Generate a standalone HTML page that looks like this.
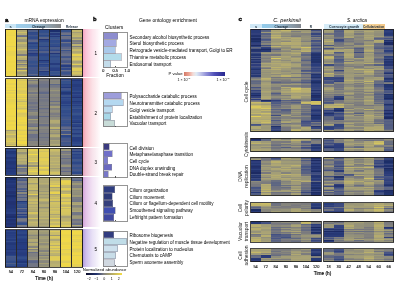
<!DOCTYPE html>
<html><head><meta charset="utf-8"><style>
html,body{margin:0;padding:0;background:#fff;width:400px;height:300px;overflow:hidden}
svg{display:block;font-family:"Liberation Sans",sans-serif}
</style></head><body>
<svg width="400" height="300" viewBox="0 0 400 300" shape-rendering="crispEdges">
<defs><linearGradient id="sg0" x1="0" x2="1" y1="0" y2="0"><stop offset="0" stop-color="#f7a8c4"/><stop offset="0.15" stop-color="#f7a8c4" stop-opacity="0.7"/><stop offset="0.5" stop-color="#f7a8c4" stop-opacity="0.35"/><stop offset="1" stop-color="#f7a8c4" stop-opacity="0.02"/></linearGradient><linearGradient id="sg1" x1="0" x2="1" y1="0" y2="0"><stop offset="0" stop-color="#f3a4b2"/><stop offset="0.15" stop-color="#f3a4b2" stop-opacity="0.7"/><stop offset="0.5" stop-color="#f3a4b2" stop-opacity="0.35"/><stop offset="1" stop-color="#f3a4b2" stop-opacity="0.02"/></linearGradient><linearGradient id="sg2" x1="0" x2="1" y1="0" y2="0"><stop offset="0" stop-color="#e6a8c2"/><stop offset="0.15" stop-color="#e6a8c2" stop-opacity="0.7"/><stop offset="0.5" stop-color="#e6a8c2" stop-opacity="0.35"/><stop offset="1" stop-color="#e6a8c2" stop-opacity="0.02"/></linearGradient><linearGradient id="sg3" x1="0" x2="1" y1="0" y2="0"><stop offset="0" stop-color="#d6a8dc"/><stop offset="0.15" stop-color="#d6a8dc" stop-opacity="0.7"/><stop offset="0.5" stop-color="#d6a8dc" stop-opacity="0.35"/><stop offset="1" stop-color="#d6a8dc" stop-opacity="0.02"/></linearGradient><linearGradient id="sg4" x1="0" x2="1" y1="0" y2="0"><stop offset="0" stop-color="#b8a2e2"/><stop offset="0.15" stop-color="#b8a2e2" stop-opacity="0.7"/><stop offset="0.5" stop-color="#b8a2e2" stop-opacity="0.35"/><stop offset="1" stop-color="#b8a2e2" stop-opacity="0.02"/></linearGradient>
<linearGradient id="hga" x1="0" x2="1"><stop offset="0" stop-color="#9fd0ee"/><stop offset="0.35" stop-color="#9cc6e0"/><stop offset="1" stop-color="#868686"/></linearGradient>
<linearGradient id="hgc" x1="0" x2="1"><stop offset="0" stop-color="#92ccec"/><stop offset="0.35" stop-color="#9cc4dc"/><stop offset="1" stop-color="#80848c"/></linearGradient>
<linearGradient id="hgo" x1="0" x2="1"><stop offset="0" stop-color="#f6d8a0"/><stop offset="1" stop-color="#f4c888"/></linearGradient>
<linearGradient id="pv" x1="0" x2="1"><stop offset="0" stop-color="#d47a68"/><stop offset="0.13" stop-color="#eea898"/><stop offset="0.22" stop-color="#f4dcd8"/><stop offset="0.3" stop-color="#e0ecf4"/><stop offset="0.4" stop-color="#c4c8ea"/><stop offset="0.55" stop-color="#9090d8"/><stop offset="0.75" stop-color="#5050b8"/><stop offset="1" stop-color="#282890"/></linearGradient>
<linearGradient id="na" x1="0" x2="1"><stop offset="0" stop-color="#0c0c28"/><stop offset="0.3" stop-color="#22336f"/><stop offset="0.5" stop-color="#808080"/><stop offset="1" stop-color="#f2dc48"/></linearGradient>
<filter id="bl" x="-5%" y="-5%" width="110%" height="110%"><feGaussianBlur stdDeviation="0.45"/></filter><filter id="bt" x="-5%" y="-5%" width="110%" height="110%"><feGaussianBlur stdDeviation="0.25"/></filter></defs>
<rect width="400" height="300" fill="#fff"/>
<g filter="url(#bl)"><rect x="5.30" y="29.00" width="77.30" height="47.50" fill="#2a2a2a"/><rect x="5.7" y="29.0" width="10.2" height="1.5" fill="#f0d848"/><rect x="5.7" y="30.4" width="10.2" height="1.5" fill="#f0d848"/><rect x="5.7" y="31.8" width="10.2" height="1.5" fill="#eed74a"/><rect x="5.7" y="33.2" width="10.2" height="1.5" fill="#edd64b"/><rect x="5.7" y="34.6" width="10.2" height="1.5" fill="#ead44e"/><rect x="5.7" y="36.0" width="10.2" height="1.5" fill="#f0d848"/><rect x="5.7" y="37.4" width="10.2" height="1.5" fill="#f0d848"/><rect x="5.7" y="38.8" width="10.2" height="1.5" fill="#f0d848"/><rect x="5.7" y="40.2" width="10.2" height="1.5" fill="#f0d848"/><rect x="5.7" y="41.6" width="10.2" height="1.5" fill="#eed74a"/><rect x="5.7" y="43.0" width="10.2" height="1.5" fill="#f0d848"/><rect x="5.7" y="44.4" width="10.2" height="1.5" fill="#f0d848"/><rect x="5.7" y="45.8" width="10.2" height="1.5" fill="#e4cf54"/><rect x="5.7" y="47.2" width="10.2" height="1.5" fill="#f0d848"/><rect x="5.7" y="48.6" width="10.2" height="1.5" fill="#f0d848"/><rect x="5.7" y="50.0" width="10.2" height="1.5" fill="#f0d848"/><rect x="5.7" y="51.4" width="10.2" height="1.5" fill="#e9d34f"/><rect x="5.7" y="52.8" width="10.2" height="1.5" fill="#e7d251"/><rect x="5.7" y="54.1" width="10.2" height="1.5" fill="#e9d34f"/><rect x="5.7" y="55.5" width="10.2" height="1.5" fill="#efd849"/><rect x="5.7" y="56.9" width="10.2" height="1.5" fill="#f0d848"/><rect x="5.7" y="58.3" width="10.2" height="1.5" fill="#f0d848"/><rect x="5.7" y="59.7" width="10.2" height="1.5" fill="#f0d848"/><rect x="5.7" y="61.1" width="10.2" height="1.5" fill="#eed64a"/><rect x="5.7" y="62.5" width="10.2" height="1.5" fill="#f0d848"/><rect x="5.7" y="63.9" width="10.2" height="1.5" fill="#efd849"/><rect x="5.7" y="65.3" width="10.2" height="1.5" fill="#eed74a"/><rect x="5.7" y="66.7" width="10.2" height="1.5" fill="#f0d848"/><rect x="5.7" y="68.1" width="10.2" height="1.5" fill="#f0d848"/><rect x="5.7" y="69.5" width="10.2" height="1.5" fill="#f0d848"/><rect x="5.7" y="70.9" width="10.2" height="1.5" fill="#ebd44d"/><rect x="5.7" y="72.3" width="10.2" height="1.5" fill="#ebd54d"/><rect x="5.7" y="73.7" width="10.2" height="1.5" fill="#f0d848"/><rect x="5.7" y="75.1" width="10.2" height="1.5" fill="#ebd54d"/><rect x="16.7" y="29.0" width="10.2" height="1.5" fill="#82827f"/><rect x="16.7" y="30.4" width="10.2" height="1.5" fill="#b3aa73"/><rect x="16.7" y="31.8" width="10.2" height="1.5" fill="#cbbd68"/><rect x="16.7" y="33.2" width="10.2" height="1.5" fill="#b6ad72"/><rect x="16.7" y="34.6" width="10.2" height="1.5" fill="#737785"/><rect x="16.7" y="36.0" width="10.2" height="1.5" fill="#686e88"/><rect x="16.7" y="37.4" width="10.2" height="1.5" fill="#b8af71"/><rect x="16.7" y="38.8" width="10.2" height="1.5" fill="#9d9978"/><rect x="16.7" y="40.2" width="10.2" height="1.5" fill="#96937a"/><rect x="16.7" y="41.6" width="10.2" height="1.5" fill="#c2b66d"/><rect x="16.7" y="43.0" width="10.2" height="1.5" fill="#c5b96b"/><rect x="16.7" y="44.4" width="10.2" height="1.5" fill="#afa874"/><rect x="16.7" y="45.8" width="10.2" height="1.5" fill="#a8a276"/><rect x="16.7" y="47.2" width="10.2" height="1.5" fill="#b9af70"/><rect x="16.7" y="48.6" width="10.2" height="1.5" fill="#d3c362"/><rect x="16.7" y="50.0" width="10.2" height="1.5" fill="#bbb170"/><rect x="16.7" y="51.4" width="10.2" height="1.5" fill="#aea674"/><rect x="16.7" y="52.8" width="10.2" height="1.5" fill="#aea774"/><rect x="16.7" y="54.1" width="10.2" height="1.5" fill="#7c7d82"/><rect x="16.7" y="55.5" width="10.2" height="1.5" fill="#c5b96b"/><rect x="16.7" y="56.9" width="10.2" height="1.5" fill="#c2b66d"/><rect x="16.7" y="58.3" width="10.2" height="1.5" fill="#b6ad71"/><rect x="16.7" y="59.7" width="10.2" height="1.5" fill="#7a7b82"/><rect x="16.7" y="61.1" width="10.2" height="1.5" fill="#999579"/><rect x="16.7" y="62.5" width="10.2" height="1.5" fill="#bfb46e"/><rect x="16.7" y="63.9" width="10.2" height="1.5" fill="#7d7e81"/><rect x="16.7" y="65.3" width="10.2" height="1.5" fill="#a49e76"/><rect x="16.7" y="66.7" width="10.2" height="1.5" fill="#cbbd67"/><rect x="16.7" y="68.1" width="10.2" height="1.5" fill="#8d8b7c"/><rect x="16.7" y="69.5" width="10.2" height="1.5" fill="#d8c75f"/><rect x="16.7" y="70.9" width="10.2" height="1.5" fill="#b4ab72"/><rect x="16.7" y="72.3" width="10.2" height="1.5" fill="#a49e76"/><rect x="16.7" y="73.7" width="10.2" height="1.5" fill="#b0a874"/><rect x="16.7" y="75.1" width="10.2" height="1.5" fill="#b9af70"/><rect x="27.8" y="29.0" width="10.2" height="1.5" fill="#37528b"/><rect x="27.8" y="30.4" width="10.2" height="1.5" fill="#4f5e88"/><rect x="27.8" y="31.8" width="10.2" height="1.5" fill="#2e4887"/><rect x="27.8" y="33.2" width="10.2" height="1.5" fill="#314b89"/><rect x="27.8" y="34.6" width="10.2" height="1.5" fill="#445789"/><rect x="27.8" y="36.0" width="10.2" height="1.5" fill="#36518c"/><rect x="27.8" y="37.4" width="10.2" height="1.5" fill="#304b89"/><rect x="27.8" y="38.8" width="10.2" height="1.5" fill="#4a5a88"/><rect x="27.8" y="40.2" width="10.2" height="1.5" fill="#5c6688"/><rect x="27.8" y="41.6" width="10.2" height="1.5" fill="#324d8a"/><rect x="27.8" y="43.0" width="10.2" height="1.5" fill="#294083"/><rect x="27.8" y="44.4" width="10.2" height="1.5" fill="#35518c"/><rect x="27.8" y="45.8" width="10.2" height="1.5" fill="#2f4988"/><rect x="27.8" y="47.2" width="10.2" height="1.5" fill="#36518c"/><rect x="27.8" y="48.6" width="10.2" height="1.5" fill="#566288"/><rect x="27.8" y="50.0" width="10.2" height="1.5" fill="#2d4686"/><rect x="27.8" y="51.4" width="10.2" height="1.5" fill="#445789"/><rect x="27.8" y="52.8" width="10.2" height="1.5" fill="#25397b"/><rect x="27.8" y="54.1" width="10.2" height="1.5" fill="#2b4385"/><rect x="27.8" y="55.5" width="10.2" height="1.5" fill="#3f558a"/><rect x="27.8" y="56.9" width="10.2" height="1.5" fill="#4d5c88"/><rect x="27.8" y="58.3" width="10.2" height="1.5" fill="#465889"/><rect x="27.8" y="59.7" width="10.2" height="1.5" fill="#40558a"/><rect x="27.8" y="61.1" width="10.2" height="1.5" fill="#36518c"/><rect x="27.8" y="62.5" width="10.2" height="1.5" fill="#3b538b"/><rect x="27.8" y="63.9" width="10.2" height="1.5" fill="#435789"/><rect x="27.8" y="65.3" width="10.2" height="1.5" fill="#324d8a"/><rect x="27.8" y="66.7" width="10.2" height="1.5" fill="#455889"/><rect x="27.8" y="68.1" width="10.2" height="1.5" fill="#445789"/><rect x="27.8" y="69.5" width="10.2" height="1.5" fill="#3d548a"/><rect x="27.8" y="70.9" width="10.2" height="1.5" fill="#41568a"/><rect x="27.8" y="72.3" width="10.2" height="1.5" fill="#3d548a"/><rect x="27.8" y="73.7" width="10.2" height="1.5" fill="#5f6888"/><rect x="27.8" y="75.1" width="10.2" height="1.5" fill="#3c548b"/><rect x="38.8" y="29.0" width="10.2" height="1.5" fill="#304988"/><rect x="38.8" y="30.4" width="10.2" height="1.5" fill="#324e8b"/><rect x="38.8" y="31.8" width="10.2" height="1.5" fill="#334f8b"/><rect x="38.8" y="33.2" width="10.2" height="1.5" fill="#40568a"/><rect x="38.8" y="34.6" width="10.2" height="1.5" fill="#2e4887"/><rect x="38.8" y="36.0" width="10.2" height="1.5" fill="#39528b"/><rect x="38.8" y="37.4" width="10.2" height="1.5" fill="#5c6688"/><rect x="38.8" y="38.8" width="10.2" height="1.5" fill="#213373"/><rect x="38.8" y="40.2" width="10.2" height="1.5" fill="#2e4787"/><rect x="38.8" y="41.6" width="10.2" height="1.5" fill="#39528b"/><rect x="38.8" y="43.0" width="10.2" height="1.5" fill="#3c548a"/><rect x="38.8" y="44.4" width="10.2" height="1.5" fill="#39528b"/><rect x="38.8" y="45.8" width="10.2" height="1.5" fill="#2b4385"/><rect x="38.8" y="47.2" width="10.2" height="1.5" fill="#435789"/><rect x="38.8" y="48.6" width="10.2" height="1.5" fill="#3b538b"/><rect x="38.8" y="50.0" width="10.2" height="1.5" fill="#314c8a"/><rect x="38.8" y="51.4" width="10.2" height="1.5" fill="#536088"/><rect x="38.8" y="52.8" width="10.2" height="1.5" fill="#324d8a"/><rect x="38.8" y="54.1" width="10.2" height="1.5" fill="#2d4586"/><rect x="38.8" y="55.5" width="10.2" height="1.5" fill="#324d8a"/><rect x="38.8" y="56.9" width="10.2" height="1.5" fill="#334f8b"/><rect x="38.8" y="58.3" width="10.2" height="1.5" fill="#334f8b"/><rect x="38.8" y="59.7" width="10.2" height="1.5" fill="#203271"/><rect x="38.8" y="61.1" width="10.2" height="1.5" fill="#2e4787"/><rect x="38.8" y="62.5" width="10.2" height="1.5" fill="#455889"/><rect x="38.8" y="63.9" width="10.2" height="1.5" fill="#2b4385"/><rect x="38.8" y="65.3" width="10.2" height="1.5" fill="#314c8a"/><rect x="38.8" y="66.7" width="10.2" height="1.5" fill="#4d5c88"/><rect x="38.8" y="68.1" width="10.2" height="1.5" fill="#445789"/><rect x="38.8" y="69.5" width="10.2" height="1.5" fill="#556288"/><rect x="38.8" y="70.9" width="10.2" height="1.5" fill="#25387a"/><rect x="38.8" y="72.3" width="10.2" height="1.5" fill="#2f4888"/><rect x="38.8" y="73.7" width="10.2" height="1.5" fill="#304a89"/><rect x="38.8" y="75.1" width="10.2" height="1.5" fill="#3d548a"/><rect x="49.9" y="29.0" width="10.2" height="1.5" fill="#3e558a"/><rect x="49.9" y="30.4" width="10.2" height="1.5" fill="#1e2e6c"/><rect x="49.9" y="31.8" width="10.2" height="1.5" fill="#3e558a"/><rect x="49.9" y="33.2" width="10.2" height="1.5" fill="#25397a"/><rect x="49.9" y="34.6" width="10.2" height="1.5" fill="#34508c"/><rect x="49.9" y="36.0" width="10.2" height="1.5" fill="#25387a"/><rect x="49.9" y="37.4" width="10.2" height="1.5" fill="#37528b"/><rect x="49.9" y="38.8" width="10.2" height="1.5" fill="#435789"/><rect x="49.9" y="40.2" width="10.2" height="1.5" fill="#334e8b"/><rect x="49.9" y="41.6" width="10.2" height="1.5" fill="#334f8b"/><rect x="49.9" y="43.0" width="10.2" height="1.5" fill="#3d548a"/><rect x="49.9" y="44.4" width="10.2" height="1.5" fill="#334e8b"/><rect x="49.9" y="45.8" width="10.2" height="1.5" fill="#2b4385"/><rect x="49.9" y="47.2" width="10.2" height="1.5" fill="#4b5b88"/><rect x="49.9" y="48.6" width="10.2" height="1.5" fill="#41568a"/><rect x="49.9" y="50.0" width="10.2" height="1.5" fill="#304a89"/><rect x="49.9" y="51.4" width="10.2" height="1.5" fill="#525f88"/><rect x="49.9" y="52.8" width="10.2" height="1.5" fill="#233677"/><rect x="49.9" y="54.1" width="10.2" height="1.5" fill="#38528b"/><rect x="49.9" y="55.5" width="10.2" height="1.5" fill="#2d4686"/><rect x="49.9" y="56.9" width="10.2" height="1.5" fill="#334f8b"/><rect x="49.9" y="58.3" width="10.2" height="1.5" fill="#39528b"/><rect x="49.9" y="59.7" width="10.2" height="1.5" fill="#35508c"/><rect x="49.9" y="61.1" width="10.2" height="1.5" fill="#35508c"/><rect x="49.9" y="62.5" width="10.2" height="1.5" fill="#263a7d"/><rect x="49.9" y="63.9" width="10.2" height="1.5" fill="#263b7d"/><rect x="49.9" y="65.3" width="10.2" height="1.5" fill="#34508c"/><rect x="49.9" y="66.7" width="10.2" height="1.5" fill="#2e4787"/><rect x="49.9" y="68.1" width="10.2" height="1.5" fill="#2a4184"/><rect x="49.9" y="69.5" width="10.2" height="1.5" fill="#283e82"/><rect x="49.9" y="70.9" width="10.2" height="1.5" fill="#3f558a"/><rect x="49.9" y="72.3" width="10.2" height="1.5" fill="#36518c"/><rect x="49.9" y="73.7" width="10.2" height="1.5" fill="#435789"/><rect x="49.9" y="75.1" width="10.2" height="1.5" fill="#293f83"/><rect x="60.9" y="29.0" width="10.2" height="1.5" fill="#495988"/><rect x="60.9" y="30.4" width="10.2" height="1.5" fill="#39528b"/><rect x="60.9" y="31.8" width="10.2" height="1.5" fill="#5c6688"/><rect x="60.9" y="33.2" width="10.2" height="1.5" fill="#6e7386"/><rect x="60.9" y="34.6" width="10.2" height="1.5" fill="#35518c"/><rect x="60.9" y="36.0" width="10.2" height="1.5" fill="#6e7386"/><rect x="60.9" y="37.4" width="10.2" height="1.5" fill="#6c7187"/><rect x="60.9" y="38.8" width="10.2" height="1.5" fill="#495a88"/><rect x="60.9" y="40.2" width="10.2" height="1.5" fill="#304a89"/><rect x="60.9" y="41.6" width="10.2" height="1.5" fill="#6e7386"/><rect x="60.9" y="43.0" width="10.2" height="1.5" fill="#4b5a88"/><rect x="60.9" y="44.4" width="10.2" height="1.5" fill="#40568a"/><rect x="60.9" y="45.8" width="10.2" height="1.5" fill="#485988"/><rect x="60.9" y="47.2" width="10.2" height="1.5" fill="#5b6688"/><rect x="60.9" y="48.6" width="10.2" height="1.5" fill="#717585"/><rect x="60.9" y="50.0" width="10.2" height="1.5" fill="#3b538b"/><rect x="60.9" y="51.4" width="10.2" height="1.5" fill="#5a6588"/><rect x="60.9" y="52.8" width="10.2" height="1.5" fill="#626b88"/><rect x="60.9" y="54.1" width="10.2" height="1.5" fill="#686f88"/><rect x="60.9" y="55.5" width="10.2" height="1.5" fill="#445789"/><rect x="60.9" y="56.9" width="10.2" height="1.5" fill="#3f558a"/><rect x="60.9" y="58.3" width="10.2" height="1.5" fill="#646c88"/><rect x="60.9" y="59.7" width="10.2" height="1.5" fill="#515f88"/><rect x="60.9" y="61.1" width="10.2" height="1.5" fill="#495988"/><rect x="60.9" y="62.5" width="10.2" height="1.5" fill="#6f7386"/><rect x="60.9" y="63.9" width="10.2" height="1.5" fill="#485988"/><rect x="60.9" y="65.3" width="10.2" height="1.5" fill="#283e82"/><rect x="60.9" y="66.7" width="10.2" height="1.5" fill="#4e5d88"/><rect x="60.9" y="68.1" width="10.2" height="1.5" fill="#304a89"/><rect x="60.9" y="69.5" width="10.2" height="1.5" fill="#696f88"/><rect x="60.9" y="70.9" width="10.2" height="1.5" fill="#4d5c88"/><rect x="60.9" y="72.3" width="10.2" height="1.5" fill="#3b538b"/><rect x="60.9" y="73.7" width="10.2" height="1.5" fill="#485988"/><rect x="60.9" y="75.1" width="10.2" height="1.5" fill="#5e6888"/><rect x="72.0" y="29.0" width="10.2" height="1.5" fill="#a6a076"/><rect x="72.0" y="30.4" width="10.2" height="1.5" fill="#c3b76c"/><rect x="72.0" y="31.8" width="10.2" height="1.5" fill="#a49e76"/><rect x="72.0" y="33.2" width="10.2" height="1.5" fill="#b9af70"/><rect x="72.0" y="34.6" width="10.2" height="1.5" fill="#bfb46e"/><rect x="72.0" y="36.0" width="10.2" height="1.5" fill="#c5b96b"/><rect x="72.0" y="37.4" width="10.2" height="1.5" fill="#9e9a78"/><rect x="72.0" y="38.8" width="10.2" height="1.5" fill="#bab070"/><rect x="72.0" y="40.2" width="10.2" height="1.5" fill="#7d7e81"/><rect x="72.0" y="41.6" width="10.2" height="1.5" fill="#8d8b7c"/><rect x="72.0" y="43.0" width="10.2" height="1.5" fill="#787a83"/><rect x="72.0" y="44.4" width="10.2" height="1.5" fill="#bcb26f"/><rect x="72.0" y="45.8" width="10.2" height="1.5" fill="#7d7e81"/><rect x="72.0" y="47.2" width="10.2" height="1.5" fill="#aaa375"/><rect x="72.0" y="48.6" width="10.2" height="1.5" fill="#c3b76d"/><rect x="72.0" y="50.0" width="10.2" height="1.5" fill="#c6ba6a"/><rect x="72.0" y="51.4" width="10.2" height="1.5" fill="#b0a874"/><rect x="72.0" y="52.8" width="10.2" height="1.5" fill="#c0b56e"/><rect x="72.0" y="54.1" width="10.2" height="1.5" fill="#e7d251"/><rect x="72.0" y="55.5" width="10.2" height="1.5" fill="#c3b76d"/><rect x="72.0" y="56.9" width="10.2" height="1.5" fill="#d3c362"/><rect x="72.0" y="58.3" width="10.2" height="1.5" fill="#dcca5c"/><rect x="72.0" y="59.7" width="10.2" height="1.5" fill="#c3b76d"/><rect x="72.0" y="61.1" width="10.2" height="1.5" fill="#a8a176"/><rect x="72.0" y="62.5" width="10.2" height="1.5" fill="#bab070"/><rect x="72.0" y="63.9" width="10.2" height="1.5" fill="#dfcc59"/><rect x="72.0" y="65.3" width="10.2" height="1.5" fill="#a09b77"/><rect x="72.0" y="66.7" width="10.2" height="1.5" fill="#c1b56d"/><rect x="72.0" y="68.1" width="10.2" height="1.5" fill="#dfcc59"/><rect x="72.0" y="69.5" width="10.2" height="1.5" fill="#decb5a"/><rect x="72.0" y="70.9" width="10.2" height="1.5" fill="#c1b66d"/><rect x="72.0" y="72.3" width="10.2" height="1.5" fill="#d3c362"/><rect x="72.0" y="73.7" width="10.2" height="1.5" fill="#c6b96b"/><rect x="72.0" y="75.1" width="10.2" height="1.5" fill="#aca575"/><rect x="5.30" y="29.00" width="77.30" height="47.50" fill="none" stroke="#1a1a1a" stroke-width="0.8"/><rect x="5.30" y="78.50" width="77.30" height="68.00" fill="#2a2a2a"/><rect x="5.7" y="78.5" width="10.2" height="1.5" fill="#e5d053"/><rect x="5.7" y="79.9" width="10.2" height="1.5" fill="#edd64b"/><rect x="5.7" y="81.3" width="10.2" height="1.5" fill="#f0d848"/><rect x="5.7" y="82.7" width="10.2" height="1.5" fill="#e8d250"/><rect x="5.7" y="84.1" width="10.2" height="1.5" fill="#e6d152"/><rect x="5.7" y="85.4" width="10.2" height="1.5" fill="#f0d848"/><rect x="5.7" y="86.8" width="10.2" height="1.5" fill="#e9d34f"/><rect x="5.7" y="88.2" width="10.2" height="1.5" fill="#efd749"/><rect x="5.7" y="89.6" width="10.2" height="1.5" fill="#dfcc59"/><rect x="5.7" y="91.0" width="10.2" height="1.5" fill="#f0d848"/><rect x="5.7" y="92.4" width="10.2" height="1.5" fill="#e3cf55"/><rect x="5.7" y="93.8" width="10.2" height="1.5" fill="#f0d848"/><rect x="5.7" y="95.2" width="10.2" height="1.5" fill="#ecd54c"/><rect x="5.7" y="96.5" width="10.2" height="1.5" fill="#e4cf54"/><rect x="5.7" y="97.9" width="10.2" height="1.5" fill="#f0d848"/><rect x="5.7" y="99.3" width="10.2" height="1.5" fill="#e6d152"/><rect x="5.7" y="100.7" width="10.2" height="1.5" fill="#e6d152"/><rect x="5.7" y="102.1" width="10.2" height="1.5" fill="#ead44e"/><rect x="5.7" y="103.5" width="10.2" height="1.5" fill="#edd64b"/><rect x="5.7" y="104.9" width="10.2" height="1.5" fill="#efd849"/><rect x="5.7" y="106.3" width="10.2" height="1.5" fill="#f0d848"/><rect x="5.7" y="107.6" width="10.2" height="1.5" fill="#edd64b"/><rect x="5.7" y="109.0" width="10.2" height="1.5" fill="#efd749"/><rect x="5.7" y="110.4" width="10.2" height="1.5" fill="#f0d848"/><rect x="5.7" y="111.8" width="10.2" height="1.5" fill="#f0d848"/><rect x="5.7" y="113.2" width="10.2" height="1.5" fill="#f0d848"/><rect x="5.7" y="114.6" width="10.2" height="1.5" fill="#edd64b"/><rect x="5.7" y="116.0" width="10.2" height="1.5" fill="#ead44e"/><rect x="5.7" y="117.4" width="10.2" height="1.5" fill="#f0d848"/><rect x="5.7" y="118.7" width="10.2" height="1.5" fill="#f0d848"/><rect x="5.7" y="120.1" width="10.2" height="1.5" fill="#e8d250"/><rect x="5.7" y="121.5" width="10.2" height="1.5" fill="#f0d848"/><rect x="5.7" y="122.9" width="10.2" height="1.5" fill="#f0d848"/><rect x="5.7" y="124.3" width="10.2" height="1.5" fill="#ebd44d"/><rect x="5.7" y="125.7" width="10.2" height="1.5" fill="#f0d848"/><rect x="5.7" y="127.1" width="10.2" height="1.5" fill="#f0d848"/><rect x="5.7" y="128.5" width="10.2" height="1.5" fill="#ead44e"/><rect x="5.7" y="129.8" width="10.2" height="1.5" fill="#a19c77"/><rect x="5.7" y="131.2" width="10.2" height="1.5" fill="#c3b86c"/><rect x="5.7" y="132.6" width="10.2" height="1.5" fill="#c8bb69"/><rect x="5.7" y="134.0" width="10.2" height="1.5" fill="#dac85d"/><rect x="5.7" y="135.4" width="10.2" height="1.5" fill="#bfb46e"/><rect x="5.7" y="136.8" width="10.2" height="1.5" fill="#c2b66d"/><rect x="5.7" y="138.2" width="10.2" height="1.5" fill="#d4c461"/><rect x="5.7" y="139.6" width="10.2" height="1.5" fill="#d5c561"/><rect x="5.7" y="140.9" width="10.2" height="1.5" fill="#decb5a"/><rect x="5.7" y="142.3" width="10.2" height="1.5" fill="#cfc065"/><rect x="5.7" y="143.7" width="10.2" height="1.5" fill="#c2b66d"/><rect x="5.7" y="145.1" width="10.2" height="1.5" fill="#d7c65f"/><rect x="16.7" y="78.5" width="10.2" height="1.5" fill="#dcca5c"/><rect x="16.7" y="79.9" width="10.2" height="1.5" fill="#d7c65f"/><rect x="16.7" y="81.3" width="10.2" height="1.5" fill="#e2ce56"/><rect x="16.7" y="82.7" width="10.2" height="1.5" fill="#e1cd57"/><rect x="16.7" y="84.1" width="10.2" height="1.5" fill="#decb5a"/><rect x="16.7" y="85.4" width="10.2" height="1.5" fill="#e1ce57"/><rect x="16.7" y="86.8" width="10.2" height="1.5" fill="#dcca5c"/><rect x="16.7" y="88.2" width="10.2" height="1.5" fill="#e5d053"/><rect x="16.7" y="89.6" width="10.2" height="1.5" fill="#dcca5c"/><rect x="16.7" y="91.0" width="10.2" height="1.5" fill="#d8c75f"/><rect x="16.7" y="92.4" width="10.2" height="1.5" fill="#dcca5c"/><rect x="16.7" y="93.8" width="10.2" height="1.5" fill="#f0d848"/><rect x="16.7" y="95.2" width="10.2" height="1.5" fill="#e5d053"/><rect x="16.7" y="96.5" width="10.2" height="1.5" fill="#d7c65f"/><rect x="16.7" y="97.9" width="10.2" height="1.5" fill="#ecd54c"/><rect x="16.7" y="99.3" width="10.2" height="1.5" fill="#d8c75f"/><rect x="16.7" y="100.7" width="10.2" height="1.5" fill="#c1b66d"/><rect x="16.7" y="102.1" width="10.2" height="1.5" fill="#e0cd58"/><rect x="16.7" y="103.5" width="10.2" height="1.5" fill="#dcca5c"/><rect x="16.7" y="104.9" width="10.2" height="1.5" fill="#e9d34f"/><rect x="16.7" y="106.3" width="10.2" height="1.5" fill="#ddca5b"/><rect x="16.7" y="107.6" width="10.2" height="1.5" fill="#cabc68"/><rect x="16.7" y="109.0" width="10.2" height="1.5" fill="#dcca5c"/><rect x="16.7" y="110.4" width="10.2" height="1.5" fill="#f0d848"/><rect x="16.7" y="111.8" width="10.2" height="1.5" fill="#e6d152"/><rect x="16.7" y="113.2" width="10.2" height="1.5" fill="#d9c75e"/><rect x="16.7" y="114.6" width="10.2" height="1.5" fill="#decb5a"/><rect x="16.7" y="116.0" width="10.2" height="1.5" fill="#decc5a"/><rect x="16.7" y="117.4" width="10.2" height="1.5" fill="#edd64b"/><rect x="16.7" y="118.7" width="10.2" height="1.5" fill="#ecd54c"/><rect x="16.7" y="120.1" width="10.2" height="1.5" fill="#f0d848"/><rect x="16.7" y="121.5" width="10.2" height="1.5" fill="#e8d350"/><rect x="16.7" y="122.9" width="10.2" height="1.5" fill="#edd64b"/><rect x="16.7" y="124.3" width="10.2" height="1.5" fill="#e1cd57"/><rect x="16.7" y="125.7" width="10.2" height="1.5" fill="#f0d848"/><rect x="16.7" y="127.1" width="10.2" height="1.5" fill="#f0d848"/><rect x="16.7" y="128.5" width="10.2" height="1.5" fill="#e9d34f"/><rect x="16.7" y="129.8" width="10.2" height="1.5" fill="#dcca5c"/><rect x="16.7" y="131.2" width="10.2" height="1.5" fill="#ebd54d"/><rect x="16.7" y="132.6" width="10.2" height="1.5" fill="#ead44e"/><rect x="16.7" y="134.0" width="10.2" height="1.5" fill="#e3cf55"/><rect x="16.7" y="135.4" width="10.2" height="1.5" fill="#f0d848"/><rect x="16.7" y="136.8" width="10.2" height="1.5" fill="#e5d053"/><rect x="16.7" y="138.2" width="10.2" height="1.5" fill="#ecd54c"/><rect x="16.7" y="139.6" width="10.2" height="1.5" fill="#e3cf55"/><rect x="16.7" y="140.9" width="10.2" height="1.5" fill="#f0d848"/><rect x="16.7" y="142.3" width="10.2" height="1.5" fill="#f0d848"/><rect x="16.7" y="143.7" width="10.2" height="1.5" fill="#e0cd58"/><rect x="16.7" y="145.1" width="10.2" height="1.5" fill="#dfcc59"/><rect x="27.8" y="78.5" width="10.2" height="1.5" fill="#9f9b77"/><rect x="27.8" y="79.9" width="10.2" height="1.5" fill="#787a83"/><rect x="27.8" y="81.3" width="10.2" height="1.5" fill="#95927a"/><rect x="27.8" y="82.7" width="10.2" height="1.5" fill="#8d8b7c"/><rect x="27.8" y="84.1" width="10.2" height="1.5" fill="#7b7c82"/><rect x="27.8" y="85.4" width="10.2" height="1.5" fill="#6c7287"/><rect x="27.8" y="86.8" width="10.2" height="1.5" fill="#7a7c82"/><rect x="27.8" y="88.2" width="10.2" height="1.5" fill="#85847f"/><rect x="27.8" y="89.6" width="10.2" height="1.5" fill="#8b897d"/><rect x="27.8" y="91.0" width="10.2" height="1.5" fill="#908d7c"/><rect x="27.8" y="92.4" width="10.2" height="1.5" fill="#737785"/><rect x="27.8" y="93.8" width="10.2" height="1.5" fill="#918e7b"/><rect x="27.8" y="95.2" width="10.2" height="1.5" fill="#85847f"/><rect x="27.8" y="96.5" width="10.2" height="1.5" fill="#787a83"/><rect x="27.8" y="97.9" width="10.2" height="1.5" fill="#86857e"/><rect x="27.8" y="99.3" width="10.2" height="1.5" fill="#7b7d82"/><rect x="27.8" y="100.7" width="10.2" height="1.5" fill="#7d7e81"/><rect x="27.8" y="102.1" width="10.2" height="1.5" fill="#6d7287"/><rect x="27.8" y="103.5" width="10.2" height="1.5" fill="#797b82"/><rect x="27.8" y="104.9" width="10.2" height="1.5" fill="#7e7e81"/><rect x="27.8" y="106.3" width="10.2" height="1.5" fill="#717585"/><rect x="27.8" y="107.6" width="10.2" height="1.5" fill="#7e7f81"/><rect x="27.8" y="109.0" width="10.2" height="1.5" fill="#696f88"/><rect x="27.8" y="110.4" width="10.2" height="1.5" fill="#797b83"/><rect x="27.8" y="111.8" width="10.2" height="1.5" fill="#93907b"/><rect x="27.8" y="113.2" width="10.2" height="1.5" fill="#8e8c7c"/><rect x="27.8" y="114.6" width="10.2" height="1.5" fill="#82827f"/><rect x="27.8" y="116.0" width="10.2" height="1.5" fill="#717585"/><rect x="27.8" y="117.4" width="10.2" height="1.5" fill="#727685"/><rect x="27.8" y="118.7" width="10.2" height="1.5" fill="#a49f76"/><rect x="27.8" y="120.1" width="10.2" height="1.5" fill="#87867e"/><rect x="27.8" y="121.5" width="10.2" height="1.5" fill="#8f8d7c"/><rect x="27.8" y="122.9" width="10.2" height="1.5" fill="#7f7f80"/><rect x="27.8" y="124.3" width="10.2" height="1.5" fill="#747784"/><rect x="27.8" y="125.7" width="10.2" height="1.5" fill="#6b7088"/><rect x="27.8" y="127.1" width="10.2" height="1.5" fill="#9d9978"/><rect x="27.8" y="128.5" width="10.2" height="1.5" fill="#89887d"/><rect x="27.8" y="129.8" width="10.2" height="1.5" fill="#6b7188"/><rect x="27.8" y="131.2" width="10.2" height="1.5" fill="#8c8b7c"/><rect x="27.8" y="132.6" width="10.2" height="1.5" fill="#8a887d"/><rect x="27.8" y="134.0" width="10.2" height="1.5" fill="#6c7187"/><rect x="27.8" y="135.4" width="10.2" height="1.5" fill="#6d7287"/><rect x="27.8" y="136.8" width="10.2" height="1.5" fill="#6d7287"/><rect x="27.8" y="138.2" width="10.2" height="1.5" fill="#777a83"/><rect x="27.8" y="139.6" width="10.2" height="1.5" fill="#6f7486"/><rect x="27.8" y="140.9" width="10.2" height="1.5" fill="#86857e"/><rect x="27.8" y="142.3" width="10.2" height="1.5" fill="#84837f"/><rect x="27.8" y="143.7" width="10.2" height="1.5" fill="#89887d"/><rect x="27.8" y="145.1" width="10.2" height="1.5" fill="#85847f"/><rect x="38.8" y="78.5" width="10.2" height="1.5" fill="#7f7f80"/><rect x="38.8" y="79.9" width="10.2" height="1.5" fill="#828180"/><rect x="38.8" y="81.3" width="10.2" height="1.5" fill="#747784"/><rect x="38.8" y="82.7" width="10.2" height="1.5" fill="#737785"/><rect x="38.8" y="84.1" width="10.2" height="1.5" fill="#6c7287"/><rect x="38.8" y="85.4" width="10.2" height="1.5" fill="#6d7287"/><rect x="38.8" y="86.8" width="10.2" height="1.5" fill="#717585"/><rect x="38.8" y="88.2" width="10.2" height="1.5" fill="#7a7c82"/><rect x="38.8" y="89.6" width="10.2" height="1.5" fill="#787a83"/><rect x="38.8" y="91.0" width="10.2" height="1.5" fill="#6f7386"/><rect x="38.8" y="92.4" width="10.2" height="1.5" fill="#5f6988"/><rect x="38.8" y="93.8" width="10.2" height="1.5" fill="#7c7d81"/><rect x="38.8" y="95.2" width="10.2" height="1.5" fill="#757884"/><rect x="38.8" y="96.5" width="10.2" height="1.5" fill="#6d7287"/><rect x="38.8" y="97.9" width="10.2" height="1.5" fill="#7e7e81"/><rect x="38.8" y="99.3" width="10.2" height="1.5" fill="#727685"/><rect x="38.8" y="100.7" width="10.2" height="1.5" fill="#747884"/><rect x="38.8" y="102.1" width="10.2" height="1.5" fill="#797b83"/><rect x="38.8" y="103.5" width="10.2" height="1.5" fill="#7b7d82"/><rect x="38.8" y="104.9" width="10.2" height="1.5" fill="#727685"/><rect x="38.8" y="106.3" width="10.2" height="1.5" fill="#7d7e81"/><rect x="38.8" y="107.6" width="10.2" height="1.5" fill="#656d88"/><rect x="38.8" y="109.0" width="10.2" height="1.5" fill="#767884"/><rect x="38.8" y="110.4" width="10.2" height="1.5" fill="#7d7e81"/><rect x="38.8" y="111.8" width="10.2" height="1.5" fill="#757884"/><rect x="38.8" y="113.2" width="10.2" height="1.5" fill="#808080"/><rect x="38.8" y="114.6" width="10.2" height="1.5" fill="#7e7f81"/><rect x="38.8" y="116.0" width="10.2" height="1.5" fill="#606988"/><rect x="38.8" y="117.4" width="10.2" height="1.5" fill="#7d7e81"/><rect x="38.8" y="118.7" width="10.2" height="1.5" fill="#7f7f80"/><rect x="38.8" y="120.1" width="10.2" height="1.5" fill="#7d7e81"/><rect x="38.8" y="121.5" width="10.2" height="1.5" fill="#7d7e81"/><rect x="38.8" y="122.9" width="10.2" height="1.5" fill="#86857e"/><rect x="38.8" y="124.3" width="10.2" height="1.5" fill="#696f88"/><rect x="38.8" y="125.7" width="10.2" height="1.5" fill="#7c7d82"/><rect x="38.8" y="127.1" width="10.2" height="1.5" fill="#89887d"/><rect x="38.8" y="128.5" width="10.2" height="1.5" fill="#7c7d82"/><rect x="38.8" y="129.8" width="10.2" height="1.5" fill="#818180"/><rect x="38.8" y="131.2" width="10.2" height="1.5" fill="#7f7f81"/><rect x="38.8" y="132.6" width="10.2" height="1.5" fill="#6e7387"/><rect x="38.8" y="134.0" width="10.2" height="1.5" fill="#7a7c82"/><rect x="38.8" y="135.4" width="10.2" height="1.5" fill="#797b83"/><rect x="38.8" y="136.8" width="10.2" height="1.5" fill="#6c7187"/><rect x="38.8" y="138.2" width="10.2" height="1.5" fill="#797b83"/><rect x="38.8" y="139.6" width="10.2" height="1.5" fill="#787a83"/><rect x="38.8" y="140.9" width="10.2" height="1.5" fill="#808080"/><rect x="38.8" y="142.3" width="10.2" height="1.5" fill="#7f7f80"/><rect x="38.8" y="143.7" width="10.2" height="1.5" fill="#767984"/><rect x="38.8" y="145.1" width="10.2" height="1.5" fill="#8c8a7d"/><rect x="49.9" y="78.5" width="10.2" height="1.5" fill="#747784"/><rect x="49.9" y="79.9" width="10.2" height="1.5" fill="#8b897d"/><rect x="49.9" y="81.3" width="10.2" height="1.5" fill="#88877e"/><rect x="49.9" y="82.7" width="10.2" height="1.5" fill="#8c8a7d"/><rect x="49.9" y="84.1" width="10.2" height="1.5" fill="#5d6788"/><rect x="49.9" y="85.4" width="10.2" height="1.5" fill="#737785"/><rect x="49.9" y="86.8" width="10.2" height="1.5" fill="#7a7c82"/><rect x="49.9" y="88.2" width="10.2" height="1.5" fill="#88877e"/><rect x="49.9" y="89.6" width="10.2" height="1.5" fill="#989579"/><rect x="49.9" y="91.0" width="10.2" height="1.5" fill="#87867e"/><rect x="49.9" y="92.4" width="10.2" height="1.5" fill="#818180"/><rect x="49.9" y="93.8" width="10.2" height="1.5" fill="#8d8b7c"/><rect x="49.9" y="95.2" width="10.2" height="1.5" fill="#89887d"/><rect x="49.9" y="96.5" width="10.2" height="1.5" fill="#7b7c82"/><rect x="49.9" y="97.9" width="10.2" height="1.5" fill="#83827f"/><rect x="49.9" y="99.3" width="10.2" height="1.5" fill="#85847f"/><rect x="49.9" y="100.7" width="10.2" height="1.5" fill="#676e88"/><rect x="49.9" y="102.1" width="10.2" height="1.5" fill="#8a897d"/><rect x="49.9" y="103.5" width="10.2" height="1.5" fill="#767983"/><rect x="49.9" y="104.9" width="10.2" height="1.5" fill="#808080"/><rect x="49.9" y="106.3" width="10.2" height="1.5" fill="#a19c77"/><rect x="49.9" y="107.6" width="10.2" height="1.5" fill="#82827f"/><rect x="49.9" y="109.0" width="10.2" height="1.5" fill="#85847f"/><rect x="49.9" y="110.4" width="10.2" height="1.5" fill="#93907b"/><rect x="49.9" y="111.8" width="10.2" height="1.5" fill="#8a887d"/><rect x="49.9" y="113.2" width="10.2" height="1.5" fill="#7b7c82"/><rect x="49.9" y="114.6" width="10.2" height="1.5" fill="#87867e"/><rect x="49.9" y="116.0" width="10.2" height="1.5" fill="#7b7c82"/><rect x="49.9" y="117.4" width="10.2" height="1.5" fill="#908e7b"/><rect x="49.9" y="118.7" width="10.2" height="1.5" fill="#96937a"/><rect x="49.9" y="120.1" width="10.2" height="1.5" fill="#b3aa73"/><rect x="49.9" y="121.5" width="10.2" height="1.5" fill="#b1a974"/><rect x="49.9" y="122.9" width="10.2" height="1.5" fill="#a6a076"/><rect x="49.9" y="124.3" width="10.2" height="1.5" fill="#95927a"/><rect x="49.9" y="125.7" width="10.2" height="1.5" fill="#979479"/><rect x="49.9" y="127.1" width="10.2" height="1.5" fill="#bcb26f"/><rect x="49.9" y="128.5" width="10.2" height="1.5" fill="#88877e"/><rect x="49.9" y="129.8" width="10.2" height="1.5" fill="#a9a275"/><rect x="49.9" y="131.2" width="10.2" height="1.5" fill="#9f9a77"/><rect x="49.9" y="132.6" width="10.2" height="1.5" fill="#8e8c7c"/><rect x="49.9" y="134.0" width="10.2" height="1.5" fill="#a9a275"/><rect x="49.9" y="135.4" width="10.2" height="1.5" fill="#b3ab73"/><rect x="49.9" y="136.8" width="10.2" height="1.5" fill="#95927a"/><rect x="49.9" y="138.2" width="10.2" height="1.5" fill="#8e8c7c"/><rect x="49.9" y="139.6" width="10.2" height="1.5" fill="#a9a275"/><rect x="49.9" y="140.9" width="10.2" height="1.5" fill="#9f9b77"/><rect x="49.9" y="142.3" width="10.2" height="1.5" fill="#a09b77"/><rect x="49.9" y="143.7" width="10.2" height="1.5" fill="#b0a874"/><rect x="49.9" y="145.1" width="10.2" height="1.5" fill="#a7a176"/><rect x="60.9" y="78.5" width="10.2" height="1.5" fill="#2b4284"/><rect x="60.9" y="79.9" width="10.2" height="1.5" fill="#475989"/><rect x="60.9" y="81.3" width="10.2" height="1.5" fill="#36518c"/><rect x="60.9" y="82.7" width="10.2" height="1.5" fill="#37518b"/><rect x="60.9" y="84.1" width="10.2" height="1.5" fill="#2c4485"/><rect x="60.9" y="85.4" width="10.2" height="1.5" fill="#304a89"/><rect x="60.9" y="86.8" width="10.2" height="1.5" fill="#24387a"/><rect x="60.9" y="88.2" width="10.2" height="1.5" fill="#445789"/><rect x="60.9" y="89.6" width="10.2" height="1.5" fill="#3a538b"/><rect x="60.9" y="91.0" width="10.2" height="1.5" fill="#2c4486"/><rect x="60.9" y="92.4" width="10.2" height="1.5" fill="#233778"/><rect x="60.9" y="93.8" width="10.2" height="1.5" fill="#2a4183"/><rect x="60.9" y="95.2" width="10.2" height="1.5" fill="#3b538b"/><rect x="60.9" y="96.5" width="10.2" height="1.5" fill="#2a4184"/><rect x="60.9" y="97.9" width="10.2" height="1.5" fill="#35508c"/><rect x="60.9" y="99.3" width="10.2" height="1.5" fill="#304a88"/><rect x="60.9" y="100.7" width="10.2" height="1.5" fill="#2b4385"/><rect x="60.9" y="102.1" width="10.2" height="1.5" fill="#294083"/><rect x="60.9" y="103.5" width="10.2" height="1.5" fill="#344f8c"/><rect x="60.9" y="104.9" width="10.2" height="1.5" fill="#283f82"/><rect x="60.9" y="106.3" width="10.2" height="1.5" fill="#35508c"/><rect x="60.9" y="107.6" width="10.2" height="1.5" fill="#39528b"/><rect x="60.9" y="109.0" width="10.2" height="1.5" fill="#3a538b"/><rect x="60.9" y="110.4" width="10.2" height="1.5" fill="#324d8a"/><rect x="60.9" y="111.8" width="10.2" height="1.5" fill="#314c8a"/><rect x="60.9" y="113.2" width="10.2" height="1.5" fill="#37518c"/><rect x="60.9" y="114.6" width="10.2" height="1.5" fill="#314b89"/><rect x="60.9" y="116.0" width="10.2" height="1.5" fill="#37518b"/><rect x="60.9" y="117.4" width="10.2" height="1.5" fill="#3f558a"/><rect x="60.9" y="118.7" width="10.2" height="1.5" fill="#4a5a88"/><rect x="60.9" y="120.1" width="10.2" height="1.5" fill="#3b538b"/><rect x="60.9" y="121.5" width="10.2" height="1.5" fill="#36518c"/><rect x="60.9" y="122.9" width="10.2" height="1.5" fill="#3f558a"/><rect x="60.9" y="124.3" width="10.2" height="1.5" fill="#35508c"/><rect x="60.9" y="125.7" width="10.2" height="1.5" fill="#4d5c88"/><rect x="60.9" y="127.1" width="10.2" height="1.5" fill="#636b88"/><rect x="60.9" y="128.5" width="10.2" height="1.5" fill="#495a88"/><rect x="60.9" y="129.8" width="10.2" height="1.5" fill="#777a83"/><rect x="60.9" y="131.2" width="10.2" height="1.5" fill="#425789"/><rect x="60.9" y="132.6" width="10.2" height="1.5" fill="#445789"/><rect x="60.9" y="134.0" width="10.2" height="1.5" fill="#84837f"/><rect x="60.9" y="135.4" width="10.2" height="1.5" fill="#2e4787"/><rect x="60.9" y="136.8" width="10.2" height="1.5" fill="#36518c"/><rect x="60.9" y="138.2" width="10.2" height="1.5" fill="#475989"/><rect x="60.9" y="139.6" width="10.2" height="1.5" fill="#495988"/><rect x="60.9" y="140.9" width="10.2" height="1.5" fill="#536088"/><rect x="60.9" y="142.3" width="10.2" height="1.5" fill="#40568a"/><rect x="60.9" y="143.7" width="10.2" height="1.5" fill="#4a5a88"/><rect x="60.9" y="145.1" width="10.2" height="1.5" fill="#40558a"/><rect x="72.0" y="78.5" width="10.2" height="1.5" fill="#2c4385"/><rect x="72.0" y="79.9" width="10.2" height="1.5" fill="#233576"/><rect x="72.0" y="81.3" width="10.2" height="1.5" fill="#2b4385"/><rect x="72.0" y="82.7" width="10.2" height="1.5" fill="#2b4284"/><rect x="72.0" y="84.1" width="10.2" height="1.5" fill="#253a7c"/><rect x="72.0" y="85.4" width="10.2" height="1.5" fill="#263a7d"/><rect x="72.0" y="86.8" width="10.2" height="1.5" fill="#2b4284"/><rect x="72.0" y="88.2" width="10.2" height="1.5" fill="#294083"/><rect x="72.0" y="89.6" width="10.2" height="1.5" fill="#2c4485"/><rect x="72.0" y="91.0" width="10.2" height="1.5" fill="#314c8a"/><rect x="72.0" y="92.4" width="10.2" height="1.5" fill="#273d80"/><rect x="72.0" y="93.8" width="10.2" height="1.5" fill="#304a89"/><rect x="72.0" y="95.2" width="10.2" height="1.5" fill="#2a4184"/><rect x="72.0" y="96.5" width="10.2" height="1.5" fill="#213373"/><rect x="72.0" y="97.9" width="10.2" height="1.5" fill="#2f4887"/><rect x="72.0" y="99.3" width="10.2" height="1.5" fill="#2e4787"/><rect x="72.0" y="100.7" width="10.2" height="1.5" fill="#243879"/><rect x="72.0" y="102.1" width="10.2" height="1.5" fill="#294083"/><rect x="72.0" y="103.5" width="10.2" height="1.5" fill="#314b89"/><rect x="72.0" y="104.9" width="10.2" height="1.5" fill="#273d80"/><rect x="72.0" y="106.3" width="10.2" height="1.5" fill="#324d8a"/><rect x="72.0" y="107.6" width="10.2" height="1.5" fill="#3b538b"/><rect x="72.0" y="109.0" width="10.2" height="1.5" fill="#2c4485"/><rect x="72.0" y="110.4" width="10.2" height="1.5" fill="#2e4787"/><rect x="72.0" y="111.8" width="10.2" height="1.5" fill="#304a88"/><rect x="72.0" y="113.2" width="10.2" height="1.5" fill="#37528b"/><rect x="72.0" y="114.6" width="10.2" height="1.5" fill="#2f4988"/><rect x="72.0" y="116.0" width="10.2" height="1.5" fill="#2b4284"/><rect x="72.0" y="117.4" width="10.2" height="1.5" fill="#2c4485"/><rect x="72.0" y="118.7" width="10.2" height="1.5" fill="#304b89"/><rect x="72.0" y="120.1" width="10.2" height="1.5" fill="#2c4385"/><rect x="72.0" y="121.5" width="10.2" height="1.5" fill="#233778"/><rect x="72.0" y="122.9" width="10.2" height="1.5" fill="#3e548a"/><rect x="72.0" y="124.3" width="10.2" height="1.5" fill="#2c4385"/><rect x="72.0" y="125.7" width="10.2" height="1.5" fill="#263b7d"/><rect x="72.0" y="127.1" width="10.2" height="1.5" fill="#3a538b"/><rect x="72.0" y="128.5" width="10.2" height="1.5" fill="#294083"/><rect x="72.0" y="129.8" width="10.2" height="1.5" fill="#314b89"/><rect x="72.0" y="131.2" width="10.2" height="1.5" fill="#34508c"/><rect x="72.0" y="132.6" width="10.2" height="1.5" fill="#253a7c"/><rect x="72.0" y="134.0" width="10.2" height="1.5" fill="#2d4686"/><rect x="72.0" y="135.4" width="10.2" height="1.5" fill="#38528b"/><rect x="72.0" y="136.8" width="10.2" height="1.5" fill="#273d80"/><rect x="72.0" y="138.2" width="10.2" height="1.5" fill="#273d81"/><rect x="72.0" y="139.6" width="10.2" height="1.5" fill="#273c80"/><rect x="72.0" y="140.9" width="10.2" height="1.5" fill="#294083"/><rect x="72.0" y="142.3" width="10.2" height="1.5" fill="#2e4787"/><rect x="72.0" y="143.7" width="10.2" height="1.5" fill="#34508c"/><rect x="72.0" y="145.1" width="10.2" height="1.5" fill="#2c4385"/><rect x="5.30" y="78.50" width="77.30" height="68.00" fill="none" stroke="#1a1a1a" stroke-width="0.8"/><rect x="5.30" y="148.00" width="77.30" height="27.00" fill="#2a2a2a"/><rect x="5.7" y="148.0" width="10.2" height="1.5" fill="#253a7c"/><rect x="5.7" y="149.4" width="10.2" height="1.5" fill="#2e4787"/><rect x="5.7" y="150.8" width="10.2" height="1.5" fill="#233576"/><rect x="5.7" y="152.3" width="10.2" height="1.5" fill="#243879"/><rect x="5.7" y="153.7" width="10.2" height="1.5" fill="#283f82"/><rect x="5.7" y="155.1" width="10.2" height="1.5" fill="#2a4184"/><rect x="5.7" y="156.5" width="10.2" height="1.5" fill="#223575"/><rect x="5.7" y="157.9" width="10.2" height="1.5" fill="#223576"/><rect x="5.7" y="159.4" width="10.2" height="1.5" fill="#273c7f"/><rect x="5.7" y="160.8" width="10.2" height="1.5" fill="#233677"/><rect x="5.7" y="162.2" width="10.2" height="1.5" fill="#223575"/><rect x="5.7" y="163.6" width="10.2" height="1.5" fill="#243778"/><rect x="5.7" y="165.1" width="10.2" height="1.5" fill="#25397b"/><rect x="5.7" y="166.5" width="10.2" height="1.5" fill="#24387a"/><rect x="5.7" y="167.9" width="10.2" height="1.5" fill="#213373"/><rect x="5.7" y="169.3" width="10.2" height="1.5" fill="#253a7c"/><rect x="5.7" y="170.7" width="10.2" height="1.5" fill="#25397c"/><rect x="5.7" y="172.2" width="10.2" height="1.5" fill="#273c80"/><rect x="5.7" y="173.6" width="10.2" height="1.5" fill="#2b4385"/><rect x="16.7" y="148.0" width="10.2" height="1.5" fill="#b2a973"/><rect x="16.7" y="149.4" width="10.2" height="1.5" fill="#b6ad71"/><rect x="16.7" y="150.8" width="10.2" height="1.5" fill="#bab070"/><rect x="16.7" y="152.3" width="10.2" height="1.5" fill="#979479"/><rect x="16.7" y="153.7" width="10.2" height="1.5" fill="#ada575"/><rect x="16.7" y="155.1" width="10.2" height="1.5" fill="#b7ae71"/><rect x="16.7" y="156.5" width="10.2" height="1.5" fill="#beb36f"/><rect x="16.7" y="157.9" width="10.2" height="1.5" fill="#ada575"/><rect x="16.7" y="159.4" width="10.2" height="1.5" fill="#bbb16f"/><rect x="16.7" y="160.8" width="10.2" height="1.5" fill="#aca575"/><rect x="16.7" y="162.2" width="10.2" height="1.5" fill="#b3ab73"/><rect x="16.7" y="163.6" width="10.2" height="1.5" fill="#96937a"/><rect x="16.7" y="165.1" width="10.2" height="1.5" fill="#646c88"/><rect x="16.7" y="166.5" width="10.2" height="1.5" fill="#a6a076"/><rect x="16.7" y="167.9" width="10.2" height="1.5" fill="#696f88"/><rect x="16.7" y="169.3" width="10.2" height="1.5" fill="#757884"/><rect x="16.7" y="170.7" width="10.2" height="1.5" fill="#767984"/><rect x="16.7" y="172.2" width="10.2" height="1.5" fill="#908e7b"/><rect x="16.7" y="173.6" width="10.2" height="1.5" fill="#656d88"/><rect x="27.8" y="148.0" width="10.2" height="1.5" fill="#ada575"/><rect x="27.8" y="149.4" width="10.2" height="1.5" fill="#e1cd57"/><rect x="27.8" y="150.8" width="10.2" height="1.5" fill="#d4c461"/><rect x="27.8" y="152.3" width="10.2" height="1.5" fill="#d0c164"/><rect x="27.8" y="153.7" width="10.2" height="1.5" fill="#f0d848"/><rect x="27.8" y="155.1" width="10.2" height="1.5" fill="#d1c264"/><rect x="27.8" y="156.5" width="10.2" height="1.5" fill="#c8bb69"/><rect x="27.8" y="157.9" width="10.2" height="1.5" fill="#d3c362"/><rect x="27.8" y="159.4" width="10.2" height="1.5" fill="#d2c263"/><rect x="27.8" y="160.8" width="10.2" height="1.5" fill="#e6d152"/><rect x="27.8" y="162.2" width="10.2" height="1.5" fill="#b1a974"/><rect x="27.8" y="163.6" width="10.2" height="1.5" fill="#c3b76d"/><rect x="27.8" y="165.1" width="10.2" height="1.5" fill="#94917a"/><rect x="27.8" y="166.5" width="10.2" height="1.5" fill="#dac95d"/><rect x="27.8" y="167.9" width="10.2" height="1.5" fill="#c3b76c"/><rect x="27.8" y="169.3" width="10.2" height="1.5" fill="#d9c85e"/><rect x="27.8" y="170.7" width="10.2" height="1.5" fill="#e9d34f"/><rect x="27.8" y="172.2" width="10.2" height="1.5" fill="#d0c164"/><rect x="27.8" y="173.6" width="10.2" height="1.5" fill="#cec065"/><rect x="38.8" y="148.0" width="10.2" height="1.5" fill="#d6c660"/><rect x="38.8" y="149.4" width="10.2" height="1.5" fill="#ddcb5b"/><rect x="38.8" y="150.8" width="10.2" height="1.5" fill="#d0c164"/><rect x="38.8" y="152.3" width="10.2" height="1.5" fill="#e0cd58"/><rect x="38.8" y="153.7" width="10.2" height="1.5" fill="#dfcc59"/><rect x="38.8" y="155.1" width="10.2" height="1.5" fill="#e0cc58"/><rect x="38.8" y="156.5" width="10.2" height="1.5" fill="#d3c462"/><rect x="38.8" y="157.9" width="10.2" height="1.5" fill="#e1ce57"/><rect x="38.8" y="159.4" width="10.2" height="1.5" fill="#e3cf55"/><rect x="38.8" y="160.8" width="10.2" height="1.5" fill="#dbca5c"/><rect x="38.8" y="162.2" width="10.2" height="1.5" fill="#ddcb5b"/><rect x="38.8" y="163.6" width="10.2" height="1.5" fill="#d9c75e"/><rect x="38.8" y="165.1" width="10.2" height="1.5" fill="#c8bb69"/><rect x="38.8" y="166.5" width="10.2" height="1.5" fill="#f0d848"/><rect x="38.8" y="167.9" width="10.2" height="1.5" fill="#e1cd57"/><rect x="38.8" y="169.3" width="10.2" height="1.5" fill="#cebf66"/><rect x="38.8" y="170.7" width="10.2" height="1.5" fill="#e7d251"/><rect x="38.8" y="172.2" width="10.2" height="1.5" fill="#e5d153"/><rect x="38.8" y="173.6" width="10.2" height="1.5" fill="#cebf65"/><rect x="49.9" y="148.0" width="10.2" height="1.5" fill="#d1c164"/><rect x="49.9" y="149.4" width="10.2" height="1.5" fill="#cabd68"/><rect x="49.9" y="150.8" width="10.2" height="1.5" fill="#c2b66d"/><rect x="49.9" y="152.3" width="10.2" height="1.5" fill="#b9af70"/><rect x="49.9" y="153.7" width="10.2" height="1.5" fill="#bbb170"/><rect x="49.9" y="155.1" width="10.2" height="1.5" fill="#aaa375"/><rect x="49.9" y="156.5" width="10.2" height="1.5" fill="#c1b56d"/><rect x="49.9" y="157.9" width="10.2" height="1.5" fill="#b5ac72"/><rect x="49.9" y="159.4" width="10.2" height="1.5" fill="#b8ae71"/><rect x="49.9" y="160.8" width="10.2" height="1.5" fill="#bfb46e"/><rect x="49.9" y="162.2" width="10.2" height="1.5" fill="#b4ac72"/><rect x="49.9" y="163.6" width="10.2" height="1.5" fill="#c1b66d"/><rect x="49.9" y="165.1" width="10.2" height="1.5" fill="#b3aa73"/><rect x="49.9" y="166.5" width="10.2" height="1.5" fill="#bcb16f"/><rect x="49.9" y="167.9" width="10.2" height="1.5" fill="#a09b77"/><rect x="49.9" y="169.3" width="10.2" height="1.5" fill="#b4ac72"/><rect x="49.9" y="170.7" width="10.2" height="1.5" fill="#c0b56d"/><rect x="49.9" y="172.2" width="10.2" height="1.5" fill="#d2c263"/><rect x="49.9" y="173.6" width="10.2" height="1.5" fill="#bdb26f"/><rect x="60.9" y="148.0" width="10.2" height="1.5" fill="#757884"/><rect x="60.9" y="149.4" width="10.2" height="1.5" fill="#9c9878"/><rect x="60.9" y="150.8" width="10.2" height="1.5" fill="#6e7387"/><rect x="60.9" y="152.3" width="10.2" height="1.5" fill="#7b7c82"/><rect x="60.9" y="153.7" width="10.2" height="1.5" fill="#928f7b"/><rect x="60.9" y="155.1" width="10.2" height="1.5" fill="#797b83"/><rect x="60.9" y="156.5" width="10.2" height="1.5" fill="#808080"/><rect x="60.9" y="157.9" width="10.2" height="1.5" fill="#636b88"/><rect x="60.9" y="159.4" width="10.2" height="1.5" fill="#797b82"/><rect x="60.9" y="160.8" width="10.2" height="1.5" fill="#757884"/><rect x="60.9" y="162.2" width="10.2" height="1.5" fill="#6f7486"/><rect x="60.9" y="163.6" width="10.2" height="1.5" fill="#84837f"/><rect x="60.9" y="165.1" width="10.2" height="1.5" fill="#96937a"/><rect x="60.9" y="166.5" width="10.2" height="1.5" fill="#6f7386"/><rect x="60.9" y="167.9" width="10.2" height="1.5" fill="#6d7287"/><rect x="60.9" y="169.3" width="10.2" height="1.5" fill="#7b7c82"/><rect x="60.9" y="170.7" width="10.2" height="1.5" fill="#636b88"/><rect x="60.9" y="172.2" width="10.2" height="1.5" fill="#828180"/><rect x="60.9" y="173.6" width="10.2" height="1.5" fill="#85857e"/><rect x="72.0" y="148.0" width="10.2" height="1.5" fill="#334e8b"/><rect x="72.0" y="149.4" width="10.2" height="1.5" fill="#475988"/><rect x="72.0" y="150.8" width="10.2" height="1.5" fill="#273d81"/><rect x="72.0" y="152.3" width="10.2" height="1.5" fill="#3a538b"/><rect x="72.0" y="153.7" width="10.2" height="1.5" fill="#2a4284"/><rect x="72.0" y="155.1" width="10.2" height="1.5" fill="#314b89"/><rect x="72.0" y="156.5" width="10.2" height="1.5" fill="#2d4586"/><rect x="72.0" y="157.9" width="10.2" height="1.5" fill="#2e4687"/><rect x="72.0" y="159.4" width="10.2" height="1.5" fill="#41568a"/><rect x="72.0" y="160.8" width="10.2" height="1.5" fill="#36518c"/><rect x="72.0" y="162.2" width="10.2" height="1.5" fill="#2d4686"/><rect x="72.0" y="163.6" width="10.2" height="1.5" fill="#3a538b"/><rect x="72.0" y="165.1" width="10.2" height="1.5" fill="#465889"/><rect x="72.0" y="166.5" width="10.2" height="1.5" fill="#37518c"/><rect x="72.0" y="167.9" width="10.2" height="1.5" fill="#38528b"/><rect x="72.0" y="169.3" width="10.2" height="1.5" fill="#445789"/><rect x="72.0" y="170.7" width="10.2" height="1.5" fill="#36518c"/><rect x="72.0" y="172.2" width="10.2" height="1.5" fill="#2e4787"/><rect x="72.0" y="173.6" width="10.2" height="1.5" fill="#656d88"/><rect x="5.30" y="148.00" width="77.30" height="27.00" fill="none" stroke="#1a1a1a" stroke-width="0.8"/><rect x="5.30" y="177.00" width="77.30" height="50.50" fill="#2a2a2a"/><rect x="5.7" y="177.0" width="10.2" height="1.5" fill="#273c7f"/><rect x="5.7" y="178.4" width="10.2" height="1.5" fill="#1e2f6d"/><rect x="5.7" y="179.8" width="10.2" height="1.5" fill="#243879"/><rect x="5.7" y="181.2" width="10.2" height="1.5" fill="#223575"/><rect x="5.7" y="182.6" width="10.2" height="1.5" fill="#263b7e"/><rect x="5.7" y="184.0" width="10.2" height="1.5" fill="#25397b"/><rect x="5.7" y="185.4" width="10.2" height="1.5" fill="#233677"/><rect x="5.7" y="186.8" width="10.2" height="1.5" fill="#213272"/><rect x="5.7" y="188.2" width="10.2" height="1.5" fill="#25387a"/><rect x="5.7" y="189.6" width="10.2" height="1.5" fill="#253a7c"/><rect x="5.7" y="191.0" width="10.2" height="1.5" fill="#213373"/><rect x="5.7" y="192.4" width="10.2" height="1.5" fill="#203170"/><rect x="5.7" y="193.8" width="10.2" height="1.5" fill="#243778"/><rect x="5.7" y="195.2" width="10.2" height="1.5" fill="#1e2e6c"/><rect x="5.7" y="196.6" width="10.2" height="1.5" fill="#223575"/><rect x="5.7" y="198.0" width="10.2" height="1.5" fill="#243778"/><rect x="5.7" y="199.4" width="10.2" height="1.5" fill="#25397a"/><rect x="5.7" y="200.8" width="10.2" height="1.5" fill="#213373"/><rect x="5.7" y="202.2" width="10.2" height="1.5" fill="#203170"/><rect x="5.7" y="203.7" width="10.2" height="1.5" fill="#213373"/><rect x="5.7" y="205.1" width="10.2" height="1.5" fill="#233677"/><rect x="5.7" y="206.5" width="10.2" height="1.5" fill="#223575"/><rect x="5.7" y="207.9" width="10.2" height="1.5" fill="#233778"/><rect x="5.7" y="209.3" width="10.2" height="1.5" fill="#253a7c"/><rect x="5.7" y="210.7" width="10.2" height="1.5" fill="#263b7d"/><rect x="5.7" y="212.1" width="10.2" height="1.5" fill="#293f83"/><rect x="5.7" y="213.5" width="10.2" height="1.5" fill="#213272"/><rect x="5.7" y="214.9" width="10.2" height="1.5" fill="#213373"/><rect x="5.7" y="216.3" width="10.2" height="1.5" fill="#1e2e6c"/><rect x="5.7" y="217.7" width="10.2" height="1.5" fill="#283e82"/><rect x="5.7" y="219.1" width="10.2" height="1.5" fill="#213372"/><rect x="5.7" y="220.5" width="10.2" height="1.5" fill="#223576"/><rect x="5.7" y="221.9" width="10.2" height="1.5" fill="#243879"/><rect x="5.7" y="223.3" width="10.2" height="1.5" fill="#203271"/><rect x="5.7" y="224.7" width="10.2" height="1.5" fill="#25387a"/><rect x="5.7" y="226.1" width="10.2" height="1.5" fill="#223474"/><rect x="16.7" y="177.0" width="10.2" height="1.5" fill="#787a83"/><rect x="16.7" y="178.4" width="10.2" height="1.5" fill="#576388"/><rect x="16.7" y="179.8" width="10.2" height="1.5" fill="#495988"/><rect x="16.7" y="181.2" width="10.2" height="1.5" fill="#747884"/><rect x="16.7" y="182.6" width="10.2" height="1.5" fill="#636b88"/><rect x="16.7" y="184.0" width="10.2" height="1.5" fill="#5f6888"/><rect x="16.7" y="185.4" width="10.2" height="1.5" fill="#717585"/><rect x="16.7" y="186.8" width="10.2" height="1.5" fill="#767984"/><rect x="16.7" y="188.2" width="10.2" height="1.5" fill="#515f88"/><rect x="16.7" y="189.6" width="10.2" height="1.5" fill="#727685"/><rect x="16.7" y="191.0" width="10.2" height="1.5" fill="#455889"/><rect x="16.7" y="192.4" width="10.2" height="1.5" fill="#8a887d"/><rect x="16.7" y="193.8" width="10.2" height="1.5" fill="#556288"/><rect x="16.7" y="195.2" width="10.2" height="1.5" fill="#6f7486"/><rect x="16.7" y="196.6" width="10.2" height="1.5" fill="#4f5e88"/><rect x="16.7" y="198.0" width="10.2" height="1.5" fill="#707586"/><rect x="16.7" y="199.4" width="10.2" height="1.5" fill="#6e7387"/><rect x="16.7" y="200.8" width="10.2" height="1.5" fill="#233778"/><rect x="16.7" y="202.2" width="10.2" height="1.5" fill="#34508c"/><rect x="16.7" y="203.7" width="10.2" height="1.5" fill="#455889"/><rect x="16.7" y="205.1" width="10.2" height="1.5" fill="#3d548a"/><rect x="16.7" y="206.5" width="10.2" height="1.5" fill="#324e8b"/><rect x="16.7" y="207.9" width="10.2" height="1.5" fill="#6a7088"/><rect x="16.7" y="209.3" width="10.2" height="1.5" fill="#445789"/><rect x="16.7" y="210.7" width="10.2" height="1.5" fill="#304a88"/><rect x="16.7" y="212.1" width="10.2" height="1.5" fill="#5b6688"/><rect x="16.7" y="213.5" width="10.2" height="1.5" fill="#294083"/><rect x="16.7" y="214.9" width="10.2" height="1.5" fill="#505e88"/><rect x="16.7" y="216.3" width="10.2" height="1.5" fill="#2e4787"/><rect x="16.7" y="217.7" width="10.2" height="1.5" fill="#717585"/><rect x="16.7" y="219.1" width="10.2" height="1.5" fill="#777983"/><rect x="16.7" y="220.5" width="10.2" height="1.5" fill="#656c88"/><rect x="16.7" y="221.9" width="10.2" height="1.5" fill="#455889"/><rect x="16.7" y="223.3" width="10.2" height="1.5" fill="#35518c"/><rect x="16.7" y="224.7" width="10.2" height="1.5" fill="#7c7d82"/><rect x="16.7" y="226.1" width="10.2" height="1.5" fill="#717585"/><rect x="27.8" y="177.0" width="10.2" height="1.5" fill="#bab070"/><rect x="27.8" y="178.4" width="10.2" height="1.5" fill="#bcb26f"/><rect x="27.8" y="179.8" width="10.2" height="1.5" fill="#c1b56d"/><rect x="27.8" y="181.2" width="10.2" height="1.5" fill="#c5b96b"/><rect x="27.8" y="182.6" width="10.2" height="1.5" fill="#9f9b77"/><rect x="27.8" y="184.0" width="10.2" height="1.5" fill="#b9af70"/><rect x="27.8" y="185.4" width="10.2" height="1.5" fill="#c5b96b"/><rect x="27.8" y="186.8" width="10.2" height="1.5" fill="#bfb46e"/><rect x="27.8" y="188.2" width="10.2" height="1.5" fill="#c7bb6a"/><rect x="27.8" y="189.6" width="10.2" height="1.5" fill="#9d9978"/><rect x="27.8" y="191.0" width="10.2" height="1.5" fill="#b7ae71"/><rect x="27.8" y="192.4" width="10.2" height="1.5" fill="#bcb16f"/><rect x="27.8" y="193.8" width="10.2" height="1.5" fill="#e2ce56"/><rect x="27.8" y="195.2" width="10.2" height="1.5" fill="#a39e77"/><rect x="27.8" y="196.6" width="10.2" height="1.5" fill="#b4ab72"/><rect x="27.8" y="198.0" width="10.2" height="1.5" fill="#b8af71"/><rect x="27.8" y="199.4" width="10.2" height="1.5" fill="#cabc68"/><rect x="27.8" y="200.8" width="10.2" height="1.5" fill="#b0a874"/><rect x="27.8" y="202.2" width="10.2" height="1.5" fill="#c6b96b"/><rect x="27.8" y="203.7" width="10.2" height="1.5" fill="#ada675"/><rect x="27.8" y="205.1" width="10.2" height="1.5" fill="#bdb36f"/><rect x="27.8" y="206.5" width="10.2" height="1.5" fill="#afa774"/><rect x="27.8" y="207.9" width="10.2" height="1.5" fill="#bcb26f"/><rect x="27.8" y="209.3" width="10.2" height="1.5" fill="#b4ab72"/><rect x="27.8" y="210.7" width="10.2" height="1.5" fill="#aaa375"/><rect x="27.8" y="212.1" width="10.2" height="1.5" fill="#d5c461"/><rect x="27.8" y="213.5" width="10.2" height="1.5" fill="#bab070"/><rect x="27.8" y="214.9" width="10.2" height="1.5" fill="#b0a874"/><rect x="27.8" y="216.3" width="10.2" height="1.5" fill="#b0a874"/><rect x="27.8" y="217.7" width="10.2" height="1.5" fill="#d4c461"/><rect x="27.8" y="219.1" width="10.2" height="1.5" fill="#a9a275"/><rect x="27.8" y="220.5" width="10.2" height="1.5" fill="#b8af71"/><rect x="27.8" y="221.9" width="10.2" height="1.5" fill="#c4b86c"/><rect x="27.8" y="223.3" width="10.2" height="1.5" fill="#bbb070"/><rect x="27.8" y="224.7" width="10.2" height="1.5" fill="#b8ae71"/><rect x="27.8" y="226.1" width="10.2" height="1.5" fill="#9c9878"/><rect x="38.8" y="177.0" width="10.2" height="1.5" fill="#cec065"/><rect x="38.8" y="178.4" width="10.2" height="1.5" fill="#aba475"/><rect x="38.8" y="179.8" width="10.2" height="1.5" fill="#b0a874"/><rect x="38.8" y="181.2" width="10.2" height="1.5" fill="#aea774"/><rect x="38.8" y="182.6" width="10.2" height="1.5" fill="#b9af71"/><rect x="38.8" y="184.0" width="10.2" height="1.5" fill="#ada675"/><rect x="38.8" y="185.4" width="10.2" height="1.5" fill="#a09b77"/><rect x="38.8" y="186.8" width="10.2" height="1.5" fill="#a09b77"/><rect x="38.8" y="188.2" width="10.2" height="1.5" fill="#a8a276"/><rect x="38.8" y="189.6" width="10.2" height="1.5" fill="#ada575"/><rect x="38.8" y="191.0" width="10.2" height="1.5" fill="#9a9679"/><rect x="38.8" y="192.4" width="10.2" height="1.5" fill="#b4ab72"/><rect x="38.8" y="193.8" width="10.2" height="1.5" fill="#9e9978"/><rect x="38.8" y="195.2" width="10.2" height="1.5" fill="#b0a874"/><rect x="38.8" y="196.6" width="10.2" height="1.5" fill="#a09c77"/><rect x="38.8" y="198.0" width="10.2" height="1.5" fill="#b3aa73"/><rect x="38.8" y="199.4" width="10.2" height="1.5" fill="#c6b96b"/><rect x="38.8" y="200.8" width="10.2" height="1.5" fill="#afa774"/><rect x="38.8" y="202.2" width="10.2" height="1.5" fill="#a19c77"/><rect x="38.8" y="203.7" width="10.2" height="1.5" fill="#afa774"/><rect x="38.8" y="205.1" width="10.2" height="1.5" fill="#b2a973"/><rect x="38.8" y="206.5" width="10.2" height="1.5" fill="#918f7b"/><rect x="38.8" y="207.9" width="10.2" height="1.5" fill="#a8a176"/><rect x="38.8" y="209.3" width="10.2" height="1.5" fill="#b6ad72"/><rect x="38.8" y="210.7" width="10.2" height="1.5" fill="#afa774"/><rect x="38.8" y="212.1" width="10.2" height="1.5" fill="#bab070"/><rect x="38.8" y="213.5" width="10.2" height="1.5" fill="#b6ad71"/><rect x="38.8" y="214.9" width="10.2" height="1.5" fill="#b9af71"/><rect x="38.8" y="216.3" width="10.2" height="1.5" fill="#b0a874"/><rect x="38.8" y="217.7" width="10.2" height="1.5" fill="#c2b66d"/><rect x="38.8" y="219.1" width="10.2" height="1.5" fill="#a8a276"/><rect x="38.8" y="220.5" width="10.2" height="1.5" fill="#b0a874"/><rect x="38.8" y="221.9" width="10.2" height="1.5" fill="#afa774"/><rect x="38.8" y="223.3" width="10.2" height="1.5" fill="#a59f76"/><rect x="38.8" y="224.7" width="10.2" height="1.5" fill="#b0a874"/><rect x="38.8" y="226.1" width="10.2" height="1.5" fill="#96937a"/><rect x="49.9" y="177.0" width="10.2" height="1.5" fill="#d2c362"/><rect x="49.9" y="178.4" width="10.2" height="1.5" fill="#bfb46e"/><rect x="49.9" y="179.8" width="10.2" height="1.5" fill="#bdb26f"/><rect x="49.9" y="181.2" width="10.2" height="1.5" fill="#ccbe67"/><rect x="49.9" y="182.6" width="10.2" height="1.5" fill="#d7c65f"/><rect x="49.9" y="184.0" width="10.2" height="1.5" fill="#ccbe67"/><rect x="49.9" y="185.4" width="10.2" height="1.5" fill="#e5d053"/><rect x="49.9" y="186.8" width="10.2" height="1.5" fill="#a49f76"/><rect x="49.9" y="188.2" width="10.2" height="1.5" fill="#c8bb6a"/><rect x="49.9" y="189.6" width="10.2" height="1.5" fill="#b8af71"/><rect x="49.9" y="191.0" width="10.2" height="1.5" fill="#d2c263"/><rect x="49.9" y="192.4" width="10.2" height="1.5" fill="#e8d250"/><rect x="49.9" y="193.8" width="10.2" height="1.5" fill="#aba475"/><rect x="49.9" y="195.2" width="10.2" height="1.5" fill="#c1b56d"/><rect x="49.9" y="196.6" width="10.2" height="1.5" fill="#d0c164"/><rect x="49.9" y="198.0" width="10.2" height="1.5" fill="#c3b76c"/><rect x="49.9" y="199.4" width="10.2" height="1.5" fill="#d5c461"/><rect x="49.9" y="200.8" width="10.2" height="1.5" fill="#aba475"/><rect x="49.9" y="202.2" width="10.2" height="1.5" fill="#d1c263"/><rect x="49.9" y="203.7" width="10.2" height="1.5" fill="#cdbf66"/><rect x="49.9" y="205.1" width="10.2" height="1.5" fill="#cabd68"/><rect x="49.9" y="206.5" width="10.2" height="1.5" fill="#bfb46e"/><rect x="49.9" y="207.9" width="10.2" height="1.5" fill="#d3c362"/><rect x="49.9" y="209.3" width="10.2" height="1.5" fill="#c8bb6a"/><rect x="49.9" y="210.7" width="10.2" height="1.5" fill="#d4c461"/><rect x="49.9" y="212.1" width="10.2" height="1.5" fill="#cdbf66"/><rect x="49.9" y="213.5" width="10.2" height="1.5" fill="#aaa375"/><rect x="49.9" y="214.9" width="10.2" height="1.5" fill="#c7ba6a"/><rect x="49.9" y="216.3" width="10.2" height="1.5" fill="#bfb46e"/><rect x="49.9" y="217.7" width="10.2" height="1.5" fill="#e0cc58"/><rect x="49.9" y="219.1" width="10.2" height="1.5" fill="#bbb170"/><rect x="49.9" y="220.5" width="10.2" height="1.5" fill="#c9bc68"/><rect x="49.9" y="221.9" width="10.2" height="1.5" fill="#d6c660"/><rect x="49.9" y="223.3" width="10.2" height="1.5" fill="#c4b86c"/><rect x="49.9" y="224.7" width="10.2" height="1.5" fill="#decc5a"/><rect x="49.9" y="226.1" width="10.2" height="1.5" fill="#e5d053"/><rect x="60.9" y="177.0" width="10.2" height="1.5" fill="#cebf65"/><rect x="60.9" y="178.4" width="10.2" height="1.5" fill="#a9a375"/><rect x="60.9" y="179.8" width="10.2" height="1.5" fill="#decb5a"/><rect x="60.9" y="181.2" width="10.2" height="1.5" fill="#e9d34f"/><rect x="60.9" y="182.6" width="10.2" height="1.5" fill="#e4cf54"/><rect x="60.9" y="184.0" width="10.2" height="1.5" fill="#e1cd57"/><rect x="60.9" y="185.4" width="10.2" height="1.5" fill="#c4b86c"/><rect x="60.9" y="186.8" width="10.2" height="1.5" fill="#bfb46e"/><rect x="60.9" y="188.2" width="10.2" height="1.5" fill="#dfcc59"/><rect x="60.9" y="189.6" width="10.2" height="1.5" fill="#c7ba6a"/><rect x="60.9" y="191.0" width="10.2" height="1.5" fill="#afa774"/><rect x="60.9" y="192.4" width="10.2" height="1.5" fill="#bbb170"/><rect x="60.9" y="193.8" width="10.2" height="1.5" fill="#f0d848"/><rect x="60.9" y="195.2" width="10.2" height="1.5" fill="#e3cf55"/><rect x="60.9" y="196.6" width="10.2" height="1.5" fill="#c3b76c"/><rect x="60.9" y="198.0" width="10.2" height="1.5" fill="#c2b66d"/><rect x="60.9" y="199.4" width="10.2" height="1.5" fill="#d7c660"/><rect x="60.9" y="200.8" width="10.2" height="1.5" fill="#c0b56e"/><rect x="60.9" y="202.2" width="10.2" height="1.5" fill="#e0cd58"/><rect x="60.9" y="203.7" width="10.2" height="1.5" fill="#ccbe66"/><rect x="60.9" y="205.1" width="10.2" height="1.5" fill="#bfb46e"/><rect x="60.9" y="206.5" width="10.2" height="1.5" fill="#e1ce57"/><rect x="60.9" y="207.9" width="10.2" height="1.5" fill="#c6ba6a"/><rect x="60.9" y="209.3" width="10.2" height="1.5" fill="#d8c75f"/><rect x="60.9" y="210.7" width="10.2" height="1.5" fill="#d7c65f"/><rect x="60.9" y="212.1" width="10.2" height="1.5" fill="#d5c561"/><rect x="60.9" y="213.5" width="10.2" height="1.5" fill="#d1c263"/><rect x="60.9" y="214.9" width="10.2" height="1.5" fill="#c2b76d"/><rect x="60.9" y="216.3" width="10.2" height="1.5" fill="#a8a176"/><rect x="60.9" y="217.7" width="10.2" height="1.5" fill="#b9af71"/><rect x="60.9" y="219.1" width="10.2" height="1.5" fill="#b9af71"/><rect x="60.9" y="220.5" width="10.2" height="1.5" fill="#c3b76c"/><rect x="60.9" y="221.9" width="10.2" height="1.5" fill="#d3c362"/><rect x="60.9" y="223.3" width="10.2" height="1.5" fill="#c9bc69"/><rect x="60.9" y="224.7" width="10.2" height="1.5" fill="#dcca5c"/><rect x="60.9" y="226.1" width="10.2" height="1.5" fill="#d2c263"/><rect x="72.0" y="177.0" width="10.2" height="1.5" fill="#808080"/><rect x="72.0" y="178.4" width="10.2" height="1.5" fill="#6b7188"/><rect x="72.0" y="179.8" width="10.2" height="1.5" fill="#4e5d88"/><rect x="72.0" y="181.2" width="10.2" height="1.5" fill="#85847f"/><rect x="72.0" y="182.6" width="10.2" height="1.5" fill="#9b9778"/><rect x="72.0" y="184.0" width="10.2" height="1.5" fill="#9b9778"/><rect x="72.0" y="185.4" width="10.2" height="1.5" fill="#828180"/><rect x="72.0" y="186.8" width="10.2" height="1.5" fill="#7c7d82"/><rect x="72.0" y="188.2" width="10.2" height="1.5" fill="#a09b77"/><rect x="72.0" y="189.6" width="10.2" height="1.5" fill="#8f8d7c"/><rect x="72.0" y="191.0" width="10.2" height="1.5" fill="#94917a"/><rect x="72.0" y="192.4" width="10.2" height="1.5" fill="#908e7b"/><rect x="72.0" y="193.8" width="10.2" height="1.5" fill="#8d8b7c"/><rect x="72.0" y="195.2" width="10.2" height="1.5" fill="#9d9978"/><rect x="72.0" y="196.6" width="10.2" height="1.5" fill="#777a83"/><rect x="72.0" y="198.0" width="10.2" height="1.5" fill="#7b7d82"/><rect x="72.0" y="199.4" width="10.2" height="1.5" fill="#767984"/><rect x="72.0" y="200.8" width="10.2" height="1.5" fill="#707486"/><rect x="72.0" y="202.2" width="10.2" height="1.5" fill="#a8a176"/><rect x="72.0" y="203.7" width="10.2" height="1.5" fill="#aea774"/><rect x="72.0" y="205.1" width="10.2" height="1.5" fill="#87867e"/><rect x="72.0" y="206.5" width="10.2" height="1.5" fill="#92907b"/><rect x="72.0" y="207.9" width="10.2" height="1.5" fill="#a59f76"/><rect x="72.0" y="209.3" width="10.2" height="1.5" fill="#a19c77"/><rect x="72.0" y="210.7" width="10.2" height="1.5" fill="#aba475"/><rect x="72.0" y="212.1" width="10.2" height="1.5" fill="#737785"/><rect x="72.0" y="213.5" width="10.2" height="1.5" fill="#737785"/><rect x="72.0" y="214.9" width="10.2" height="1.5" fill="#918e7b"/><rect x="72.0" y="216.3" width="10.2" height="1.5" fill="#9d9978"/><rect x="72.0" y="217.7" width="10.2" height="1.5" fill="#979479"/><rect x="72.0" y="219.1" width="10.2" height="1.5" fill="#6f7386"/><rect x="72.0" y="220.5" width="10.2" height="1.5" fill="#7e7e81"/><rect x="72.0" y="221.9" width="10.2" height="1.5" fill="#7a7c82"/><rect x="72.0" y="223.3" width="10.2" height="1.5" fill="#6b7188"/><rect x="72.0" y="224.7" width="10.2" height="1.5" fill="#ada675"/><rect x="72.0" y="226.1" width="10.2" height="1.5" fill="#787a83"/><rect x="5.30" y="177.00" width="77.30" height="50.50" fill="none" stroke="#1a1a1a" stroke-width="0.8"/><rect x="5.30" y="229.50" width="77.30" height="37.50" fill="#2a2a2a"/><rect x="5.7" y="229.5" width="10.2" height="1.5" fill="#25397b"/><rect x="5.7" y="230.9" width="10.2" height="1.5" fill="#2e4787"/><rect x="5.7" y="232.3" width="10.2" height="1.5" fill="#283d81"/><rect x="5.7" y="233.7" width="10.2" height="1.5" fill="#294083"/><rect x="5.7" y="235.1" width="10.2" height="1.5" fill="#283e82"/><rect x="5.7" y="236.4" width="10.2" height="1.5" fill="#294083"/><rect x="5.7" y="237.8" width="10.2" height="1.5" fill="#2e4787"/><rect x="5.7" y="239.2" width="10.2" height="1.5" fill="#273c80"/><rect x="5.7" y="240.6" width="10.2" height="1.5" fill="#314b89"/><rect x="5.7" y="242.0" width="10.2" height="1.5" fill="#263b7e"/><rect x="5.7" y="243.4" width="10.2" height="1.5" fill="#243779"/><rect x="5.7" y="244.8" width="10.2" height="1.5" fill="#273c80"/><rect x="5.7" y="246.2" width="10.2" height="1.5" fill="#273c7f"/><rect x="5.7" y="247.6" width="10.2" height="1.5" fill="#283e82"/><rect x="5.7" y="248.9" width="10.2" height="1.5" fill="#233778"/><rect x="5.7" y="250.3" width="10.2" height="1.5" fill="#293f83"/><rect x="5.7" y="251.7" width="10.2" height="1.5" fill="#25397c"/><rect x="5.7" y="253.1" width="10.2" height="1.5" fill="#263b7e"/><rect x="5.7" y="254.5" width="10.2" height="1.5" fill="#2c4486"/><rect x="5.7" y="255.9" width="10.2" height="1.5" fill="#475989"/><rect x="5.7" y="257.3" width="10.2" height="1.5" fill="#435789"/><rect x="5.7" y="258.7" width="10.2" height="1.5" fill="#3f558a"/><rect x="5.7" y="260.1" width="10.2" height="1.5" fill="#3a538b"/><rect x="5.7" y="261.4" width="10.2" height="1.5" fill="#324d8a"/><rect x="5.7" y="262.8" width="10.2" height="1.5" fill="#4f5e88"/><rect x="5.7" y="264.2" width="10.2" height="1.5" fill="#39528b"/><rect x="5.7" y="265.6" width="10.2" height="1.5" fill="#263b7e"/><rect x="16.7" y="229.5" width="10.2" height="1.5" fill="#283e82"/><rect x="16.7" y="230.9" width="10.2" height="1.5" fill="#2c4586"/><rect x="16.7" y="232.3" width="10.2" height="1.5" fill="#2d4686"/><rect x="16.7" y="233.7" width="10.2" height="1.5" fill="#283d81"/><rect x="16.7" y="235.1" width="10.2" height="1.5" fill="#273c7f"/><rect x="16.7" y="236.4" width="10.2" height="1.5" fill="#2e4887"/><rect x="16.7" y="237.8" width="10.2" height="1.5" fill="#2a4284"/><rect x="16.7" y="239.2" width="10.2" height="1.5" fill="#273d80"/><rect x="16.7" y="240.6" width="10.2" height="1.5" fill="#283f82"/><rect x="16.7" y="242.0" width="10.2" height="1.5" fill="#233778"/><rect x="16.7" y="243.4" width="10.2" height="1.5" fill="#263a7d"/><rect x="16.7" y="244.8" width="10.2" height="1.5" fill="#283e82"/><rect x="16.7" y="246.2" width="10.2" height="1.5" fill="#283e82"/><rect x="16.7" y="247.6" width="10.2" height="1.5" fill="#283d81"/><rect x="16.7" y="248.9" width="10.2" height="1.5" fill="#213474"/><rect x="16.7" y="250.3" width="10.2" height="1.5" fill="#294083"/><rect x="16.7" y="251.7" width="10.2" height="1.5" fill="#273c80"/><rect x="16.7" y="253.1" width="10.2" height="1.5" fill="#263b7d"/><rect x="16.7" y="254.5" width="10.2" height="1.5" fill="#283e82"/><rect x="16.7" y="255.9" width="10.2" height="1.5" fill="#2e4687"/><rect x="16.7" y="257.3" width="10.2" height="1.5" fill="#334e8b"/><rect x="16.7" y="258.7" width="10.2" height="1.5" fill="#2c4586"/><rect x="16.7" y="260.1" width="10.2" height="1.5" fill="#294083"/><rect x="16.7" y="261.4" width="10.2" height="1.5" fill="#24387a"/><rect x="16.7" y="262.8" width="10.2" height="1.5" fill="#324d8a"/><rect x="16.7" y="264.2" width="10.2" height="1.5" fill="#2c4385"/><rect x="16.7" y="265.6" width="10.2" height="1.5" fill="#273d80"/><rect x="27.8" y="229.5" width="10.2" height="1.5" fill="#a7a076"/><rect x="27.8" y="230.9" width="10.2" height="1.5" fill="#afa774"/><rect x="27.8" y="232.3" width="10.2" height="1.5" fill="#a8a176"/><rect x="27.8" y="233.7" width="10.2" height="1.5" fill="#9d9978"/><rect x="27.8" y="235.1" width="10.2" height="1.5" fill="#88877e"/><rect x="27.8" y="236.4" width="10.2" height="1.5" fill="#9d9978"/><rect x="27.8" y="237.8" width="10.2" height="1.5" fill="#94917a"/><rect x="27.8" y="239.2" width="10.2" height="1.5" fill="#b3aa73"/><rect x="27.8" y="240.6" width="10.2" height="1.5" fill="#aea674"/><rect x="27.8" y="242.0" width="10.2" height="1.5" fill="#8f8d7c"/><rect x="27.8" y="243.4" width="10.2" height="1.5" fill="#b4ab72"/><rect x="27.8" y="244.8" width="10.2" height="1.5" fill="#aba475"/><rect x="27.8" y="246.2" width="10.2" height="1.5" fill="#86857e"/><rect x="27.8" y="247.6" width="10.2" height="1.5" fill="#beb36f"/><rect x="27.8" y="248.9" width="10.2" height="1.5" fill="#7f7f80"/><rect x="27.8" y="250.3" width="10.2" height="1.5" fill="#a09b77"/><rect x="27.8" y="251.7" width="10.2" height="1.5" fill="#686f88"/><rect x="27.8" y="253.1" width="10.2" height="1.5" fill="#808080"/><rect x="27.8" y="254.5" width="10.2" height="1.5" fill="#7f8080"/><rect x="27.8" y="255.9" width="10.2" height="1.5" fill="#82827f"/><rect x="27.8" y="257.3" width="10.2" height="1.5" fill="#8a897d"/><rect x="27.8" y="258.7" width="10.2" height="1.5" fill="#928f7b"/><rect x="27.8" y="260.1" width="10.2" height="1.5" fill="#636b88"/><rect x="27.8" y="261.4" width="10.2" height="1.5" fill="#5a6588"/><rect x="27.8" y="262.8" width="10.2" height="1.5" fill="#707486"/><rect x="27.8" y="264.2" width="10.2" height="1.5" fill="#727685"/><rect x="27.8" y="265.6" width="10.2" height="1.5" fill="#717585"/><rect x="38.8" y="229.5" width="10.2" height="1.5" fill="#9b9778"/><rect x="38.8" y="230.9" width="10.2" height="1.5" fill="#a59f76"/><rect x="38.8" y="232.3" width="10.2" height="1.5" fill="#9d9978"/><rect x="38.8" y="233.7" width="10.2" height="1.5" fill="#8c8a7d"/><rect x="38.8" y="235.1" width="10.2" height="1.5" fill="#89887d"/><rect x="38.8" y="236.4" width="10.2" height="1.5" fill="#a49f76"/><rect x="38.8" y="237.8" width="10.2" height="1.5" fill="#a8a276"/><rect x="38.8" y="239.2" width="10.2" height="1.5" fill="#9b9778"/><rect x="38.8" y="240.6" width="10.2" height="1.5" fill="#989579"/><rect x="38.8" y="242.0" width="10.2" height="1.5" fill="#aaa375"/><rect x="38.8" y="243.4" width="10.2" height="1.5" fill="#8f8d7c"/><rect x="38.8" y="244.8" width="10.2" height="1.5" fill="#9e9978"/><rect x="38.8" y="246.2" width="10.2" height="1.5" fill="#a7a176"/><rect x="38.8" y="247.6" width="10.2" height="1.5" fill="#9a9679"/><rect x="38.8" y="248.9" width="10.2" height="1.5" fill="#999579"/><rect x="38.8" y="250.3" width="10.2" height="1.5" fill="#82827f"/><rect x="38.8" y="251.7" width="10.2" height="1.5" fill="#a49f76"/><rect x="38.8" y="253.1" width="10.2" height="1.5" fill="#94917a"/><rect x="38.8" y="254.5" width="10.2" height="1.5" fill="#7a7c82"/><rect x="38.8" y="255.9" width="10.2" height="1.5" fill="#a39e77"/><rect x="38.8" y="257.3" width="10.2" height="1.5" fill="#94917a"/><rect x="38.8" y="258.7" width="10.2" height="1.5" fill="#aaa375"/><rect x="38.8" y="260.1" width="10.2" height="1.5" fill="#8c8a7d"/><rect x="38.8" y="261.4" width="10.2" height="1.5" fill="#87867e"/><rect x="38.8" y="262.8" width="10.2" height="1.5" fill="#a49e76"/><rect x="38.8" y="264.2" width="10.2" height="1.5" fill="#908e7b"/><rect x="38.8" y="265.6" width="10.2" height="1.5" fill="#999679"/><rect x="49.9" y="229.5" width="10.2" height="1.5" fill="#bcb26f"/><rect x="49.9" y="230.9" width="10.2" height="1.5" fill="#dcca5c"/><rect x="49.9" y="232.3" width="10.2" height="1.5" fill="#cbbd67"/><rect x="49.9" y="233.7" width="10.2" height="1.5" fill="#cabc68"/><rect x="49.9" y="235.1" width="10.2" height="1.5" fill="#9a9679"/><rect x="49.9" y="236.4" width="10.2" height="1.5" fill="#dac85d"/><rect x="49.9" y="237.8" width="10.2" height="1.5" fill="#cec065"/><rect x="49.9" y="239.2" width="10.2" height="1.5" fill="#aea774"/><rect x="49.9" y="240.6" width="10.2" height="1.5" fill="#cdbf66"/><rect x="49.9" y="242.0" width="10.2" height="1.5" fill="#ccbe66"/><rect x="49.9" y="243.4" width="10.2" height="1.5" fill="#d9c85e"/><rect x="49.9" y="244.8" width="10.2" height="1.5" fill="#b4ab72"/><rect x="49.9" y="246.2" width="10.2" height="1.5" fill="#e0cd58"/><rect x="49.9" y="247.6" width="10.2" height="1.5" fill="#c9bc69"/><rect x="49.9" y="248.9" width="10.2" height="1.5" fill="#e2ce56"/><rect x="49.9" y="250.3" width="10.2" height="1.5" fill="#c2b66d"/><rect x="49.9" y="251.7" width="10.2" height="1.5" fill="#d1c263"/><rect x="49.9" y="253.1" width="10.2" height="1.5" fill="#bcb26f"/><rect x="49.9" y="254.5" width="10.2" height="1.5" fill="#b3aa73"/><rect x="49.9" y="255.9" width="10.2" height="1.5" fill="#dbc95d"/><rect x="49.9" y="257.3" width="10.2" height="1.5" fill="#dfcc59"/><rect x="49.9" y="258.7" width="10.2" height="1.5" fill="#e1cd57"/><rect x="49.9" y="260.1" width="10.2" height="1.5" fill="#d4c461"/><rect x="49.9" y="261.4" width="10.2" height="1.5" fill="#b4ab72"/><rect x="49.9" y="262.8" width="10.2" height="1.5" fill="#b6ad71"/><rect x="49.9" y="264.2" width="10.2" height="1.5" fill="#bbb16f"/><rect x="49.9" y="265.6" width="10.2" height="1.5" fill="#bab070"/><rect x="60.9" y="229.5" width="10.2" height="1.5" fill="#e8d250"/><rect x="60.9" y="230.9" width="10.2" height="1.5" fill="#f0d848"/><rect x="60.9" y="232.3" width="10.2" height="1.5" fill="#f0d848"/><rect x="60.9" y="233.7" width="10.2" height="1.5" fill="#ecd54c"/><rect x="60.9" y="235.1" width="10.2" height="1.5" fill="#e9d34f"/><rect x="60.9" y="236.4" width="10.2" height="1.5" fill="#ecd64c"/><rect x="60.9" y="237.8" width="10.2" height="1.5" fill="#f0d848"/><rect x="60.9" y="239.2" width="10.2" height="1.5" fill="#f0d848"/><rect x="60.9" y="240.6" width="10.2" height="1.5" fill="#f0d848"/><rect x="60.9" y="242.0" width="10.2" height="1.5" fill="#e9d34f"/><rect x="60.9" y="243.4" width="10.2" height="1.5" fill="#e8d250"/><rect x="60.9" y="244.8" width="10.2" height="1.5" fill="#f0d848"/><rect x="60.9" y="246.2" width="10.2" height="1.5" fill="#eed64a"/><rect x="60.9" y="247.6" width="10.2" height="1.5" fill="#f0d848"/><rect x="60.9" y="248.9" width="10.2" height="1.5" fill="#ddcb5b"/><rect x="60.9" y="250.3" width="10.2" height="1.5" fill="#e9d34f"/><rect x="60.9" y="251.7" width="10.2" height="1.5" fill="#ecd54c"/><rect x="60.9" y="253.1" width="10.2" height="1.5" fill="#e2ce56"/><rect x="60.9" y="254.5" width="10.2" height="1.5" fill="#e7d251"/><rect x="60.9" y="255.9" width="10.2" height="1.5" fill="#f0d848"/><rect x="60.9" y="257.3" width="10.2" height="1.5" fill="#f0d848"/><rect x="60.9" y="258.7" width="10.2" height="1.5" fill="#f0d848"/><rect x="60.9" y="260.1" width="10.2" height="1.5" fill="#e9d34f"/><rect x="60.9" y="261.4" width="10.2" height="1.5" fill="#decb5a"/><rect x="60.9" y="262.8" width="10.2" height="1.5" fill="#f0d848"/><rect x="60.9" y="264.2" width="10.2" height="1.5" fill="#efd749"/><rect x="60.9" y="265.6" width="10.2" height="1.5" fill="#ecd54c"/><rect x="72.0" y="229.5" width="10.2" height="1.5" fill="#dcca5c"/><rect x="72.0" y="230.9" width="10.2" height="1.5" fill="#f0d848"/><rect x="72.0" y="232.3" width="10.2" height="1.5" fill="#f0d848"/><rect x="72.0" y="233.7" width="10.2" height="1.5" fill="#ecd54c"/><rect x="72.0" y="235.1" width="10.2" height="1.5" fill="#dfcc59"/><rect x="72.0" y="236.4" width="10.2" height="1.5" fill="#ead44e"/><rect x="72.0" y="237.8" width="10.2" height="1.5" fill="#f0d848"/><rect x="72.0" y="239.2" width="10.2" height="1.5" fill="#e5d053"/><rect x="72.0" y="240.6" width="10.2" height="1.5" fill="#decb5a"/><rect x="72.0" y="242.0" width="10.2" height="1.5" fill="#e9d34f"/><rect x="72.0" y="243.4" width="10.2" height="1.5" fill="#ecd54c"/><rect x="72.0" y="244.8" width="10.2" height="1.5" fill="#e5d053"/><rect x="72.0" y="246.2" width="10.2" height="1.5" fill="#efd749"/><rect x="72.0" y="247.6" width="10.2" height="1.5" fill="#e8d250"/><rect x="72.0" y="248.9" width="10.2" height="1.5" fill="#decc5a"/><rect x="72.0" y="250.3" width="10.2" height="1.5" fill="#e3cf55"/><rect x="72.0" y="251.7" width="10.2" height="1.5" fill="#ecd54c"/><rect x="72.0" y="253.1" width="10.2" height="1.5" fill="#f0d848"/><rect x="72.0" y="254.5" width="10.2" height="1.5" fill="#e2cf56"/><rect x="72.0" y="255.9" width="10.2" height="1.5" fill="#f0d848"/><rect x="72.0" y="257.3" width="10.2" height="1.5" fill="#f0d848"/><rect x="72.0" y="258.7" width="10.2" height="1.5" fill="#efd849"/><rect x="72.0" y="260.1" width="10.2" height="1.5" fill="#ecd54c"/><rect x="72.0" y="261.4" width="10.2" height="1.5" fill="#ecd54c"/><rect x="72.0" y="262.8" width="10.2" height="1.5" fill="#eed74a"/><rect x="72.0" y="264.2" width="10.2" height="1.5" fill="#e5d153"/><rect x="72.0" y="265.6" width="10.2" height="1.5" fill="#ddcb5b"/><rect x="5.30" y="229.50" width="77.30" height="37.50" fill="none" stroke="#1a1a1a" stroke-width="0.8"/><rect x="250.50" y="29.00" width="70.70" height="102.80" fill="#2a2a2a"/><rect x="250.5" y="29.0" width="10.1" height="1.2" fill="#24336e"/><rect x="250.5" y="30.1" width="10.1" height="1.2" fill="#293b78"/><rect x="250.5" y="31.2" width="10.1" height="1.2" fill="#2a3b79"/><rect x="250.5" y="32.3" width="10.1" height="1.2" fill="#293b79"/><rect x="250.5" y="33.4" width="10.1" height="1.2" fill="#30417c"/><rect x="250.5" y="34.5" width="10.1" height="1.2" fill="#23336e"/><rect x="250.5" y="35.6" width="10.1" height="1.2" fill="#21306a"/><rect x="250.5" y="36.7" width="10.1" height="1.2" fill="#32437d"/><rect x="250.5" y="37.8" width="10.1" height="1.2" fill="#1e2c64"/><rect x="250.5" y="38.9" width="10.1" height="1.2" fill="#1e2c64"/><rect x="250.5" y="40.1" width="10.1" height="1.2" fill="#22316b"/><rect x="250.5" y="41.2" width="10.1" height="1.2" fill="#1f2d65"/><rect x="250.5" y="42.3" width="10.1" height="1.2" fill="#2a3c7a"/><rect x="250.5" y="43.4" width="10.1" height="1.2" fill="#30417c"/><rect x="250.5" y="44.5" width="10.1" height="1.2" fill="#1e2c64"/><rect x="250.5" y="45.6" width="10.1" height="1.2" fill="#2f407c"/><rect x="250.5" y="46.7" width="10.1" height="1.2" fill="#636b82"/><rect x="250.5" y="47.8" width="10.1" height="1.2" fill="#535d83"/><rect x="250.5" y="48.9" width="10.1" height="1.2" fill="#22316a"/><rect x="250.5" y="50.0" width="10.1" height="1.2" fill="#22316b"/><rect x="250.5" y="51.1" width="10.1" height="1.2" fill="#263672"/><rect x="250.5" y="52.2" width="10.1" height="1.2" fill="#505b83"/><rect x="250.5" y="53.3" width="10.1" height="1.2" fill="#34447d"/><rect x="250.5" y="54.4" width="10.1" height="1.2" fill="#243470"/><rect x="250.5" y="55.5" width="10.1" height="1.2" fill="#435182"/><rect x="250.5" y="56.6" width="10.1" height="1.2" fill="#263672"/><rect x="250.5" y="57.7" width="10.1" height="1.2" fill="#4f5b84"/><rect x="250.5" y="58.8" width="10.1" height="1.2" fill="#21306a"/><rect x="250.5" y="60.0" width="10.1" height="1.2" fill="#38477e"/><rect x="250.5" y="61.1" width="10.1" height="1.2" fill="#293a78"/><rect x="250.5" y="62.2" width="10.1" height="1.2" fill="#23336e"/><rect x="250.5" y="63.3" width="10.1" height="1.2" fill="#4e5984"/><rect x="250.5" y="64.4" width="10.1" height="1.2" fill="#2d3e7b"/><rect x="250.5" y="65.5" width="10.1" height="1.2" fill="#465383"/><rect x="250.5" y="66.6" width="10.1" height="1.2" fill="#37477e"/><rect x="250.5" y="67.7" width="10.1" height="1.2" fill="#2c3d7b"/><rect x="250.5" y="68.8" width="10.1" height="1.2" fill="#23326c"/><rect x="250.5" y="69.9" width="10.1" height="1.2" fill="#34447d"/><rect x="250.5" y="71.0" width="10.1" height="1.2" fill="#32427c"/><rect x="250.5" y="72.1" width="10.1" height="1.2" fill="#31427c"/><rect x="250.5" y="73.2" width="10.1" height="1.2" fill="#263773"/><rect x="250.5" y="74.3" width="10.1" height="1.2" fill="#3f4d81"/><rect x="250.5" y="75.4" width="10.1" height="1.2" fill="#263773"/><rect x="250.5" y="76.5" width="10.1" height="1.2" fill="#666c81"/><rect x="250.5" y="77.6" width="10.1" height="1.2" fill="#7d7d7e"/><rect x="250.5" y="78.7" width="10.1" height="1.2" fill="#908e7a"/><rect x="250.5" y="79.8" width="10.1" height="1.2" fill="#6c7180"/><rect x="250.5" y="81.0" width="10.1" height="1.2" fill="#5d6682"/><rect x="250.5" y="82.1" width="10.1" height="1.2" fill="#656c81"/><rect x="250.5" y="83.2" width="10.1" height="1.2" fill="#616982"/><rect x="250.5" y="84.3" width="10.1" height="1.2" fill="#79797e"/><rect x="250.5" y="85.4" width="10.1" height="1.2" fill="#7d7d7e"/><rect x="250.5" y="86.5" width="10.1" height="1.2" fill="#445182"/><rect x="250.5" y="87.6" width="10.1" height="1.2" fill="#676d81"/><rect x="250.5" y="88.7" width="10.1" height="1.2" fill="#6e7280"/><rect x="250.5" y="89.8" width="10.1" height="1.2" fill="#31427c"/><rect x="250.5" y="90.9" width="10.1" height="1.2" fill="#455282"/><rect x="250.5" y="92.0" width="10.1" height="1.2" fill="#425082"/><rect x="250.5" y="93.1" width="10.1" height="1.2" fill="#24346f"/><rect x="250.5" y="94.2" width="10.1" height="1.2" fill="#2c3e7b"/><rect x="250.5" y="95.3" width="10.1" height="1.2" fill="#1e2c64"/><rect x="250.5" y="96.4" width="10.1" height="1.2" fill="#30417c"/><rect x="250.5" y="97.5" width="10.1" height="1.2" fill="#686e81"/><rect x="250.5" y="98.6" width="10.1" height="1.2" fill="#2d3e7b"/><rect x="250.5" y="99.7" width="10.1" height="1.2" fill="#676d81"/><rect x="250.5" y="100.8" width="10.1" height="1.2" fill="#7b7b7e"/><rect x="250.5" y="102.0" width="10.1" height="1.2" fill="#c7ba68"/><rect x="250.5" y="103.1" width="10.1" height="1.2" fill="#bab06d"/><rect x="250.5" y="104.2" width="10.1" height="1.2" fill="#a8a276"/><rect x="250.5" y="105.3" width="10.1" height="1.2" fill="#c3b76a"/><rect x="250.5" y="106.4" width="10.1" height="1.2" fill="#d9c85c"/><rect x="250.5" y="107.5" width="10.1" height="1.2" fill="#c7bb68"/><rect x="250.5" y="108.6" width="10.1" height="1.2" fill="#b4ab70"/><rect x="250.5" y="109.7" width="10.1" height="1.2" fill="#b2aa71"/><rect x="250.5" y="110.8" width="10.1" height="1.2" fill="#b6ad6f"/><rect x="250.5" y="111.9" width="10.1" height="1.2" fill="#b1a972"/><rect x="250.5" y="113.0" width="10.1" height="1.2" fill="#c3b76a"/><rect x="250.5" y="114.1" width="10.1" height="1.2" fill="#a19c77"/><rect x="250.5" y="115.2" width="10.1" height="1.2" fill="#a5a076"/><rect x="250.5" y="116.3" width="10.1" height="1.2" fill="#e3cf54"/><rect x="250.5" y="117.4" width="10.1" height="1.2" fill="#b3aa70"/><rect x="250.5" y="118.5" width="10.1" height="1.2" fill="#ada674"/><rect x="250.5" y="119.6" width="10.1" height="1.2" fill="#bcb26c"/><rect x="250.5" y="120.7" width="10.1" height="1.2" fill="#b8ae6e"/><rect x="250.5" y="121.9" width="10.1" height="1.2" fill="#ada574"/><rect x="250.5" y="123.0" width="10.1" height="1.2" fill="#aaa475"/><rect x="250.5" y="124.1" width="10.1" height="1.2" fill="#475383"/><rect x="250.5" y="125.2" width="10.1" height="1.2" fill="#545e83"/><rect x="250.5" y="126.3" width="10.1" height="1.2" fill="#ada673"/><rect x="250.5" y="127.4" width="10.1" height="1.2" fill="#b0a872"/><rect x="250.5" y="128.5" width="10.1" height="1.2" fill="#989579"/><rect x="250.5" y="129.6" width="10.1" height="1.2" fill="#b1a971"/><rect x="250.5" y="130.7" width="10.1" height="1.2" fill="#a09b77"/><rect x="260.6" y="29.0" width="10.1" height="1.2" fill="#646b82"/><rect x="260.6" y="30.1" width="10.1" height="1.2" fill="#596283"/><rect x="260.6" y="31.2" width="10.1" height="1.2" fill="#5d6682"/><rect x="260.6" y="32.3" width="10.1" height="1.2" fill="#9c9878"/><rect x="260.6" y="33.4" width="10.1" height="1.2" fill="#596283"/><rect x="260.6" y="34.5" width="10.1" height="1.2" fill="#70737f"/><rect x="260.6" y="35.6" width="10.1" height="1.2" fill="#646b82"/><rect x="260.6" y="36.7" width="10.1" height="1.2" fill="#78787e"/><rect x="260.6" y="37.8" width="10.1" height="1.2" fill="#666d81"/><rect x="260.6" y="38.9" width="10.1" height="1.2" fill="#495684"/><rect x="260.6" y="40.1" width="10.1" height="1.2" fill="#545e83"/><rect x="260.6" y="41.2" width="10.1" height="1.2" fill="#807f7e"/><rect x="260.6" y="42.3" width="10.1" height="1.2" fill="#6c7080"/><rect x="260.6" y="43.4" width="10.1" height="1.2" fill="#86857c"/><rect x="260.6" y="44.5" width="10.1" height="1.2" fill="#414f81"/><rect x="260.6" y="45.6" width="10.1" height="1.2" fill="#75767f"/><rect x="260.6" y="46.7" width="10.1" height="1.2" fill="#32437d"/><rect x="260.6" y="47.8" width="10.1" height="1.2" fill="#293a78"/><rect x="260.6" y="48.9" width="10.1" height="1.2" fill="#1e2c64"/><rect x="260.6" y="50.0" width="10.1" height="1.2" fill="#263773"/><rect x="260.6" y="51.1" width="10.1" height="1.2" fill="#263773"/><rect x="260.6" y="52.2" width="10.1" height="1.2" fill="#918f7a"/><rect x="260.6" y="53.3" width="10.1" height="1.2" fill="#9c9878"/><rect x="260.6" y="54.4" width="10.1" height="1.2" fill="#78787e"/><rect x="260.6" y="55.5" width="10.1" height="1.2" fill="#8f8d7b"/><rect x="260.6" y="56.6" width="10.1" height="1.2" fill="#87867c"/><rect x="260.6" y="57.7" width="10.1" height="1.2" fill="#7a7a7e"/><rect x="260.6" y="58.8" width="10.1" height="1.2" fill="#89887c"/><rect x="260.6" y="60.0" width="10.1" height="1.2" fill="#80807e"/><rect x="260.6" y="61.1" width="10.1" height="1.2" fill="#7a7a7e"/><rect x="260.6" y="62.2" width="10.1" height="1.2" fill="#8c8a7b"/><rect x="260.6" y="63.3" width="10.1" height="1.2" fill="#ada674"/><rect x="260.6" y="64.4" width="10.1" height="1.2" fill="#9c9878"/><rect x="260.6" y="65.5" width="10.1" height="1.2" fill="#ada674"/><rect x="260.6" y="66.6" width="10.1" height="1.2" fill="#8a887c"/><rect x="260.6" y="67.7" width="10.1" height="1.2" fill="#77777e"/><rect x="260.6" y="68.8" width="10.1" height="1.2" fill="#a7a176"/><rect x="260.6" y="69.9" width="10.1" height="1.2" fill="#999679"/><rect x="260.6" y="71.0" width="10.1" height="1.2" fill="#9c9878"/><rect x="260.6" y="72.1" width="10.1" height="1.2" fill="#92907a"/><rect x="260.6" y="73.2" width="10.1" height="1.2" fill="#9c9878"/><rect x="260.6" y="74.3" width="10.1" height="1.2" fill="#969379"/><rect x="260.6" y="75.4" width="10.1" height="1.2" fill="#989579"/><rect x="260.6" y="76.5" width="10.1" height="1.2" fill="#9d9978"/><rect x="260.6" y="77.6" width="10.1" height="1.2" fill="#bcb16c"/><rect x="260.6" y="78.7" width="10.1" height="1.2" fill="#b4ab70"/><rect x="260.6" y="79.8" width="10.1" height="1.2" fill="#a29d77"/><rect x="260.6" y="81.0" width="10.1" height="1.2" fill="#918f7a"/><rect x="260.6" y="82.1" width="10.1" height="1.2" fill="#9f9b78"/><rect x="260.6" y="83.2" width="10.1" height="1.2" fill="#a49f77"/><rect x="260.6" y="84.3" width="10.1" height="1.2" fill="#aaa375"/><rect x="260.6" y="85.4" width="10.1" height="1.2" fill="#a39e77"/><rect x="260.6" y="86.5" width="10.1" height="1.2" fill="#9c9978"/><rect x="260.6" y="87.6" width="10.1" height="1.2" fill="#999579"/><rect x="260.6" y="88.7" width="10.1" height="1.2" fill="#a09b77"/><rect x="260.6" y="89.8" width="10.1" height="1.2" fill="#a09b77"/><rect x="260.6" y="90.9" width="10.1" height="1.2" fill="#ada673"/><rect x="260.6" y="92.0" width="10.1" height="1.2" fill="#a7a176"/><rect x="260.6" y="93.1" width="10.1" height="1.2" fill="#9d9978"/><rect x="260.6" y="94.2" width="10.1" height="1.2" fill="#a29d77"/><rect x="260.6" y="95.3" width="10.1" height="1.2" fill="#9f9b78"/><rect x="260.6" y="96.4" width="10.1" height="1.2" fill="#aca574"/><rect x="260.6" y="97.5" width="10.1" height="1.2" fill="#b2a971"/><rect x="260.6" y="98.6" width="10.1" height="1.2" fill="#85847d"/><rect x="260.6" y="99.7" width="10.1" height="1.2" fill="#1e2c64"/><rect x="260.6" y="100.8" width="10.1" height="1.2" fill="#34447d"/><rect x="260.6" y="102.0" width="10.1" height="1.2" fill="#bfb46b"/><rect x="260.6" y="103.1" width="10.1" height="1.2" fill="#afa773"/><rect x="260.6" y="104.2" width="10.1" height="1.2" fill="#a09b77"/><rect x="260.6" y="105.3" width="10.1" height="1.2" fill="#b8ae6e"/><rect x="260.6" y="106.4" width="10.1" height="1.2" fill="#c3b769"/><rect x="260.6" y="107.5" width="10.1" height="1.2" fill="#d7c75e"/><rect x="260.6" y="108.6" width="10.1" height="1.2" fill="#aca574"/><rect x="260.6" y="109.7" width="10.1" height="1.2" fill="#c0b56b"/><rect x="260.6" y="110.8" width="10.1" height="1.2" fill="#a29d77"/><rect x="260.6" y="111.9" width="10.1" height="1.2" fill="#a9a276"/><rect x="260.6" y="113.0" width="10.1" height="1.2" fill="#cdc065"/><rect x="260.6" y="114.1" width="10.1" height="1.2" fill="#b7ad6f"/><rect x="260.6" y="115.2" width="10.1" height="1.2" fill="#aca574"/><rect x="260.6" y="116.3" width="10.1" height="1.2" fill="#baaf6d"/><rect x="260.6" y="117.4" width="10.1" height="1.2" fill="#b3aa71"/><rect x="260.6" y="118.5" width="10.1" height="1.2" fill="#aba574"/><rect x="260.6" y="119.6" width="10.1" height="1.2" fill="#c0b56b"/><rect x="260.6" y="120.7" width="10.1" height="1.2" fill="#bbb06d"/><rect x="260.6" y="121.9" width="10.1" height="1.2" fill="#cbbe66"/><rect x="260.6" y="123.0" width="10.1" height="1.2" fill="#afa772"/><rect x="260.6" y="124.1" width="10.1" height="1.2" fill="#81817d"/><rect x="260.6" y="125.2" width="10.1" height="1.2" fill="#9b9778"/><rect x="260.6" y="126.3" width="10.1" height="1.2" fill="#a09b77"/><rect x="260.6" y="127.4" width="10.1" height="1.2" fill="#9b9878"/><rect x="260.6" y="128.5" width="10.1" height="1.2" fill="#9f9b78"/><rect x="260.6" y="129.6" width="10.1" height="1.2" fill="#a6a176"/><rect x="260.6" y="130.7" width="10.1" height="1.2" fill="#999679"/><rect x="270.7" y="29.0" width="10.1" height="1.2" fill="#9f9b78"/><rect x="270.7" y="30.1" width="10.1" height="1.2" fill="#aea673"/><rect x="270.7" y="31.2" width="10.1" height="1.2" fill="#a8a276"/><rect x="270.7" y="32.3" width="10.1" height="1.2" fill="#b6ad6f"/><rect x="270.7" y="33.4" width="10.1" height="1.2" fill="#a09c77"/><rect x="270.7" y="34.5" width="10.1" height="1.2" fill="#b9af6e"/><rect x="270.7" y="35.6" width="10.1" height="1.2" fill="#aba475"/><rect x="270.7" y="36.7" width="10.1" height="1.2" fill="#c0b56a"/><rect x="270.7" y="37.8" width="10.1" height="1.2" fill="#aba475"/><rect x="270.7" y="38.9" width="10.1" height="1.2" fill="#9a9679"/><rect x="270.7" y="40.1" width="10.1" height="1.2" fill="#9d9978"/><rect x="270.7" y="41.2" width="10.1" height="1.2" fill="#999679"/><rect x="270.7" y="42.3" width="10.1" height="1.2" fill="#a09c77"/><rect x="270.7" y="43.4" width="10.1" height="1.2" fill="#aaa375"/><rect x="270.7" y="44.5" width="10.1" height="1.2" fill="#8a897c"/><rect x="270.7" y="45.6" width="10.1" height="1.2" fill="#beb36c"/><rect x="270.7" y="46.7" width="10.1" height="1.2" fill="#94927a"/><rect x="270.7" y="47.8" width="10.1" height="1.2" fill="#79797e"/><rect x="270.7" y="48.9" width="10.1" height="1.2" fill="#5c6583"/><rect x="270.7" y="50.0" width="10.1" height="1.2" fill="#7b7b7e"/><rect x="270.7" y="51.1" width="10.1" height="1.2" fill="#79797e"/><rect x="270.7" y="52.2" width="10.1" height="1.2" fill="#9c9878"/><rect x="270.7" y="53.3" width="10.1" height="1.2" fill="#959279"/><rect x="270.7" y="54.4" width="10.1" height="1.2" fill="#73757f"/><rect x="270.7" y="55.5" width="10.1" height="1.2" fill="#aea773"/><rect x="270.7" y="56.6" width="10.1" height="1.2" fill="#989579"/><rect x="270.7" y="57.7" width="10.1" height="1.2" fill="#d4c560"/><rect x="270.7" y="58.8" width="10.1" height="1.2" fill="#9b9778"/><rect x="270.7" y="60.0" width="10.1" height="1.2" fill="#9e9a78"/><rect x="270.7" y="61.1" width="10.1" height="1.2" fill="#afa872"/><rect x="270.7" y="62.2" width="10.1" height="1.2" fill="#a39e77"/><rect x="270.7" y="63.3" width="10.1" height="1.2" fill="#b2aa71"/><rect x="270.7" y="64.4" width="10.1" height="1.2" fill="#a9a276"/><rect x="270.7" y="65.5" width="10.1" height="1.2" fill="#a49f77"/><rect x="270.7" y="66.6" width="10.1" height="1.2" fill="#bab06d"/><rect x="270.7" y="67.7" width="10.1" height="1.2" fill="#a59f77"/><rect x="270.7" y="68.8" width="10.1" height="1.2" fill="#b5ac6f"/><rect x="270.7" y="69.9" width="10.1" height="1.2" fill="#9d9978"/><rect x="270.7" y="71.0" width="10.1" height="1.2" fill="#9e9a78"/><rect x="270.7" y="72.1" width="10.1" height="1.2" fill="#a09b77"/><rect x="270.7" y="73.2" width="10.1" height="1.2" fill="#aba475"/><rect x="270.7" y="74.3" width="10.1" height="1.2" fill="#8c8a7b"/><rect x="270.7" y="75.4" width="10.1" height="1.2" fill="#a49e77"/><rect x="270.7" y="76.5" width="10.1" height="1.2" fill="#73757f"/><rect x="270.7" y="77.6" width="10.1" height="1.2" fill="#908e7a"/><rect x="270.7" y="78.7" width="10.1" height="1.2" fill="#82827d"/><rect x="270.7" y="79.8" width="10.1" height="1.2" fill="#88877c"/><rect x="270.7" y="81.0" width="10.1" height="1.2" fill="#6f7280"/><rect x="270.7" y="82.1" width="10.1" height="1.2" fill="#5b6483"/><rect x="270.7" y="83.2" width="10.1" height="1.2" fill="#77777e"/><rect x="270.7" y="84.3" width="10.1" height="1.2" fill="#969379"/><rect x="270.7" y="85.4" width="10.1" height="1.2" fill="#8f8d7b"/><rect x="270.7" y="86.5" width="10.1" height="1.2" fill="#7b7b7e"/><rect x="270.7" y="87.6" width="10.1" height="1.2" fill="#7d7d7e"/><rect x="270.7" y="88.7" width="10.1" height="1.2" fill="#7e7e7e"/><rect x="270.7" y="89.8" width="10.1" height="1.2" fill="#959279"/><rect x="270.7" y="90.9" width="10.1" height="1.2" fill="#918f7a"/><rect x="270.7" y="92.0" width="10.1" height="1.2" fill="#7a7a7e"/><rect x="270.7" y="93.1" width="10.1" height="1.2" fill="#515c83"/><rect x="270.7" y="94.2" width="10.1" height="1.2" fill="#6d7180"/><rect x="270.7" y="95.3" width="10.1" height="1.2" fill="#7a7a7e"/><rect x="270.7" y="96.4" width="10.1" height="1.2" fill="#8f8d7b"/><rect x="270.7" y="97.5" width="10.1" height="1.2" fill="#7b7b7e"/><rect x="270.7" y="98.6" width="10.1" height="1.2" fill="#666c81"/><rect x="270.7" y="99.7" width="10.1" height="1.2" fill="#2d3e7b"/><rect x="270.7" y="100.8" width="10.1" height="1.2" fill="#455282"/><rect x="270.7" y="102.0" width="10.1" height="1.2" fill="#545f83"/><rect x="270.7" y="103.1" width="10.1" height="1.2" fill="#4e5a84"/><rect x="270.7" y="104.2" width="10.1" height="1.2" fill="#6c7080"/><rect x="270.7" y="105.3" width="10.1" height="1.2" fill="#5b6483"/><rect x="270.7" y="106.4" width="10.1" height="1.2" fill="#6e7180"/><rect x="270.7" y="107.5" width="10.1" height="1.2" fill="#80807e"/><rect x="270.7" y="108.6" width="10.1" height="1.2" fill="#5c6583"/><rect x="270.7" y="109.7" width="10.1" height="1.2" fill="#79797e"/><rect x="270.7" y="110.8" width="10.1" height="1.2" fill="#696e81"/><rect x="270.7" y="111.9" width="10.1" height="1.2" fill="#636b82"/><rect x="270.7" y="113.0" width="10.1" height="1.2" fill="#7c7c7e"/><rect x="270.7" y="114.1" width="10.1" height="1.2" fill="#78787e"/><rect x="270.7" y="115.2" width="10.1" height="1.2" fill="#3c4b80"/><rect x="270.7" y="116.3" width="10.1" height="1.2" fill="#8b8a7b"/><rect x="270.7" y="117.4" width="10.1" height="1.2" fill="#6d7180"/><rect x="270.7" y="118.5" width="10.1" height="1.2" fill="#7b7b7e"/><rect x="270.7" y="119.6" width="10.1" height="1.2" fill="#4f5a84"/><rect x="270.7" y="120.7" width="10.1" height="1.2" fill="#71747f"/><rect x="270.7" y="121.9" width="10.1" height="1.2" fill="#71747f"/><rect x="270.7" y="123.0" width="10.1" height="1.2" fill="#76777e"/><rect x="270.7" y="124.1" width="10.1" height="1.2" fill="#576183"/><rect x="270.7" y="125.2" width="10.1" height="1.2" fill="#70737f"/><rect x="270.7" y="126.3" width="10.1" height="1.2" fill="#22316a"/><rect x="270.7" y="127.4" width="10.1" height="1.2" fill="#35457d"/><rect x="270.7" y="128.5" width="10.1" height="1.2" fill="#424f81"/><rect x="270.7" y="129.6" width="10.1" height="1.2" fill="#31427c"/><rect x="270.7" y="130.7" width="10.1" height="1.2" fill="#32437d"/><rect x="280.8" y="29.0" width="10.1" height="1.2" fill="#aba574"/><rect x="280.8" y="30.1" width="10.1" height="1.2" fill="#c2b66a"/><rect x="280.8" y="31.2" width="10.1" height="1.2" fill="#aea673"/><rect x="280.8" y="32.3" width="10.1" height="1.2" fill="#a29d77"/><rect x="280.8" y="33.4" width="10.1" height="1.2" fill="#908d7a"/><rect x="280.8" y="34.5" width="10.1" height="1.2" fill="#989579"/><rect x="280.8" y="35.6" width="10.1" height="1.2" fill="#89887c"/><rect x="280.8" y="36.7" width="10.1" height="1.2" fill="#aca574"/><rect x="280.8" y="37.8" width="10.1" height="1.2" fill="#9e9978"/><rect x="280.8" y="38.9" width="10.1" height="1.2" fill="#aca574"/><rect x="280.8" y="40.1" width="10.1" height="1.2" fill="#9f9a78"/><rect x="280.8" y="41.2" width="10.1" height="1.2" fill="#8a887c"/><rect x="280.8" y="42.3" width="10.1" height="1.2" fill="#bbb16d"/><rect x="280.8" y="43.4" width="10.1" height="1.2" fill="#b5ac6f"/><rect x="280.8" y="44.5" width="10.1" height="1.2" fill="#979479"/><rect x="280.8" y="45.6" width="10.1" height="1.2" fill="#a19c77"/><rect x="280.8" y="46.7" width="10.1" height="1.2" fill="#918f7a"/><rect x="280.8" y="47.8" width="10.1" height="1.2" fill="#8d8c7b"/><rect x="280.8" y="48.9" width="10.1" height="1.2" fill="#a09b77"/><rect x="280.8" y="50.0" width="10.1" height="1.2" fill="#8f8d7b"/><rect x="280.8" y="51.1" width="10.1" height="1.2" fill="#88867c"/><rect x="280.8" y="52.2" width="10.1" height="1.2" fill="#a7a176"/><rect x="280.8" y="53.3" width="10.1" height="1.2" fill="#a19d77"/><rect x="280.8" y="54.4" width="10.1" height="1.2" fill="#989479"/><rect x="280.8" y="55.5" width="10.1" height="1.2" fill="#aba474"/><rect x="280.8" y="56.6" width="10.1" height="1.2" fill="#a5a076"/><rect x="280.8" y="57.7" width="10.1" height="1.2" fill="#9f9b78"/><rect x="280.8" y="58.8" width="10.1" height="1.2" fill="#a39e77"/><rect x="280.8" y="60.0" width="10.1" height="1.2" fill="#8d8b7b"/><rect x="280.8" y="61.1" width="10.1" height="1.2" fill="#a39e77"/><rect x="280.8" y="62.2" width="10.1" height="1.2" fill="#9f9b78"/><rect x="280.8" y="63.3" width="10.1" height="1.2" fill="#afa772"/><rect x="280.8" y="64.4" width="10.1" height="1.2" fill="#b4ab70"/><rect x="280.8" y="65.5" width="10.1" height="1.2" fill="#a7a176"/><rect x="280.8" y="66.6" width="10.1" height="1.2" fill="#b1a971"/><rect x="280.8" y="67.7" width="10.1" height="1.2" fill="#9f9a78"/><rect x="280.8" y="68.8" width="10.1" height="1.2" fill="#9f9a78"/><rect x="280.8" y="69.9" width="10.1" height="1.2" fill="#969379"/><rect x="280.8" y="71.0" width="10.1" height="1.2" fill="#8d8b7b"/><rect x="280.8" y="72.1" width="10.1" height="1.2" fill="#a09b77"/><rect x="280.8" y="73.2" width="10.1" height="1.2" fill="#999679"/><rect x="280.8" y="74.3" width="10.1" height="1.2" fill="#9b9878"/><rect x="280.8" y="75.4" width="10.1" height="1.2" fill="#bdb26c"/><rect x="280.8" y="76.5" width="10.1" height="1.2" fill="#78787e"/><rect x="280.8" y="77.6" width="10.1" height="1.2" fill="#94917a"/><rect x="280.8" y="78.7" width="10.1" height="1.2" fill="#85847d"/><rect x="280.8" y="79.8" width="10.1" height="1.2" fill="#7b7b7e"/><rect x="280.8" y="81.0" width="10.1" height="1.2" fill="#77777e"/><rect x="280.8" y="82.1" width="10.1" height="1.2" fill="#6b6f80"/><rect x="280.8" y="83.2" width="10.1" height="1.2" fill="#79797e"/><rect x="280.8" y="84.3" width="10.1" height="1.2" fill="#a39e77"/><rect x="280.8" y="85.4" width="10.1" height="1.2" fill="#7d7d7e"/><rect x="280.8" y="86.5" width="10.1" height="1.2" fill="#b4ab70"/><rect x="280.8" y="87.6" width="10.1" height="1.2" fill="#969379"/><rect x="280.8" y="88.7" width="10.1" height="1.2" fill="#aba475"/><rect x="280.8" y="89.8" width="10.1" height="1.2" fill="#a19c77"/><rect x="280.8" y="90.9" width="10.1" height="1.2" fill="#aca574"/><rect x="280.8" y="92.0" width="10.1" height="1.2" fill="#aea673"/><rect x="280.8" y="93.1" width="10.1" height="1.2" fill="#979479"/><rect x="280.8" y="94.2" width="10.1" height="1.2" fill="#a09b77"/><rect x="280.8" y="95.3" width="10.1" height="1.2" fill="#7b7b7e"/><rect x="280.8" y="96.4" width="10.1" height="1.2" fill="#999679"/><rect x="280.8" y="97.5" width="10.1" height="1.2" fill="#8b897b"/><rect x="280.8" y="98.6" width="10.1" height="1.2" fill="#9f9b78"/><rect x="280.8" y="99.7" width="10.1" height="1.2" fill="#576183"/><rect x="280.8" y="100.8" width="10.1" height="1.2" fill="#76777e"/><rect x="280.8" y="102.0" width="10.1" height="1.2" fill="#646b82"/><rect x="280.8" y="103.1" width="10.1" height="1.2" fill="#73757f"/><rect x="280.8" y="104.2" width="10.1" height="1.2" fill="#74757f"/><rect x="280.8" y="105.3" width="10.1" height="1.2" fill="#89887c"/><rect x="280.8" y="106.4" width="10.1" height="1.2" fill="#7d7d7e"/><rect x="280.8" y="107.5" width="10.1" height="1.2" fill="#8e8c7b"/><rect x="280.8" y="108.6" width="10.1" height="1.2" fill="#525c83"/><rect x="280.8" y="109.7" width="10.1" height="1.2" fill="#525d83"/><rect x="280.8" y="110.8" width="10.1" height="1.2" fill="#626a82"/><rect x="280.8" y="111.9" width="10.1" height="1.2" fill="#6a6f81"/><rect x="280.8" y="113.0" width="10.1" height="1.2" fill="#6e7280"/><rect x="280.8" y="114.1" width="10.1" height="1.2" fill="#8c8b7b"/><rect x="280.8" y="115.2" width="10.1" height="1.2" fill="#aaa375"/><rect x="280.8" y="116.3" width="10.1" height="1.2" fill="#83837d"/><rect x="280.8" y="117.4" width="10.1" height="1.2" fill="#82827d"/><rect x="280.8" y="118.5" width="10.1" height="1.2" fill="#959279"/><rect x="280.8" y="119.6" width="10.1" height="1.2" fill="#8a897c"/><rect x="280.8" y="120.7" width="10.1" height="1.2" fill="#a7a176"/><rect x="280.8" y="121.9" width="10.1" height="1.2" fill="#aea673"/><rect x="280.8" y="123.0" width="10.1" height="1.2" fill="#70737f"/><rect x="280.8" y="124.1" width="10.1" height="1.2" fill="#8f8d7b"/><rect x="280.8" y="125.2" width="10.1" height="1.2" fill="#989579"/><rect x="280.8" y="126.3" width="10.1" height="1.2" fill="#88877c"/><rect x="280.8" y="127.4" width="10.1" height="1.2" fill="#75767f"/><rect x="280.8" y="128.5" width="10.1" height="1.2" fill="#79797e"/><rect x="280.8" y="129.6" width="10.1" height="1.2" fill="#70737f"/><rect x="280.8" y="130.7" width="10.1" height="1.2" fill="#989579"/><rect x="290.9" y="29.0" width="10.1" height="1.2" fill="#9b9778"/><rect x="290.9" y="30.1" width="10.1" height="1.2" fill="#a19c77"/><rect x="290.9" y="31.2" width="10.1" height="1.2" fill="#7b7b7e"/><rect x="290.9" y="32.3" width="10.1" height="1.2" fill="#94917a"/><rect x="290.9" y="33.4" width="10.1" height="1.2" fill="#86857c"/><rect x="290.9" y="34.5" width="10.1" height="1.2" fill="#81807d"/><rect x="290.9" y="35.6" width="10.1" height="1.2" fill="#79797e"/><rect x="290.9" y="36.7" width="10.1" height="1.2" fill="#a59f77"/><rect x="290.9" y="37.8" width="10.1" height="1.2" fill="#b2aa71"/><rect x="290.9" y="38.9" width="10.1" height="1.2" fill="#a9a375"/><rect x="290.9" y="40.1" width="10.1" height="1.2" fill="#afa772"/><rect x="290.9" y="41.2" width="10.1" height="1.2" fill="#a8a276"/><rect x="290.9" y="42.3" width="10.1" height="1.2" fill="#b2a971"/><rect x="290.9" y="43.4" width="10.1" height="1.2" fill="#b3aa71"/><rect x="290.9" y="44.5" width="10.1" height="1.2" fill="#a49f77"/><rect x="290.9" y="45.6" width="10.1" height="1.2" fill="#b1a972"/><rect x="290.9" y="46.7" width="10.1" height="1.2" fill="#b0a872"/><rect x="290.9" y="47.8" width="10.1" height="1.2" fill="#918f7a"/><rect x="290.9" y="48.9" width="10.1" height="1.2" fill="#7e7e7e"/><rect x="290.9" y="50.0" width="10.1" height="1.2" fill="#a9a375"/><rect x="290.9" y="51.1" width="10.1" height="1.2" fill="#999679"/><rect x="290.9" y="52.2" width="10.1" height="1.2" fill="#a5a076"/><rect x="290.9" y="53.3" width="10.1" height="1.2" fill="#b5ac70"/><rect x="290.9" y="54.4" width="10.1" height="1.2" fill="#9d9978"/><rect x="290.9" y="55.5" width="10.1" height="1.2" fill="#88877c"/><rect x="290.9" y="56.6" width="10.1" height="1.2" fill="#999579"/><rect x="290.9" y="57.7" width="10.1" height="1.2" fill="#afa773"/><rect x="290.9" y="58.8" width="10.1" height="1.2" fill="#a9a375"/><rect x="290.9" y="60.0" width="10.1" height="1.2" fill="#a7a176"/><rect x="290.9" y="61.1" width="10.1" height="1.2" fill="#9f9b78"/><rect x="290.9" y="62.2" width="10.1" height="1.2" fill="#85847d"/><rect x="290.9" y="63.3" width="10.1" height="1.2" fill="#9e9a78"/><rect x="290.9" y="64.4" width="10.1" height="1.2" fill="#a8a276"/><rect x="290.9" y="65.5" width="10.1" height="1.2" fill="#a8a276"/><rect x="290.9" y="66.6" width="10.1" height="1.2" fill="#92907a"/><rect x="290.9" y="67.7" width="10.1" height="1.2" fill="#86857c"/><rect x="290.9" y="68.8" width="10.1" height="1.2" fill="#93907a"/><rect x="290.9" y="69.9" width="10.1" height="1.2" fill="#999679"/><rect x="290.9" y="71.0" width="10.1" height="1.2" fill="#999679"/><rect x="290.9" y="72.1" width="10.1" height="1.2" fill="#9e9a78"/><rect x="290.9" y="73.2" width="10.1" height="1.2" fill="#81817d"/><rect x="290.9" y="74.3" width="10.1" height="1.2" fill="#a6a076"/><rect x="290.9" y="75.4" width="10.1" height="1.2" fill="#a7a276"/><rect x="290.9" y="76.5" width="10.1" height="1.2" fill="#6e7180"/><rect x="290.9" y="77.6" width="10.1" height="1.2" fill="#989579"/><rect x="290.9" y="78.7" width="10.1" height="1.2" fill="#989579"/><rect x="290.9" y="79.8" width="10.1" height="1.2" fill="#8d8b7b"/><rect x="290.9" y="81.0" width="10.1" height="1.2" fill="#7d7d7e"/><rect x="290.9" y="82.1" width="10.1" height="1.2" fill="#5e6682"/><rect x="290.9" y="83.2" width="10.1" height="1.2" fill="#8c8a7b"/><rect x="290.9" y="84.3" width="10.1" height="1.2" fill="#9d9978"/><rect x="290.9" y="85.4" width="10.1" height="1.2" fill="#7b7b7e"/><rect x="290.9" y="86.5" width="10.1" height="1.2" fill="#a49f77"/><rect x="290.9" y="87.6" width="10.1" height="1.2" fill="#d6c65e"/><rect x="290.9" y="88.7" width="10.1" height="1.2" fill="#cec065"/><rect x="290.9" y="89.8" width="10.1" height="1.2" fill="#bdb26c"/><rect x="290.9" y="90.9" width="10.1" height="1.2" fill="#c3b76a"/><rect x="290.9" y="92.0" width="10.1" height="1.2" fill="#b6ad6f"/><rect x="290.9" y="93.1" width="10.1" height="1.2" fill="#a19d77"/><rect x="290.9" y="94.2" width="10.1" height="1.2" fill="#aaa375"/><rect x="290.9" y="95.3" width="10.1" height="1.2" fill="#a7a176"/><rect x="290.9" y="96.4" width="10.1" height="1.2" fill="#b1a972"/><rect x="290.9" y="97.5" width="10.1" height="1.2" fill="#a39e77"/><rect x="290.9" y="98.6" width="10.1" height="1.2" fill="#7b7b7e"/><rect x="290.9" y="99.7" width="10.1" height="1.2" fill="#515b83"/><rect x="290.9" y="100.8" width="10.1" height="1.2" fill="#77777e"/><rect x="290.9" y="102.0" width="10.1" height="1.2" fill="#576183"/><rect x="290.9" y="103.1" width="10.1" height="1.2" fill="#6a6f80"/><rect x="290.9" y="104.2" width="10.1" height="1.2" fill="#85857d"/><rect x="290.9" y="105.3" width="10.1" height="1.2" fill="#9d9978"/><rect x="290.9" y="106.4" width="10.1" height="1.2" fill="#a09b77"/><rect x="290.9" y="107.5" width="10.1" height="1.2" fill="#a09c77"/><rect x="290.9" y="108.6" width="10.1" height="1.2" fill="#7d7d7e"/><rect x="290.9" y="109.7" width="10.1" height="1.2" fill="#94917a"/><rect x="290.9" y="110.8" width="10.1" height="1.2" fill="#8b8a7b"/><rect x="290.9" y="111.9" width="10.1" height="1.2" fill="#9d9978"/><rect x="290.9" y="113.0" width="10.1" height="1.2" fill="#8c8a7b"/><rect x="290.9" y="114.1" width="10.1" height="1.2" fill="#8f8d7b"/><rect x="290.9" y="115.2" width="10.1" height="1.2" fill="#7e7e7e"/><rect x="290.9" y="116.3" width="10.1" height="1.2" fill="#9e9a78"/><rect x="290.9" y="117.4" width="10.1" height="1.2" fill="#7a7a7e"/><rect x="290.9" y="118.5" width="10.1" height="1.2" fill="#9b9778"/><rect x="290.9" y="119.6" width="10.1" height="1.2" fill="#9f9a78"/><rect x="290.9" y="120.7" width="10.1" height="1.2" fill="#a6a076"/><rect x="290.9" y="121.9" width="10.1" height="1.2" fill="#959379"/><rect x="290.9" y="123.0" width="10.1" height="1.2" fill="#7f7f7e"/><rect x="290.9" y="124.1" width="10.1" height="1.2" fill="#8e8c7b"/><rect x="290.9" y="125.2" width="10.1" height="1.2" fill="#a8a276"/><rect x="290.9" y="126.3" width="10.1" height="1.2" fill="#9f9a78"/><rect x="290.9" y="127.4" width="10.1" height="1.2" fill="#908e7a"/><rect x="290.9" y="128.5" width="10.1" height="1.2" fill="#b3ab70"/><rect x="290.9" y="129.6" width="10.1" height="1.2" fill="#bcb16c"/><rect x="290.9" y="130.7" width="10.1" height="1.2" fill="#b3ab70"/><rect x="301.0" y="29.0" width="10.1" height="1.2" fill="#908e7a"/><rect x="301.0" y="30.1" width="10.1" height="1.2" fill="#9c9878"/><rect x="301.0" y="31.2" width="10.1" height="1.2" fill="#9c9878"/><rect x="301.0" y="32.3" width="10.1" height="1.2" fill="#a59f77"/><rect x="301.0" y="33.4" width="10.1" height="1.2" fill="#83827d"/><rect x="301.0" y="34.5" width="10.1" height="1.2" fill="#8a897c"/><rect x="301.0" y="35.6" width="10.1" height="1.2" fill="#918f7a"/><rect x="301.0" y="36.7" width="10.1" height="1.2" fill="#928f7a"/><rect x="301.0" y="37.8" width="10.1" height="1.2" fill="#979479"/><rect x="301.0" y="38.9" width="10.1" height="1.2" fill="#92907a"/><rect x="301.0" y="40.1" width="10.1" height="1.2" fill="#8f8d7b"/><rect x="301.0" y="41.2" width="10.1" height="1.2" fill="#7e7e7e"/><rect x="301.0" y="42.3" width="10.1" height="1.2" fill="#a09b77"/><rect x="301.0" y="43.4" width="10.1" height="1.2" fill="#9e9a78"/><rect x="301.0" y="44.5" width="10.1" height="1.2" fill="#8f8d7b"/><rect x="301.0" y="45.6" width="10.1" height="1.2" fill="#979479"/><rect x="301.0" y="46.7" width="10.1" height="1.2" fill="#d0c264"/><rect x="301.0" y="47.8" width="10.1" height="1.2" fill="#aba475"/><rect x="301.0" y="48.9" width="10.1" height="1.2" fill="#ada674"/><rect x="301.0" y="50.0" width="10.1" height="1.2" fill="#b4ab70"/><rect x="301.0" y="51.1" width="10.1" height="1.2" fill="#bdb26c"/><rect x="301.0" y="52.2" width="10.1" height="1.2" fill="#79797e"/><rect x="301.0" y="53.3" width="10.1" height="1.2" fill="#7a7a7e"/><rect x="301.0" y="54.4" width="10.1" height="1.2" fill="#5f6882"/><rect x="301.0" y="55.5" width="10.1" height="1.2" fill="#7f7f7e"/><rect x="301.0" y="56.6" width="10.1" height="1.2" fill="#79797e"/><rect x="301.0" y="57.7" width="10.1" height="1.2" fill="#73757f"/><rect x="301.0" y="58.8" width="10.1" height="1.2" fill="#6a6f80"/><rect x="301.0" y="60.0" width="10.1" height="1.2" fill="#576183"/><rect x="301.0" y="61.1" width="10.1" height="1.2" fill="#77787e"/><rect x="301.0" y="62.2" width="10.1" height="1.2" fill="#7c7c7e"/><rect x="301.0" y="63.3" width="10.1" height="1.2" fill="#7c7c7e"/><rect x="301.0" y="64.4" width="10.1" height="1.2" fill="#656c81"/><rect x="301.0" y="65.5" width="10.1" height="1.2" fill="#7b7b7e"/><rect x="301.0" y="66.6" width="10.1" height="1.2" fill="#83827d"/><rect x="301.0" y="67.7" width="10.1" height="1.2" fill="#72747f"/><rect x="301.0" y="68.8" width="10.1" height="1.2" fill="#78787e"/><rect x="301.0" y="69.9" width="10.1" height="1.2" fill="#485483"/><rect x="301.0" y="71.0" width="10.1" height="1.2" fill="#586283"/><rect x="301.0" y="72.1" width="10.1" height="1.2" fill="#8b897b"/><rect x="301.0" y="73.2" width="10.1" height="1.2" fill="#515b83"/><rect x="301.0" y="74.3" width="10.1" height="1.2" fill="#7a7a7e"/><rect x="301.0" y="75.4" width="10.1" height="1.2" fill="#81807d"/><rect x="301.0" y="76.5" width="10.1" height="1.2" fill="#676d81"/><rect x="301.0" y="77.6" width="10.1" height="1.2" fill="#86857c"/><rect x="301.0" y="78.7" width="10.1" height="1.2" fill="#78787e"/><rect x="301.0" y="79.8" width="10.1" height="1.2" fill="#5c6583"/><rect x="301.0" y="81.0" width="10.1" height="1.2" fill="#636b82"/><rect x="301.0" y="82.1" width="10.1" height="1.2" fill="#4d5884"/><rect x="301.0" y="83.2" width="10.1" height="1.2" fill="#71737f"/><rect x="301.0" y="84.3" width="10.1" height="1.2" fill="#85847d"/><rect x="301.0" y="85.4" width="10.1" height="1.2" fill="#70737f"/><rect x="301.0" y="86.5" width="10.1" height="1.2" fill="#7b7b7e"/><rect x="301.0" y="87.6" width="10.1" height="1.2" fill="#bbb06d"/><rect x="301.0" y="88.7" width="10.1" height="1.2" fill="#b3aa71"/><rect x="301.0" y="89.8" width="10.1" height="1.2" fill="#b8ae6e"/><rect x="301.0" y="90.9" width="10.1" height="1.2" fill="#b7ad6f"/><rect x="301.0" y="92.0" width="10.1" height="1.2" fill="#b1a971"/><rect x="301.0" y="93.1" width="10.1" height="1.2" fill="#9b9778"/><rect x="301.0" y="94.2" width="10.1" height="1.2" fill="#a09c77"/><rect x="301.0" y="95.3" width="10.1" height="1.2" fill="#aca574"/><rect x="301.0" y="96.4" width="10.1" height="1.2" fill="#9a9679"/><rect x="301.0" y="97.5" width="10.1" height="1.2" fill="#918f7a"/><rect x="301.0" y="98.6" width="10.1" height="1.2" fill="#84847d"/><rect x="301.0" y="99.7" width="10.1" height="1.2" fill="#7e7e7e"/><rect x="301.0" y="100.8" width="10.1" height="1.2" fill="#a09b77"/><rect x="301.0" y="102.0" width="10.1" height="1.2" fill="#cabd67"/><rect x="301.0" y="103.1" width="10.1" height="1.2" fill="#c2b66a"/><rect x="301.0" y="104.2" width="10.1" height="1.2" fill="#6a6f81"/><rect x="301.0" y="105.3" width="10.1" height="1.2" fill="#7b7b7e"/><rect x="301.0" y="106.4" width="10.1" height="1.2" fill="#72747f"/><rect x="301.0" y="107.5" width="10.1" height="1.2" fill="#82827d"/><rect x="301.0" y="108.6" width="10.1" height="1.2" fill="#6c7080"/><rect x="301.0" y="109.7" width="10.1" height="1.2" fill="#7a7a7e"/><rect x="301.0" y="110.8" width="10.1" height="1.2" fill="#666d81"/><rect x="301.0" y="111.9" width="10.1" height="1.2" fill="#7c7c7e"/><rect x="301.0" y="113.0" width="10.1" height="1.2" fill="#5d6682"/><rect x="301.0" y="114.1" width="10.1" height="1.2" fill="#5d6682"/><rect x="301.0" y="115.2" width="10.1" height="1.2" fill="#6f7280"/><rect x="301.0" y="116.3" width="10.1" height="1.2" fill="#86857c"/><rect x="301.0" y="117.4" width="10.1" height="1.2" fill="#6a6f80"/><rect x="301.0" y="118.5" width="10.1" height="1.2" fill="#6c7080"/><rect x="301.0" y="119.6" width="10.1" height="1.2" fill="#5a6383"/><rect x="301.0" y="120.7" width="10.1" height="1.2" fill="#3e4c80"/><rect x="301.0" y="121.9" width="10.1" height="1.2" fill="#495584"/><rect x="301.0" y="123.0" width="10.1" height="1.2" fill="#4b5784"/><rect x="301.0" y="124.1" width="10.1" height="1.2" fill="#555f83"/><rect x="301.0" y="125.2" width="10.1" height="1.2" fill="#4d5984"/><rect x="301.0" y="126.3" width="10.1" height="1.2" fill="#7e7e7e"/><rect x="301.0" y="127.4" width="10.1" height="1.2" fill="#afa872"/><rect x="301.0" y="128.5" width="10.1" height="1.2" fill="#a9a376"/><rect x="301.0" y="129.6" width="10.1" height="1.2" fill="#9f9b78"/><rect x="301.0" y="130.7" width="10.1" height="1.2" fill="#a29d77"/><rect x="311.1" y="29.0" width="10.1" height="1.2" fill="#656c81"/><rect x="311.1" y="30.1" width="10.1" height="1.2" fill="#3f4d81"/><rect x="311.1" y="31.2" width="10.1" height="1.2" fill="#696e81"/><rect x="311.1" y="32.3" width="10.1" height="1.2" fill="#636a82"/><rect x="311.1" y="33.4" width="10.1" height="1.2" fill="#35457e"/><rect x="311.1" y="34.5" width="10.1" height="1.2" fill="#606882"/><rect x="311.1" y="35.6" width="10.1" height="1.2" fill="#414f81"/><rect x="311.1" y="36.7" width="10.1" height="1.2" fill="#80807e"/><rect x="311.1" y="37.8" width="10.1" height="1.2" fill="#6b7080"/><rect x="311.1" y="38.9" width="10.1" height="1.2" fill="#7a7a7e"/><rect x="311.1" y="40.1" width="10.1" height="1.2" fill="#425082"/><rect x="311.1" y="41.2" width="10.1" height="1.2" fill="#495584"/><rect x="311.1" y="42.3" width="10.1" height="1.2" fill="#6b7080"/><rect x="311.1" y="43.4" width="10.1" height="1.2" fill="#566083"/><rect x="311.1" y="44.5" width="10.1" height="1.2" fill="#3a497f"/><rect x="311.1" y="45.6" width="10.1" height="1.2" fill="#596283"/><rect x="311.1" y="46.7" width="10.1" height="1.2" fill="#686e81"/><rect x="311.1" y="47.8" width="10.1" height="1.2" fill="#495584"/><rect x="311.1" y="48.9" width="10.1" height="1.2" fill="#545e83"/><rect x="311.1" y="50.0" width="10.1" height="1.2" fill="#5e6782"/><rect x="311.1" y="51.1" width="10.1" height="1.2" fill="#586283"/><rect x="311.1" y="52.2" width="10.1" height="1.2" fill="#36467e"/><rect x="311.1" y="53.3" width="10.1" height="1.2" fill="#253671"/><rect x="311.1" y="54.4" width="10.1" height="1.2" fill="#21306a"/><rect x="311.1" y="55.5" width="10.1" height="1.2" fill="#283976"/><rect x="311.1" y="56.6" width="10.1" height="1.2" fill="#22316b"/><rect x="311.1" y="57.7" width="10.1" height="1.2" fill="#273874"/><rect x="311.1" y="58.8" width="10.1" height="1.2" fill="#22316b"/><rect x="311.1" y="60.0" width="10.1" height="1.2" fill="#24346e"/><rect x="311.1" y="61.1" width="10.1" height="1.2" fill="#22316b"/><rect x="311.1" y="62.2" width="10.1" height="1.2" fill="#23336d"/><rect x="311.1" y="63.3" width="10.1" height="1.2" fill="#33437d"/><rect x="311.1" y="64.4" width="10.1" height="1.2" fill="#2c3d7b"/><rect x="311.1" y="65.5" width="10.1" height="1.2" fill="#37477e"/><rect x="311.1" y="66.6" width="10.1" height="1.2" fill="#485584"/><rect x="311.1" y="67.7" width="10.1" height="1.2" fill="#35457d"/><rect x="311.1" y="68.8" width="10.1" height="1.2" fill="#404e81"/><rect x="311.1" y="69.9" width="10.1" height="1.2" fill="#39487f"/><rect x="311.1" y="71.0" width="10.1" height="1.2" fill="#414e81"/><rect x="311.1" y="72.1" width="10.1" height="1.2" fill="#5e6782"/><rect x="311.1" y="73.2" width="10.1" height="1.2" fill="#424f81"/><rect x="311.1" y="74.3" width="10.1" height="1.2" fill="#21306a"/><rect x="311.1" y="75.4" width="10.1" height="1.2" fill="#2b3d7a"/><rect x="311.1" y="76.5" width="10.1" height="1.2" fill="#22316b"/><rect x="311.1" y="77.6" width="10.1" height="1.2" fill="#38477e"/><rect x="311.1" y="78.7" width="10.1" height="1.2" fill="#424f81"/><rect x="311.1" y="79.8" width="10.1" height="1.2" fill="#283976"/><rect x="311.1" y="81.0" width="10.1" height="1.2" fill="#22316b"/><rect x="311.1" y="82.1" width="10.1" height="1.2" fill="#1f2d66"/><rect x="311.1" y="83.2" width="10.1" height="1.2" fill="#263773"/><rect x="311.1" y="84.3" width="10.1" height="1.2" fill="#33437d"/><rect x="311.1" y="85.4" width="10.1" height="1.2" fill="#2f407b"/><rect x="311.1" y="86.5" width="10.1" height="1.2" fill="#35457d"/><rect x="311.1" y="87.6" width="10.1" height="1.2" fill="#34447d"/><rect x="311.1" y="88.7" width="10.1" height="1.2" fill="#3e4c80"/><rect x="311.1" y="89.8" width="10.1" height="1.2" fill="#253570"/><rect x="311.1" y="90.9" width="10.1" height="1.2" fill="#3a497f"/><rect x="311.1" y="92.0" width="10.1" height="1.2" fill="#3b4a7f"/><rect x="311.1" y="93.1" width="10.1" height="1.2" fill="#23336e"/><rect x="311.1" y="94.2" width="10.1" height="1.2" fill="#2b3d7a"/><rect x="311.1" y="95.3" width="10.1" height="1.2" fill="#1e2c64"/><rect x="311.1" y="96.4" width="10.1" height="1.2" fill="#202f68"/><rect x="311.1" y="97.5" width="10.1" height="1.2" fill="#283a77"/><rect x="311.1" y="98.6" width="10.1" height="1.2" fill="#253571"/><rect x="311.1" y="99.7" width="10.1" height="1.2" fill="#253671"/><rect x="311.1" y="100.8" width="10.1" height="1.2" fill="#d1c363"/><rect x="311.1" y="102.0" width="10.1" height="1.2" fill="#cdbf65"/><rect x="311.1" y="103.1" width="10.1" height="1.2" fill="#d6c65f"/><rect x="311.1" y="104.2" width="10.1" height="1.2" fill="#b5ac6f"/><rect x="311.1" y="105.3" width="10.1" height="1.2" fill="#30417c"/><rect x="311.1" y="106.4" width="10.1" height="1.2" fill="#435182"/><rect x="311.1" y="107.5" width="10.1" height="1.2" fill="#3f4d80"/><rect x="311.1" y="108.6" width="10.1" height="1.2" fill="#2f407c"/><rect x="311.1" y="109.7" width="10.1" height="1.2" fill="#253672"/><rect x="311.1" y="110.8" width="10.1" height="1.2" fill="#2d3f7b"/><rect x="311.1" y="111.9" width="10.1" height="1.2" fill="#3a497f"/><rect x="311.1" y="113.0" width="10.1" height="1.2" fill="#33437d"/><rect x="311.1" y="114.1" width="10.1" height="1.2" fill="#2c3e7b"/><rect x="311.1" y="115.2" width="10.1" height="1.2" fill="#1e2c64"/><rect x="311.1" y="116.3" width="10.1" height="1.2" fill="#283976"/><rect x="311.1" y="117.4" width="10.1" height="1.2" fill="#24346f"/><rect x="311.1" y="118.5" width="10.1" height="1.2" fill="#293b79"/><rect x="311.1" y="119.6" width="10.1" height="1.2" fill="#435082"/><rect x="311.1" y="120.7" width="10.1" height="1.2" fill="#35457d"/><rect x="311.1" y="121.9" width="10.1" height="1.2" fill="#7a7a7e"/><rect x="311.1" y="123.0" width="10.1" height="1.2" fill="#566083"/><rect x="311.1" y="124.1" width="10.1" height="1.2" fill="#626a82"/><rect x="311.1" y="125.2" width="10.1" height="1.2" fill="#77777e"/><rect x="311.1" y="126.3" width="10.1" height="1.2" fill="#253570"/><rect x="311.1" y="127.4" width="10.1" height="1.2" fill="#39487f"/><rect x="311.1" y="128.5" width="10.1" height="1.2" fill="#87867c"/><rect x="311.1" y="129.6" width="10.1" height="1.2" fill="#7a7a7e"/><rect x="311.1" y="130.7" width="10.1" height="1.2" fill="#81817d"/><rect x="250.50" y="29.00" width="70.70" height="102.80" fill="none" stroke="#1a1a1a" stroke-width="0.8"/><rect x="250.50" y="138.00" width="70.70" height="13.70" fill="#2a2a2a"/><rect x="250.5" y="138.0" width="10.1" height="1.2" fill="#23326c"/><rect x="250.5" y="139.1" width="10.1" height="1.2" fill="#1e2c64"/><rect x="250.5" y="140.3" width="10.1" height="1.2" fill="#293b78"/><rect x="250.5" y="141.4" width="10.1" height="1.2" fill="#aba574"/><rect x="250.5" y="142.6" width="10.1" height="1.2" fill="#beb36b"/><rect x="250.5" y="143.7" width="10.1" height="1.2" fill="#94917a"/><rect x="250.5" y="144.8" width="10.1" height="1.2" fill="#93917a"/><rect x="250.5" y="146.0" width="10.1" height="1.2" fill="#a29d77"/><rect x="250.5" y="147.1" width="10.1" height="1.2" fill="#9e9a78"/><rect x="250.5" y="148.3" width="10.1" height="1.2" fill="#9f9a78"/><rect x="250.5" y="149.4" width="10.1" height="1.2" fill="#afa772"/><rect x="250.5" y="150.6" width="10.1" height="1.2" fill="#989579"/><rect x="260.6" y="138.0" width="10.1" height="1.2" fill="#475483"/><rect x="260.6" y="139.1" width="10.1" height="1.2" fill="#5f6782"/><rect x="260.6" y="140.3" width="10.1" height="1.2" fill="#636b82"/><rect x="260.6" y="141.4" width="10.1" height="1.2" fill="#9e9a78"/><rect x="260.6" y="142.6" width="10.1" height="1.2" fill="#aea773"/><rect x="260.6" y="143.7" width="10.1" height="1.2" fill="#989579"/><rect x="260.6" y="144.8" width="10.1" height="1.2" fill="#969379"/><rect x="260.6" y="146.0" width="10.1" height="1.2" fill="#aaa375"/><rect x="260.6" y="147.1" width="10.1" height="1.2" fill="#8b897b"/><rect x="260.6" y="148.3" width="10.1" height="1.2" fill="#9e9a78"/><rect x="260.6" y="149.4" width="10.1" height="1.2" fill="#a9a376"/><rect x="260.6" y="150.6" width="10.1" height="1.2" fill="#93907a"/><rect x="270.7" y="138.0" width="10.1" height="1.2" fill="#918f7a"/><rect x="270.7" y="139.1" width="10.1" height="1.2" fill="#9e9a78"/><rect x="270.7" y="140.3" width="10.1" height="1.2" fill="#9e9a78"/><rect x="270.7" y="141.4" width="10.1" height="1.2" fill="#7a7a7e"/><rect x="270.7" y="142.6" width="10.1" height="1.2" fill="#807f7e"/><rect x="270.7" y="143.7" width="10.1" height="1.2" fill="#72747f"/><rect x="270.7" y="144.8" width="10.1" height="1.2" fill="#676d81"/><rect x="270.7" y="146.0" width="10.1" height="1.2" fill="#84837d"/><rect x="270.7" y="147.1" width="10.1" height="1.2" fill="#6e7280"/><rect x="270.7" y="148.3" width="10.1" height="1.2" fill="#73757f"/><rect x="270.7" y="149.4" width="10.1" height="1.2" fill="#83837d"/><rect x="270.7" y="150.6" width="10.1" height="1.2" fill="#78787e"/><rect x="280.8" y="138.0" width="10.1" height="1.2" fill="#81807d"/><rect x="280.8" y="139.1" width="10.1" height="1.2" fill="#83827d"/><rect x="280.8" y="140.3" width="10.1" height="1.2" fill="#a09c77"/><rect x="280.8" y="141.4" width="10.1" height="1.2" fill="#79797e"/><rect x="280.8" y="142.6" width="10.1" height="1.2" fill="#9b9778"/><rect x="280.8" y="143.7" width="10.1" height="1.2" fill="#72747f"/><rect x="280.8" y="144.8" width="10.1" height="1.2" fill="#83827d"/><rect x="280.8" y="146.0" width="10.1" height="1.2" fill="#8d8b7b"/><rect x="280.8" y="147.1" width="10.1" height="1.2" fill="#525d83"/><rect x="280.8" y="148.3" width="10.1" height="1.2" fill="#84847d"/><rect x="280.8" y="149.4" width="10.1" height="1.2" fill="#8e8c7b"/><rect x="280.8" y="150.6" width="10.1" height="1.2" fill="#79797e"/><rect x="290.9" y="138.0" width="10.1" height="1.2" fill="#a39e77"/><rect x="290.9" y="139.1" width="10.1" height="1.2" fill="#a7a176"/><rect x="290.9" y="140.3" width="10.1" height="1.2" fill="#bfb36b"/><rect x="290.9" y="141.4" width="10.1" height="1.2" fill="#9d9978"/><rect x="290.9" y="142.6" width="10.1" height="1.2" fill="#918e7a"/><rect x="290.9" y="143.7" width="10.1" height="1.2" fill="#908e7a"/><rect x="290.9" y="144.8" width="10.1" height="1.2" fill="#7a7a7e"/><rect x="290.9" y="146.0" width="10.1" height="1.2" fill="#9e9a78"/><rect x="290.9" y="147.1" width="10.1" height="1.2" fill="#7d7d7e"/><rect x="290.9" y="148.3" width="10.1" height="1.2" fill="#7a7a7e"/><rect x="290.9" y="149.4" width="10.1" height="1.2" fill="#8e8c7b"/><rect x="290.9" y="150.6" width="10.1" height="1.2" fill="#969379"/><rect x="301.0" y="138.0" width="10.1" height="1.2" fill="#8c8b7b"/><rect x="301.0" y="139.1" width="10.1" height="1.2" fill="#a6a076"/><rect x="301.0" y="140.3" width="10.1" height="1.2" fill="#9f9a78"/><rect x="301.0" y="141.4" width="10.1" height="1.2" fill="#566083"/><rect x="301.0" y="142.6" width="10.1" height="1.2" fill="#79797e"/><rect x="301.0" y="143.7" width="10.1" height="1.2" fill="#79797e"/><rect x="301.0" y="144.8" width="10.1" height="1.2" fill="#515c83"/><rect x="301.0" y="146.0" width="10.1" height="1.2" fill="#7d7d7e"/><rect x="301.0" y="147.1" width="10.1" height="1.2" fill="#404e81"/><rect x="301.0" y="148.3" width="10.1" height="1.2" fill="#4e5984"/><rect x="301.0" y="149.4" width="10.1" height="1.2" fill="#7c7c7e"/><rect x="301.0" y="150.6" width="10.1" height="1.2" fill="#5a6483"/><rect x="311.1" y="138.0" width="10.1" height="1.2" fill="#596383"/><rect x="311.1" y="139.1" width="10.1" height="1.2" fill="#696e81"/><rect x="311.1" y="140.3" width="10.1" height="1.2" fill="#78787e"/><rect x="311.1" y="141.4" width="10.1" height="1.2" fill="#82817d"/><rect x="311.1" y="142.6" width="10.1" height="1.2" fill="#7d7d7e"/><rect x="311.1" y="143.7" width="10.1" height="1.2" fill="#2d3f7b"/><rect x="311.1" y="144.8" width="10.1" height="1.2" fill="#253570"/><rect x="311.1" y="146.0" width="10.1" height="1.2" fill="#39487f"/><rect x="311.1" y="147.1" width="10.1" height="1.2" fill="#263774"/><rect x="311.1" y="148.3" width="10.1" height="1.2" fill="#283976"/><rect x="311.1" y="149.4" width="10.1" height="1.2" fill="#37467e"/><rect x="311.1" y="150.6" width="10.1" height="1.2" fill="#2b3d7a"/><rect x="250.50" y="138.00" width="70.70" height="13.70" fill="none" stroke="#1a1a1a" stroke-width="0.8"/><rect x="250.50" y="157.00" width="70.70" height="38.60" fill="#2a2a2a"/><rect x="250.5" y="157.0" width="10.1" height="1.2" fill="#9c9878"/><rect x="250.5" y="158.1" width="10.1" height="1.2" fill="#8c8b7b"/><rect x="250.5" y="159.2" width="10.1" height="1.2" fill="#a39e77"/><rect x="250.5" y="160.3" width="10.1" height="1.2" fill="#1e2c64"/><rect x="250.5" y="161.4" width="10.1" height="1.2" fill="#2d3e7b"/><rect x="250.5" y="162.5" width="10.1" height="1.2" fill="#263773"/><rect x="250.5" y="163.6" width="10.1" height="1.2" fill="#2f407b"/><rect x="250.5" y="164.7" width="10.1" height="1.2" fill="#263773"/><rect x="250.5" y="165.8" width="10.1" height="1.2" fill="#202f69"/><rect x="250.5" y="166.9" width="10.1" height="1.2" fill="#23336d"/><rect x="250.5" y="168.0" width="10.1" height="1.2" fill="#263672"/><rect x="250.5" y="169.1" width="10.1" height="1.2" fill="#2f407b"/><rect x="250.5" y="170.2" width="10.1" height="1.2" fill="#23336d"/><rect x="250.5" y="171.3" width="10.1" height="1.2" fill="#23336d"/><rect x="250.5" y="172.4" width="10.1" height="1.2" fill="#1e2c64"/><rect x="250.5" y="173.5" width="10.1" height="1.2" fill="#414f81"/><rect x="250.5" y="174.6" width="10.1" height="1.2" fill="#24346f"/><rect x="250.5" y="175.7" width="10.1" height="1.2" fill="#293a77"/><rect x="250.5" y="176.9" width="10.1" height="1.2" fill="#22316b"/><rect x="250.5" y="178.0" width="10.1" height="1.2" fill="#3c4b80"/><rect x="250.5" y="179.1" width="10.1" height="1.2" fill="#2a3c7a"/><rect x="250.5" y="180.2" width="10.1" height="1.2" fill="#31427c"/><rect x="250.5" y="181.3" width="10.1" height="1.2" fill="#8d8c7b"/><rect x="250.5" y="182.4" width="10.1" height="1.2" fill="#7e7e7e"/><rect x="250.5" y="183.5" width="10.1" height="1.2" fill="#76777e"/><rect x="250.5" y="184.6" width="10.1" height="1.2" fill="#78787e"/><rect x="250.5" y="185.7" width="10.1" height="1.2" fill="#70737f"/><rect x="250.5" y="186.8" width="10.1" height="1.2" fill="#455282"/><rect x="250.5" y="187.9" width="10.1" height="1.2" fill="#4a5684"/><rect x="250.5" y="189.0" width="10.1" height="1.2" fill="#596283"/><rect x="250.5" y="190.1" width="10.1" height="1.2" fill="#4a5684"/><rect x="250.5" y="191.2" width="10.1" height="1.2" fill="#586283"/><rect x="250.5" y="192.3" width="10.1" height="1.2" fill="#283976"/><rect x="250.5" y="193.4" width="10.1" height="1.2" fill="#505b83"/><rect x="250.5" y="194.5" width="10.1" height="1.2" fill="#86857c"/><rect x="260.6" y="157.0" width="10.1" height="1.2" fill="#676d81"/><rect x="260.6" y="158.1" width="10.1" height="1.2" fill="#74767f"/><rect x="260.6" y="159.2" width="10.1" height="1.2" fill="#78787e"/><rect x="260.6" y="160.3" width="10.1" height="1.2" fill="#79797e"/><rect x="260.6" y="161.4" width="10.1" height="1.2" fill="#93907a"/><rect x="260.6" y="162.5" width="10.1" height="1.2" fill="#86857c"/><rect x="260.6" y="163.6" width="10.1" height="1.2" fill="#8b897b"/><rect x="260.6" y="164.7" width="10.1" height="1.2" fill="#a29d77"/><rect x="260.6" y="165.8" width="10.1" height="1.2" fill="#8f8d7b"/><rect x="260.6" y="166.9" width="10.1" height="1.2" fill="#a19c77"/><rect x="260.6" y="168.0" width="10.1" height="1.2" fill="#9c9878"/><rect x="260.6" y="169.1" width="10.1" height="1.2" fill="#9c9878"/><rect x="260.6" y="170.2" width="10.1" height="1.2" fill="#8a897c"/><rect x="260.6" y="171.3" width="10.1" height="1.2" fill="#a09b77"/><rect x="260.6" y="172.4" width="10.1" height="1.2" fill="#79797e"/><rect x="260.6" y="173.5" width="10.1" height="1.2" fill="#b1a971"/><rect x="260.6" y="174.6" width="10.1" height="1.2" fill="#9a9679"/><rect x="260.6" y="175.7" width="10.1" height="1.2" fill="#9e9978"/><rect x="260.6" y="176.9" width="10.1" height="1.2" fill="#87857c"/><rect x="260.6" y="178.0" width="10.1" height="1.2" fill="#a7a176"/><rect x="260.6" y="179.1" width="10.1" height="1.2" fill="#9c9878"/><rect x="260.6" y="180.2" width="10.1" height="1.2" fill="#8b8a7b"/><rect x="260.6" y="181.3" width="10.1" height="1.2" fill="#81817d"/><rect x="260.6" y="182.4" width="10.1" height="1.2" fill="#7c7c7e"/><rect x="260.6" y="183.5" width="10.1" height="1.2" fill="#b6ac6f"/><rect x="260.6" y="184.6" width="10.1" height="1.2" fill="#aca574"/><rect x="260.6" y="185.7" width="10.1" height="1.2" fill="#b1a971"/><rect x="260.6" y="186.8" width="10.1" height="1.2" fill="#b3aa71"/><rect x="260.6" y="187.9" width="10.1" height="1.2" fill="#b1a972"/><rect x="260.6" y="189.0" width="10.1" height="1.2" fill="#bcb16c"/><rect x="260.6" y="190.1" width="10.1" height="1.2" fill="#a9a276"/><rect x="260.6" y="191.2" width="10.1" height="1.2" fill="#c3b769"/><rect x="260.6" y="192.3" width="10.1" height="1.2" fill="#94917a"/><rect x="260.6" y="193.4" width="10.1" height="1.2" fill="#b0a872"/><rect x="260.6" y="194.5" width="10.1" height="1.2" fill="#a7a176"/><rect x="270.7" y="157.0" width="10.1" height="1.2" fill="#656c81"/><rect x="270.7" y="158.1" width="10.1" height="1.2" fill="#424f81"/><rect x="270.7" y="159.2" width="10.1" height="1.2" fill="#576183"/><rect x="270.7" y="160.3" width="10.1" height="1.2" fill="#979479"/><rect x="270.7" y="161.4" width="10.1" height="1.2" fill="#b9af6d"/><rect x="270.7" y="162.5" width="10.1" height="1.2" fill="#a7a176"/><rect x="270.7" y="163.6" width="10.1" height="1.2" fill="#aea673"/><rect x="270.7" y="164.7" width="10.1" height="1.2" fill="#aea773"/><rect x="270.7" y="165.8" width="10.1" height="1.2" fill="#979479"/><rect x="270.7" y="166.9" width="10.1" height="1.2" fill="#918f7a"/><rect x="270.7" y="168.0" width="10.1" height="1.2" fill="#aea773"/><rect x="270.7" y="169.1" width="10.1" height="1.2" fill="#ada574"/><rect x="270.7" y="170.2" width="10.1" height="1.2" fill="#989579"/><rect x="270.7" y="171.3" width="10.1" height="1.2" fill="#92907a"/><rect x="270.7" y="172.4" width="10.1" height="1.2" fill="#a39e77"/><rect x="270.7" y="173.5" width="10.1" height="1.2" fill="#a9a376"/><rect x="270.7" y="174.6" width="10.1" height="1.2" fill="#b5ac6f"/><rect x="270.7" y="175.7" width="10.1" height="1.2" fill="#aaa475"/><rect x="270.7" y="176.9" width="10.1" height="1.2" fill="#b1a972"/><rect x="270.7" y="178.0" width="10.1" height="1.2" fill="#a6a176"/><rect x="270.7" y="179.1" width="10.1" height="1.2" fill="#a19c77"/><rect x="270.7" y="180.2" width="10.1" height="1.2" fill="#6b6f80"/><rect x="270.7" y="181.3" width="10.1" height="1.2" fill="#6a6f81"/><rect x="270.7" y="182.4" width="10.1" height="1.2" fill="#5d6682"/><rect x="270.7" y="183.5" width="10.1" height="1.2" fill="#616982"/><rect x="270.7" y="184.6" width="10.1" height="1.2" fill="#5c6583"/><rect x="270.7" y="185.7" width="10.1" height="1.2" fill="#70737f"/><rect x="270.7" y="186.8" width="10.1" height="1.2" fill="#70737f"/><rect x="270.7" y="187.9" width="10.1" height="1.2" fill="#72747f"/><rect x="270.7" y="189.0" width="10.1" height="1.2" fill="#76777e"/><rect x="270.7" y="190.1" width="10.1" height="1.2" fill="#8c8a7b"/><rect x="270.7" y="191.2" width="10.1" height="1.2" fill="#a59f77"/><rect x="270.7" y="192.3" width="10.1" height="1.2" fill="#6d7180"/><rect x="270.7" y="193.4" width="10.1" height="1.2" fill="#7b7b7e"/><rect x="270.7" y="194.5" width="10.1" height="1.2" fill="#87867c"/><rect x="280.8" y="157.0" width="10.1" height="1.2" fill="#aaa375"/><rect x="280.8" y="158.1" width="10.1" height="1.2" fill="#aba475"/><rect x="280.8" y="159.2" width="10.1" height="1.2" fill="#a29d77"/><rect x="280.8" y="160.3" width="10.1" height="1.2" fill="#93907a"/><rect x="280.8" y="161.4" width="10.1" height="1.2" fill="#a09c77"/><rect x="280.8" y="162.5" width="10.1" height="1.2" fill="#989579"/><rect x="280.8" y="163.6" width="10.1" height="1.2" fill="#a29d77"/><rect x="280.8" y="164.7" width="10.1" height="1.2" fill="#aaa475"/><rect x="280.8" y="165.8" width="10.1" height="1.2" fill="#a09c77"/><rect x="280.8" y="166.9" width="10.1" height="1.2" fill="#b2aa71"/><rect x="280.8" y="168.0" width="10.1" height="1.2" fill="#9d9978"/><rect x="280.8" y="169.1" width="10.1" height="1.2" fill="#b3ab70"/><rect x="280.8" y="170.2" width="10.1" height="1.2" fill="#a49f77"/><rect x="280.8" y="171.3" width="10.1" height="1.2" fill="#a19d77"/><rect x="280.8" y="172.4" width="10.1" height="1.2" fill="#83837d"/><rect x="280.8" y="173.5" width="10.1" height="1.2" fill="#c2b76a"/><rect x="280.8" y="174.6" width="10.1" height="1.2" fill="#9f9b78"/><rect x="280.8" y="175.7" width="10.1" height="1.2" fill="#a39e77"/><rect x="280.8" y="176.9" width="10.1" height="1.2" fill="#908e7a"/><rect x="280.8" y="178.0" width="10.1" height="1.2" fill="#b0a872"/><rect x="280.8" y="179.1" width="10.1" height="1.2" fill="#a8a276"/><rect x="280.8" y="180.2" width="10.1" height="1.2" fill="#9c9878"/><rect x="280.8" y="181.3" width="10.1" height="1.2" fill="#82827d"/><rect x="280.8" y="182.4" width="10.1" height="1.2" fill="#8a897c"/><rect x="280.8" y="183.5" width="10.1" height="1.2" fill="#999679"/><rect x="280.8" y="184.6" width="10.1" height="1.2" fill="#686e81"/><rect x="280.8" y="185.7" width="10.1" height="1.2" fill="#8d8b7b"/><rect x="280.8" y="186.8" width="10.1" height="1.2" fill="#686e81"/><rect x="280.8" y="187.9" width="10.1" height="1.2" fill="#79797e"/><rect x="280.8" y="189.0" width="10.1" height="1.2" fill="#84837d"/><rect x="280.8" y="190.1" width="10.1" height="1.2" fill="#a39e77"/><rect x="280.8" y="191.2" width="10.1" height="1.2" fill="#a49f77"/><rect x="280.8" y="192.3" width="10.1" height="1.2" fill="#6b7080"/><rect x="280.8" y="193.4" width="10.1" height="1.2" fill="#807f7e"/><rect x="280.8" y="194.5" width="10.1" height="1.2" fill="#7a7a7e"/><rect x="290.9" y="157.0" width="10.1" height="1.2" fill="#b4ab70"/><rect x="290.9" y="158.1" width="10.1" height="1.2" fill="#979479"/><rect x="290.9" y="159.2" width="10.1" height="1.2" fill="#a49f77"/><rect x="290.9" y="160.3" width="10.1" height="1.2" fill="#8e8c7b"/><rect x="290.9" y="161.4" width="10.1" height="1.2" fill="#9f9b78"/><rect x="290.9" y="162.5" width="10.1" height="1.2" fill="#979479"/><rect x="290.9" y="163.6" width="10.1" height="1.2" fill="#a09b77"/><rect x="290.9" y="164.7" width="10.1" height="1.2" fill="#bbb16d"/><rect x="290.9" y="165.8" width="10.1" height="1.2" fill="#a9a376"/><rect x="290.9" y="166.9" width="10.1" height="1.2" fill="#9f9b78"/><rect x="290.9" y="168.0" width="10.1" height="1.2" fill="#8e8c7b"/><rect x="290.9" y="169.1" width="10.1" height="1.2" fill="#aaa375"/><rect x="290.9" y="170.2" width="10.1" height="1.2" fill="#9b9778"/><rect x="290.9" y="171.3" width="10.1" height="1.2" fill="#9d9978"/><rect x="290.9" y="172.4" width="10.1" height="1.2" fill="#989579"/><rect x="290.9" y="173.5" width="10.1" height="1.2" fill="#b3aa71"/><rect x="290.9" y="174.6" width="10.1" height="1.2" fill="#aba475"/><rect x="290.9" y="175.7" width="10.1" height="1.2" fill="#aaa375"/><rect x="290.9" y="176.9" width="10.1" height="1.2" fill="#979479"/><rect x="290.9" y="178.0" width="10.1" height="1.2" fill="#a59f77"/><rect x="290.9" y="179.1" width="10.1" height="1.2" fill="#979479"/><rect x="290.9" y="180.2" width="10.1" height="1.2" fill="#b5ac6f"/><rect x="290.9" y="181.3" width="10.1" height="1.2" fill="#9c9878"/><rect x="290.9" y="182.4" width="10.1" height="1.2" fill="#a09b77"/><rect x="290.9" y="183.5" width="10.1" height="1.2" fill="#9f9a78"/><rect x="290.9" y="184.6" width="10.1" height="1.2" fill="#80807e"/><rect x="290.9" y="185.7" width="10.1" height="1.2" fill="#a6a076"/><rect x="290.9" y="186.8" width="10.1" height="1.2" fill="#9c9878"/><rect x="290.9" y="187.9" width="10.1" height="1.2" fill="#979479"/><rect x="290.9" y="189.0" width="10.1" height="1.2" fill="#aca574"/><rect x="290.9" y="190.1" width="10.1" height="1.2" fill="#8b897b"/><rect x="290.9" y="191.2" width="10.1" height="1.2" fill="#ada674"/><rect x="290.9" y="192.3" width="10.1" height="1.2" fill="#82817d"/><rect x="290.9" y="193.4" width="10.1" height="1.2" fill="#a6a076"/><rect x="290.9" y="194.5" width="10.1" height="1.2" fill="#88877c"/><rect x="301.0" y="157.0" width="10.1" height="1.2" fill="#76777e"/><rect x="301.0" y="158.1" width="10.1" height="1.2" fill="#576183"/><rect x="301.0" y="159.2" width="10.1" height="1.2" fill="#7c7c7e"/><rect x="301.0" y="160.3" width="10.1" height="1.2" fill="#4e5a84"/><rect x="301.0" y="161.4" width="10.1" height="1.2" fill="#6f7280"/><rect x="301.0" y="162.5" width="10.1" height="1.2" fill="#74767f"/><rect x="301.0" y="163.6" width="10.1" height="1.2" fill="#646b82"/><rect x="301.0" y="164.7" width="10.1" height="1.2" fill="#616982"/><rect x="301.0" y="165.8" width="10.1" height="1.2" fill="#4c5884"/><rect x="301.0" y="166.9" width="10.1" height="1.2" fill="#505b83"/><rect x="301.0" y="168.0" width="10.1" height="1.2" fill="#616a82"/><rect x="301.0" y="169.1" width="10.1" height="1.2" fill="#4b5784"/><rect x="301.0" y="170.2" width="10.1" height="1.2" fill="#535d83"/><rect x="301.0" y="171.3" width="10.1" height="1.2" fill="#596383"/><rect x="301.0" y="172.4" width="10.1" height="1.2" fill="#566083"/><rect x="301.0" y="173.5" width="10.1" height="1.2" fill="#77777e"/><rect x="301.0" y="174.6" width="10.1" height="1.2" fill="#6f7380"/><rect x="301.0" y="175.7" width="10.1" height="1.2" fill="#999679"/><rect x="301.0" y="176.9" width="10.1" height="1.2" fill="#92907a"/><rect x="301.0" y="178.0" width="10.1" height="1.2" fill="#969379"/><rect x="301.0" y="179.1" width="10.1" height="1.2" fill="#959279"/><rect x="301.0" y="180.2" width="10.1" height="1.2" fill="#a6a076"/><rect x="301.0" y="181.3" width="10.1" height="1.2" fill="#b7ad6f"/><rect x="301.0" y="182.4" width="10.1" height="1.2" fill="#7a7a7e"/><rect x="301.0" y="183.5" width="10.1" height="1.2" fill="#6f7280"/><rect x="301.0" y="184.6" width="10.1" height="1.2" fill="#70737f"/><rect x="301.0" y="185.7" width="10.1" height="1.2" fill="#78787e"/><rect x="301.0" y="186.8" width="10.1" height="1.2" fill="#6c7080"/><rect x="301.0" y="187.9" width="10.1" height="1.2" fill="#686e81"/><rect x="301.0" y="189.0" width="10.1" height="1.2" fill="#72747f"/><rect x="301.0" y="190.1" width="10.1" height="1.2" fill="#586283"/><rect x="301.0" y="191.2" width="10.1" height="1.2" fill="#606882"/><rect x="301.0" y="192.3" width="10.1" height="1.2" fill="#38477e"/><rect x="301.0" y="193.4" width="10.1" height="1.2" fill="#636b82"/><rect x="301.0" y="194.5" width="10.1" height="1.2" fill="#616a82"/><rect x="311.1" y="157.0" width="10.1" height="1.2" fill="#32437d"/><rect x="311.1" y="158.1" width="10.1" height="1.2" fill="#202f68"/><rect x="311.1" y="159.2" width="10.1" height="1.2" fill="#34447d"/><rect x="311.1" y="160.3" width="10.1" height="1.2" fill="#1e2c64"/><rect x="311.1" y="161.4" width="10.1" height="1.2" fill="#32437d"/><rect x="311.1" y="162.5" width="10.1" height="1.2" fill="#22326c"/><rect x="311.1" y="163.6" width="10.1" height="1.2" fill="#2e407b"/><rect x="311.1" y="164.7" width="10.1" height="1.2" fill="#2d3f7b"/><rect x="311.1" y="165.8" width="10.1" height="1.2" fill="#23336e"/><rect x="311.1" y="166.9" width="10.1" height="1.2" fill="#273774"/><rect x="311.1" y="168.0" width="10.1" height="1.2" fill="#253570"/><rect x="311.1" y="169.1" width="10.1" height="1.2" fill="#2e3f7b"/><rect x="311.1" y="170.2" width="10.1" height="1.2" fill="#263672"/><rect x="311.1" y="171.3" width="10.1" height="1.2" fill="#1f2d65"/><rect x="311.1" y="172.4" width="10.1" height="1.2" fill="#3d4b80"/><rect x="311.1" y="173.5" width="10.1" height="1.2" fill="#485483"/><rect x="311.1" y="174.6" width="10.1" height="1.2" fill="#263773"/><rect x="311.1" y="175.7" width="10.1" height="1.2" fill="#253571"/><rect x="311.1" y="176.9" width="10.1" height="1.2" fill="#273874"/><rect x="311.1" y="178.0" width="10.1" height="1.2" fill="#36467e"/><rect x="311.1" y="179.1" width="10.1" height="1.2" fill="#293b78"/><rect x="311.1" y="180.2" width="10.1" height="1.2" fill="#31417c"/><rect x="311.1" y="181.3" width="10.1" height="1.2" fill="#656c82"/><rect x="311.1" y="182.4" width="10.1" height="1.2" fill="#23326d"/><rect x="311.1" y="183.5" width="10.1" height="1.2" fill="#2c3e7b"/><rect x="311.1" y="184.6" width="10.1" height="1.2" fill="#243570"/><rect x="311.1" y="185.7" width="10.1" height="1.2" fill="#2c3e7b"/><rect x="311.1" y="186.8" width="10.1" height="1.2" fill="#22316b"/><rect x="311.1" y="187.9" width="10.1" height="1.2" fill="#1f2d65"/><rect x="311.1" y="189.0" width="10.1" height="1.2" fill="#293b79"/><rect x="311.1" y="190.1" width="10.1" height="1.2" fill="#213069"/><rect x="311.1" y="191.2" width="10.1" height="1.2" fill="#3b4a7f"/><rect x="311.1" y="192.3" width="10.1" height="1.2" fill="#1e2c64"/><rect x="311.1" y="193.4" width="10.1" height="1.2" fill="#23336d"/><rect x="311.1" y="194.5" width="10.1" height="1.2" fill="#253571"/><rect x="250.50" y="157.00" width="70.70" height="38.60" fill="none" stroke="#1a1a1a" stroke-width="0.8"/><rect x="250.50" y="202.80" width="70.70" height="9.90" fill="#2a2a2a"/><rect x="250.5" y="202.8" width="10.1" height="1.2" fill="#c7bb68"/><rect x="250.5" y="203.9" width="10.1" height="1.2" fill="#c0b46b"/><rect x="250.5" y="205.0" width="10.1" height="1.2" fill="#c2b66a"/><rect x="250.5" y="206.1" width="10.1" height="1.2" fill="#7b7b7e"/><rect x="250.5" y="207.2" width="10.1" height="1.2" fill="#596283"/><rect x="250.5" y="208.3" width="10.1" height="1.2" fill="#6d7180"/><rect x="250.5" y="209.4" width="10.1" height="1.2" fill="#1e2d65"/><rect x="250.5" y="210.5" width="10.1" height="1.2" fill="#293a77"/><rect x="250.5" y="211.6" width="10.1" height="1.2" fill="#1e2c64"/><rect x="260.6" y="202.8" width="10.1" height="1.2" fill="#cbbd66"/><rect x="260.6" y="203.9" width="10.1" height="1.2" fill="#c4b869"/><rect x="260.6" y="205.0" width="10.1" height="1.2" fill="#bdb26c"/><rect x="260.6" y="206.1" width="10.1" height="1.2" fill="#a39e77"/><rect x="260.6" y="207.2" width="10.1" height="1.2" fill="#8d8b7b"/><rect x="260.6" y="208.3" width="10.1" height="1.2" fill="#959379"/><rect x="260.6" y="209.4" width="10.1" height="1.2" fill="#87867c"/><rect x="260.6" y="210.5" width="10.1" height="1.2" fill="#87867c"/><rect x="260.6" y="211.6" width="10.1" height="1.2" fill="#73757f"/><rect x="270.7" y="202.8" width="10.1" height="1.2" fill="#696f81"/><rect x="270.7" y="203.9" width="10.1" height="1.2" fill="#6f7280"/><rect x="270.7" y="205.0" width="10.1" height="1.2" fill="#70737f"/><rect x="270.7" y="206.1" width="10.1" height="1.2" fill="#87867c"/><rect x="270.7" y="207.2" width="10.1" height="1.2" fill="#79797e"/><rect x="270.7" y="208.3" width="10.1" height="1.2" fill="#88867c"/><rect x="270.7" y="209.4" width="10.1" height="1.2" fill="#918e7a"/><rect x="270.7" y="210.5" width="10.1" height="1.2" fill="#a09c77"/><rect x="270.7" y="211.6" width="10.1" height="1.2" fill="#88877c"/><rect x="280.8" y="202.8" width="10.1" height="1.2" fill="#84837d"/><rect x="280.8" y="203.9" width="10.1" height="1.2" fill="#85857d"/><rect x="280.8" y="205.0" width="10.1" height="1.2" fill="#88877c"/><rect x="280.8" y="206.1" width="10.1" height="1.2" fill="#79797e"/><rect x="280.8" y="207.2" width="10.1" height="1.2" fill="#7b7b7e"/><rect x="280.8" y="208.3" width="10.1" height="1.2" fill="#86857c"/><rect x="280.8" y="209.4" width="10.1" height="1.2" fill="#969379"/><rect x="280.8" y="210.5" width="10.1" height="1.2" fill="#92907a"/><rect x="280.8" y="211.6" width="10.1" height="1.2" fill="#8c8a7b"/><rect x="290.9" y="202.8" width="10.1" height="1.2" fill="#84837d"/><rect x="290.9" y="203.9" width="10.1" height="1.2" fill="#7d7d7e"/><rect x="290.9" y="205.0" width="10.1" height="1.2" fill="#79797e"/><rect x="290.9" y="206.1" width="10.1" height="1.2" fill="#7e7e7e"/><rect x="290.9" y="207.2" width="10.1" height="1.2" fill="#7b7b7e"/><rect x="290.9" y="208.3" width="10.1" height="1.2" fill="#9e9a78"/><rect x="290.9" y="209.4" width="10.1" height="1.2" fill="#aba475"/><rect x="290.9" y="210.5" width="10.1" height="1.2" fill="#aea773"/><rect x="290.9" y="211.6" width="10.1" height="1.2" fill="#a49f77"/><rect x="301.0" y="202.8" width="10.1" height="1.2" fill="#7b7b7e"/><rect x="301.0" y="203.9" width="10.1" height="1.2" fill="#7c7c7e"/><rect x="301.0" y="205.0" width="10.1" height="1.2" fill="#88877c"/><rect x="301.0" y="206.1" width="10.1" height="1.2" fill="#7f7f7e"/><rect x="301.0" y="207.2" width="10.1" height="1.2" fill="#89887c"/><rect x="301.0" y="208.3" width="10.1" height="1.2" fill="#76777e"/><rect x="301.0" y="209.4" width="10.1" height="1.2" fill="#959279"/><rect x="301.0" y="210.5" width="10.1" height="1.2" fill="#aaa475"/><rect x="301.0" y="211.6" width="10.1" height="1.2" fill="#a19d77"/><rect x="311.1" y="202.8" width="10.1" height="1.2" fill="#34447d"/><rect x="311.1" y="203.9" width="10.1" height="1.2" fill="#293b78"/><rect x="311.1" y="205.0" width="10.1" height="1.2" fill="#2b3d7a"/><rect x="311.1" y="206.1" width="10.1" height="1.2" fill="#36457e"/><rect x="311.1" y="207.2" width="10.1" height="1.2" fill="#24346e"/><rect x="311.1" y="208.3" width="10.1" height="1.2" fill="#212f69"/><rect x="311.1" y="209.4" width="10.1" height="1.2" fill="#84837d"/><rect x="311.1" y="210.5" width="10.1" height="1.2" fill="#908e7a"/><rect x="311.1" y="211.6" width="10.1" height="1.2" fill="#7e7e7e"/><rect x="250.50" y="202.80" width="70.70" height="9.90" fill="none" stroke="#1a1a1a" stroke-width="0.8"/><rect x="250.50" y="221.00" width="70.70" height="21.00" fill="#2a2a2a"/><rect x="250.5" y="221.0" width="10.1" height="1.2" fill="#293a77"/><rect x="250.5" y="222.1" width="10.1" height="1.2" fill="#273874"/><rect x="250.5" y="223.2" width="10.1" height="1.2" fill="#273875"/><rect x="250.5" y="224.3" width="10.1" height="1.2" fill="#afa773"/><rect x="250.5" y="225.4" width="10.1" height="1.2" fill="#bbb06d"/><rect x="250.5" y="226.5" width="10.1" height="1.2" fill="#9c9878"/><rect x="250.5" y="227.6" width="10.1" height="1.2" fill="#b8ae6e"/><rect x="250.5" y="228.7" width="10.1" height="1.2" fill="#b7ad6e"/><rect x="250.5" y="229.8" width="10.1" height="1.2" fill="#a8a276"/><rect x="250.5" y="230.9" width="10.1" height="1.2" fill="#969379"/><rect x="250.5" y="232.1" width="10.1" height="1.2" fill="#989579"/><rect x="250.5" y="233.2" width="10.1" height="1.2" fill="#b6ac6f"/><rect x="250.5" y="234.3" width="10.1" height="1.2" fill="#72747f"/><rect x="250.5" y="235.4" width="10.1" height="1.2" fill="#81817d"/><rect x="250.5" y="236.5" width="10.1" height="1.2" fill="#b5ac70"/><rect x="250.5" y="237.6" width="10.1" height="1.2" fill="#aea773"/><rect x="250.5" y="238.7" width="10.1" height="1.2" fill="#beb36b"/><rect x="250.5" y="239.8" width="10.1" height="1.2" fill="#bab06d"/><rect x="250.5" y="240.9" width="10.1" height="1.2" fill="#c6ba68"/><rect x="260.6" y="221.0" width="10.1" height="1.2" fill="#4a5684"/><rect x="260.6" y="222.1" width="10.1" height="1.2" fill="#475483"/><rect x="260.6" y="223.2" width="10.1" height="1.2" fill="#435082"/><rect x="260.6" y="224.3" width="10.1" height="1.2" fill="#9e9a78"/><rect x="260.6" y="225.4" width="10.1" height="1.2" fill="#a39e77"/><rect x="260.6" y="226.5" width="10.1" height="1.2" fill="#a9a375"/><rect x="260.6" y="227.6" width="10.1" height="1.2" fill="#aea773"/><rect x="260.6" y="228.7" width="10.1" height="1.2" fill="#9e9a78"/><rect x="260.6" y="229.8" width="10.1" height="1.2" fill="#9e9a78"/><rect x="260.6" y="230.9" width="10.1" height="1.2" fill="#a8a276"/><rect x="260.6" y="232.1" width="10.1" height="1.2" fill="#aaa375"/><rect x="260.6" y="233.2" width="10.1" height="1.2" fill="#aca574"/><rect x="260.6" y="234.3" width="10.1" height="1.2" fill="#989579"/><rect x="260.6" y="235.4" width="10.1" height="1.2" fill="#b6ad6f"/><rect x="260.6" y="236.5" width="10.1" height="1.2" fill="#918f7a"/><rect x="260.6" y="237.6" width="10.1" height="1.2" fill="#9e9a78"/><rect x="260.6" y="238.7" width="10.1" height="1.2" fill="#a19c77"/><rect x="260.6" y="239.8" width="10.1" height="1.2" fill="#9f9b78"/><rect x="260.6" y="240.9" width="10.1" height="1.2" fill="#a8a276"/><rect x="270.7" y="221.0" width="10.1" height="1.2" fill="#78787e"/><rect x="270.7" y="222.1" width="10.1" height="1.2" fill="#81817d"/><rect x="270.7" y="223.2" width="10.1" height="1.2" fill="#74757f"/><rect x="270.7" y="224.3" width="10.1" height="1.2" fill="#7d7d7e"/><rect x="270.7" y="225.4" width="10.1" height="1.2" fill="#89877c"/><rect x="270.7" y="226.5" width="10.1" height="1.2" fill="#636b82"/><rect x="270.7" y="227.6" width="10.1" height="1.2" fill="#7a7a7e"/><rect x="270.7" y="228.7" width="10.1" height="1.2" fill="#636b82"/><rect x="270.7" y="229.8" width="10.1" height="1.2" fill="#71737f"/><rect x="270.7" y="230.9" width="10.1" height="1.2" fill="#79797e"/><rect x="270.7" y="232.1" width="10.1" height="1.2" fill="#6b6f80"/><rect x="270.7" y="233.2" width="10.1" height="1.2" fill="#76777e"/><rect x="270.7" y="234.3" width="10.1" height="1.2" fill="#424f81"/><rect x="270.7" y="235.4" width="10.1" height="1.2" fill="#4f5a84"/><rect x="270.7" y="236.5" width="10.1" height="1.2" fill="#5b6483"/><rect x="270.7" y="237.6" width="10.1" height="1.2" fill="#485584"/><rect x="270.7" y="238.7" width="10.1" height="1.2" fill="#636a82"/><rect x="270.7" y="239.8" width="10.1" height="1.2" fill="#586183"/><rect x="270.7" y="240.9" width="10.1" height="1.2" fill="#5d6682"/><rect x="280.8" y="221.0" width="10.1" height="1.2" fill="#676d81"/><rect x="280.8" y="222.1" width="10.1" height="1.2" fill="#8f8d7b"/><rect x="280.8" y="223.2" width="10.1" height="1.2" fill="#72747f"/><rect x="280.8" y="224.3" width="10.1" height="1.2" fill="#7b7b7e"/><rect x="280.8" y="225.4" width="10.1" height="1.2" fill="#8f8d7b"/><rect x="280.8" y="226.5" width="10.1" height="1.2" fill="#6d7180"/><rect x="280.8" y="227.6" width="10.1" height="1.2" fill="#9a9778"/><rect x="280.8" y="228.7" width="10.1" height="1.2" fill="#79797e"/><rect x="280.8" y="229.8" width="10.1" height="1.2" fill="#94917a"/><rect x="280.8" y="230.9" width="10.1" height="1.2" fill="#a09b77"/><rect x="280.8" y="232.1" width="10.1" height="1.2" fill="#74757f"/><rect x="280.8" y="233.2" width="10.1" height="1.2" fill="#86857c"/><rect x="280.8" y="234.3" width="10.1" height="1.2" fill="#525d83"/><rect x="280.8" y="235.4" width="10.1" height="1.2" fill="#555f83"/><rect x="280.8" y="236.5" width="10.1" height="1.2" fill="#435182"/><rect x="280.8" y="237.6" width="10.1" height="1.2" fill="#646b82"/><rect x="280.8" y="238.7" width="10.1" height="1.2" fill="#7d7d7e"/><rect x="280.8" y="239.8" width="10.1" height="1.2" fill="#74757f"/><rect x="280.8" y="240.9" width="10.1" height="1.2" fill="#78787e"/><rect x="290.9" y="221.0" width="10.1" height="1.2" fill="#7a7a7e"/><rect x="290.9" y="222.1" width="10.1" height="1.2" fill="#85847d"/><rect x="290.9" y="223.2" width="10.1" height="1.2" fill="#7a7a7e"/><rect x="290.9" y="224.3" width="10.1" height="1.2" fill="#9a9778"/><rect x="290.9" y="225.4" width="10.1" height="1.2" fill="#a9a375"/><rect x="290.9" y="226.5" width="10.1" height="1.2" fill="#82817d"/><rect x="290.9" y="227.6" width="10.1" height="1.2" fill="#908e7a"/><rect x="290.9" y="228.7" width="10.1" height="1.2" fill="#999679"/><rect x="290.9" y="229.8" width="10.1" height="1.2" fill="#8b8a7b"/><rect x="290.9" y="230.9" width="10.1" height="1.2" fill="#ada574"/><rect x="290.9" y="232.1" width="10.1" height="1.2" fill="#82817d"/><rect x="290.9" y="233.2" width="10.1" height="1.2" fill="#a7a176"/><rect x="290.9" y="234.3" width="10.1" height="1.2" fill="#6c7080"/><rect x="290.9" y="235.4" width="10.1" height="1.2" fill="#88877c"/><rect x="290.9" y="236.5" width="10.1" height="1.2" fill="#7b7b7e"/><rect x="290.9" y="237.6" width="10.1" height="1.2" fill="#616982"/><rect x="290.9" y="238.7" width="10.1" height="1.2" fill="#89887c"/><rect x="290.9" y="239.8" width="10.1" height="1.2" fill="#70737f"/><rect x="290.9" y="240.9" width="10.1" height="1.2" fill="#686e81"/><rect x="301.0" y="221.0" width="10.1" height="1.2" fill="#bfb46b"/><rect x="301.0" y="222.1" width="10.1" height="1.2" fill="#c9bc67"/><rect x="301.0" y="223.2" width="10.1" height="1.2" fill="#bfb46b"/><rect x="301.0" y="224.3" width="10.1" height="1.2" fill="#5f6782"/><rect x="301.0" y="225.4" width="10.1" height="1.2" fill="#7d7d7e"/><rect x="301.0" y="226.5" width="10.1" height="1.2" fill="#606982"/><rect x="301.0" y="227.6" width="10.1" height="1.2" fill="#75767f"/><rect x="301.0" y="228.7" width="10.1" height="1.2" fill="#686e81"/><rect x="301.0" y="229.8" width="10.1" height="1.2" fill="#636a82"/><rect x="301.0" y="230.9" width="10.1" height="1.2" fill="#7d7d7e"/><rect x="301.0" y="232.1" width="10.1" height="1.2" fill="#79797e"/><rect x="301.0" y="233.2" width="10.1" height="1.2" fill="#7d7d7e"/><rect x="301.0" y="234.3" width="10.1" height="1.2" fill="#89887c"/><rect x="301.0" y="235.4" width="10.1" height="1.2" fill="#989579"/><rect x="301.0" y="236.5" width="10.1" height="1.2" fill="#8c8a7b"/><rect x="301.0" y="237.6" width="10.1" height="1.2" fill="#8a887c"/><rect x="301.0" y="238.7" width="10.1" height="1.2" fill="#9e9a78"/><rect x="301.0" y="239.8" width="10.1" height="1.2" fill="#84847d"/><rect x="301.0" y="240.9" width="10.1" height="1.2" fill="#928f7a"/><rect x="311.1" y="221.0" width="10.1" height="1.2" fill="#75767e"/><rect x="311.1" y="222.1" width="10.1" height="1.2" fill="#85857d"/><rect x="311.1" y="223.2" width="10.1" height="1.2" fill="#80807e"/><rect x="311.1" y="224.3" width="10.1" height="1.2" fill="#2a3c7a"/><rect x="311.1" y="225.4" width="10.1" height="1.2" fill="#3a497f"/><rect x="311.1" y="226.5" width="10.1" height="1.2" fill="#1e2c64"/><rect x="311.1" y="227.6" width="10.1" height="1.2" fill="#33447d"/><rect x="311.1" y="228.7" width="10.1" height="1.2" fill="#213069"/><rect x="311.1" y="229.8" width="10.1" height="1.2" fill="#283976"/><rect x="311.1" y="230.9" width="10.1" height="1.2" fill="#3c4b80"/><rect x="311.1" y="232.1" width="10.1" height="1.2" fill="#1f2d66"/><rect x="311.1" y="233.2" width="10.1" height="1.2" fill="#253672"/><rect x="311.1" y="234.3" width="10.1" height="1.2" fill="#7a7a7e"/><rect x="311.1" y="235.4" width="10.1" height="1.2" fill="#999679"/><rect x="311.1" y="236.5" width="10.1" height="1.2" fill="#81817d"/><rect x="311.1" y="237.6" width="10.1" height="1.2" fill="#39487f"/><rect x="311.1" y="238.7" width="10.1" height="1.2" fill="#586183"/><rect x="311.1" y="239.8" width="10.1" height="1.2" fill="#38477e"/><rect x="311.1" y="240.9" width="10.1" height="1.2" fill="#495584"/><rect x="250.50" y="221.00" width="70.70" height="21.00" fill="none" stroke="#1a1a1a" stroke-width="0.8"/><rect x="250.50" y="248.80" width="70.70" height="13.00" fill="#2a2a2a"/><rect x="250.5" y="248.8" width="10.1" height="1.2" fill="#aca574"/><rect x="250.5" y="249.9" width="10.1" height="1.2" fill="#a6a176"/><rect x="250.5" y="251.0" width="10.1" height="1.2" fill="#afa773"/><rect x="250.5" y="252.1" width="10.1" height="1.2" fill="#c5b969"/><rect x="250.5" y="253.1" width="10.1" height="1.2" fill="#a19c77"/><rect x="250.5" y="254.2" width="10.1" height="1.2" fill="#9d9978"/><rect x="250.5" y="255.3" width="10.1" height="1.2" fill="#5c6582"/><rect x="250.5" y="256.4" width="10.1" height="1.2" fill="#686e81"/><rect x="250.5" y="257.5" width="10.1" height="1.2" fill="#273875"/><rect x="250.5" y="258.6" width="10.1" height="1.2" fill="#243570"/><rect x="250.5" y="259.6" width="10.1" height="1.2" fill="#2d3e7b"/><rect x="250.5" y="260.7" width="10.1" height="1.2" fill="#253570"/><rect x="260.6" y="248.8" width="10.1" height="1.2" fill="#afa772"/><rect x="260.6" y="249.9" width="10.1" height="1.2" fill="#a49f77"/><rect x="260.6" y="251.0" width="10.1" height="1.2" fill="#aba574"/><rect x="260.6" y="252.1" width="10.1" height="1.2" fill="#b5ab70"/><rect x="260.6" y="253.1" width="10.1" height="1.2" fill="#8b8a7b"/><rect x="260.6" y="254.2" width="10.1" height="1.2" fill="#a39e77"/><rect x="260.6" y="255.3" width="10.1" height="1.2" fill="#273874"/><rect x="260.6" y="256.4" width="10.1" height="1.2" fill="#2a3b79"/><rect x="260.6" y="257.5" width="10.1" height="1.2" fill="#a09b77"/><rect x="260.6" y="258.6" width="10.1" height="1.2" fill="#8f8d7b"/><rect x="260.6" y="259.6" width="10.1" height="1.2" fill="#a49f77"/><rect x="260.6" y="260.7" width="10.1" height="1.2" fill="#9d9978"/><rect x="270.7" y="248.8" width="10.1" height="1.2" fill="#7a7a7e"/><rect x="270.7" y="249.9" width="10.1" height="1.2" fill="#7e7e7e"/><rect x="270.7" y="251.0" width="10.1" height="1.2" fill="#6d7180"/><rect x="270.7" y="252.1" width="10.1" height="1.2" fill="#85847d"/><rect x="270.7" y="253.1" width="10.1" height="1.2" fill="#78787e"/><rect x="270.7" y="254.2" width="10.1" height="1.2" fill="#71737f"/><rect x="270.7" y="255.3" width="10.1" height="1.2" fill="#666d81"/><rect x="270.7" y="256.4" width="10.1" height="1.2" fill="#8f8d7b"/><rect x="270.7" y="257.5" width="10.1" height="1.2" fill="#a29d77"/><rect x="270.7" y="258.6" width="10.1" height="1.2" fill="#7e7e7e"/><rect x="270.7" y="259.6" width="10.1" height="1.2" fill="#969379"/><rect x="270.7" y="260.7" width="10.1" height="1.2" fill="#7e7e7e"/><rect x="280.8" y="248.8" width="10.1" height="1.2" fill="#7a7a7e"/><rect x="280.8" y="249.9" width="10.1" height="1.2" fill="#7e7e7e"/><rect x="280.8" y="251.0" width="10.1" height="1.2" fill="#8a897c"/><rect x="280.8" y="252.1" width="10.1" height="1.2" fill="#7d7d7e"/><rect x="280.8" y="253.1" width="10.1" height="1.2" fill="#84837d"/><rect x="280.8" y="254.2" width="10.1" height="1.2" fill="#71747f"/><rect x="280.8" y="255.3" width="10.1" height="1.2" fill="#87867c"/><rect x="280.8" y="256.4" width="10.1" height="1.2" fill="#a19c77"/><rect x="280.8" y="257.5" width="10.1" height="1.2" fill="#999679"/><rect x="280.8" y="258.6" width="10.1" height="1.2" fill="#7e7e7e"/><rect x="280.8" y="259.6" width="10.1" height="1.2" fill="#999679"/><rect x="280.8" y="260.7" width="10.1" height="1.2" fill="#81807d"/><rect x="290.9" y="248.8" width="10.1" height="1.2" fill="#8b8a7b"/><rect x="290.9" y="249.9" width="10.1" height="1.2" fill="#8d8c7b"/><rect x="290.9" y="251.0" width="10.1" height="1.2" fill="#a19c77"/><rect x="290.9" y="252.1" width="10.1" height="1.2" fill="#a5a076"/><rect x="290.9" y="253.1" width="10.1" height="1.2" fill="#999679"/><rect x="290.9" y="254.2" width="10.1" height="1.2" fill="#b0a872"/><rect x="290.9" y="255.3" width="10.1" height="1.2" fill="#9a9778"/><rect x="290.9" y="256.4" width="10.1" height="1.2" fill="#a7a176"/><rect x="290.9" y="257.5" width="10.1" height="1.2" fill="#aba475"/><rect x="290.9" y="258.6" width="10.1" height="1.2" fill="#a49f77"/><rect x="290.9" y="259.6" width="10.1" height="1.2" fill="#aca574"/><rect x="290.9" y="260.7" width="10.1" height="1.2" fill="#a09c77"/><rect x="301.0" y="248.8" width="10.1" height="1.2" fill="#9b9778"/><rect x="301.0" y="249.9" width="10.1" height="1.2" fill="#85847d"/><rect x="301.0" y="251.0" width="10.1" height="1.2" fill="#87857c"/><rect x="301.0" y="252.1" width="10.1" height="1.2" fill="#9d9978"/><rect x="301.0" y="253.1" width="10.1" height="1.2" fill="#7c7c7e"/><rect x="301.0" y="254.2" width="10.1" height="1.2" fill="#7b7b7e"/><rect x="301.0" y="255.3" width="10.1" height="1.2" fill="#a29d77"/><rect x="301.0" y="256.4" width="10.1" height="1.2" fill="#a9a376"/><rect x="301.0" y="257.5" width="10.1" height="1.2" fill="#a9a376"/><rect x="301.0" y="258.6" width="10.1" height="1.2" fill="#a49f77"/><rect x="301.0" y="259.6" width="10.1" height="1.2" fill="#aca574"/><rect x="301.0" y="260.7" width="10.1" height="1.2" fill="#94917a"/><rect x="311.1" y="248.8" width="10.1" height="1.2" fill="#2e3f7b"/><rect x="311.1" y="249.9" width="10.1" height="1.2" fill="#263672"/><rect x="311.1" y="251.0" width="10.1" height="1.2" fill="#37467e"/><rect x="311.1" y="252.1" width="10.1" height="1.2" fill="#35457e"/><rect x="311.1" y="253.1" width="10.1" height="1.2" fill="#283976"/><rect x="311.1" y="254.2" width="10.1" height="1.2" fill="#24346f"/><rect x="311.1" y="255.3" width="10.1" height="1.2" fill="#1e2c64"/><rect x="311.1" y="256.4" width="10.1" height="1.2" fill="#81817d"/><rect x="311.1" y="257.5" width="10.1" height="1.2" fill="#283976"/><rect x="311.1" y="258.6" width="10.1" height="1.2" fill="#283a77"/><rect x="311.1" y="259.6" width="10.1" height="1.2" fill="#283976"/><rect x="311.1" y="260.7" width="10.1" height="1.2" fill="#263672"/><rect x="250.50" y="248.80" width="70.70" height="13.00" fill="none" stroke="#1a1a1a" stroke-width="0.8"/><rect x="323.60" y="29.00" width="70.20" height="102.80" fill="#2a2a2a"/><rect x="323.6" y="29.0" width="10.0" height="1.2" fill="#a59f77"/><rect x="323.6" y="30.1" width="10.0" height="1.2" fill="#a7a276"/><rect x="323.6" y="31.2" width="10.0" height="1.2" fill="#a09c77"/><rect x="323.6" y="32.3" width="10.0" height="1.2" fill="#9c9878"/><rect x="323.6" y="33.4" width="10.0" height="1.2" fill="#6f7280"/><rect x="323.6" y="34.5" width="10.0" height="1.2" fill="#9e9a78"/><rect x="323.6" y="35.6" width="10.0" height="1.2" fill="#8f8d7b"/><rect x="323.6" y="36.7" width="10.0" height="1.2" fill="#918f7a"/><rect x="323.6" y="37.8" width="10.0" height="1.2" fill="#87867c"/><rect x="323.6" y="38.9" width="10.0" height="1.2" fill="#a9a375"/><rect x="323.6" y="40.1" width="10.0" height="1.2" fill="#a59f77"/><rect x="323.6" y="41.2" width="10.0" height="1.2" fill="#b9af6e"/><rect x="323.6" y="42.3" width="10.0" height="1.2" fill="#a09b77"/><rect x="323.6" y="43.4" width="10.0" height="1.2" fill="#a09b77"/><rect x="323.6" y="44.5" width="10.0" height="1.2" fill="#485483"/><rect x="323.6" y="45.6" width="10.0" height="1.2" fill="#979479"/><rect x="323.6" y="46.7" width="10.0" height="1.2" fill="#8c8b7b"/><rect x="323.6" y="47.8" width="10.0" height="1.2" fill="#445182"/><rect x="323.6" y="48.9" width="10.0" height="1.2" fill="#78787e"/><rect x="323.6" y="50.0" width="10.0" height="1.2" fill="#b4ab70"/><rect x="323.6" y="51.1" width="10.0" height="1.2" fill="#bcb16c"/><rect x="323.6" y="52.2" width="10.0" height="1.2" fill="#a7a176"/><rect x="323.6" y="53.3" width="10.0" height="1.2" fill="#afa772"/><rect x="323.6" y="54.4" width="10.0" height="1.2" fill="#7a7a7e"/><rect x="323.6" y="55.5" width="10.0" height="1.2" fill="#baaf6d"/><rect x="323.6" y="56.6" width="10.0" height="1.2" fill="#c2b76a"/><rect x="323.6" y="57.7" width="10.0" height="1.2" fill="#baaf6d"/><rect x="323.6" y="58.8" width="10.0" height="1.2" fill="#999679"/><rect x="323.6" y="60.0" width="10.0" height="1.2" fill="#959279"/><rect x="323.6" y="61.1" width="10.0" height="1.2" fill="#8a897c"/><rect x="323.6" y="62.2" width="10.0" height="1.2" fill="#92907a"/><rect x="323.6" y="63.3" width="10.0" height="1.2" fill="#aba475"/><rect x="323.6" y="64.4" width="10.0" height="1.2" fill="#3d4b80"/><rect x="323.6" y="65.5" width="10.0" height="1.2" fill="#8e8c7b"/><rect x="323.6" y="66.6" width="10.0" height="1.2" fill="#a49f77"/><rect x="323.6" y="67.7" width="10.0" height="1.2" fill="#918f7a"/><rect x="323.6" y="68.8" width="10.0" height="1.2" fill="#aaa475"/><rect x="323.6" y="69.9" width="10.0" height="1.2" fill="#9d9978"/><rect x="323.6" y="71.0" width="10.0" height="1.2" fill="#8e8c7b"/><rect x="323.6" y="72.1" width="10.0" height="1.2" fill="#8c8a7b"/><rect x="323.6" y="73.2" width="10.0" height="1.2" fill="#bfb46b"/><rect x="323.6" y="74.3" width="10.0" height="1.2" fill="#a5a076"/><rect x="323.6" y="75.4" width="10.0" height="1.2" fill="#a5a077"/><rect x="323.6" y="76.5" width="10.0" height="1.2" fill="#34447d"/><rect x="323.6" y="77.6" width="10.0" height="1.2" fill="#3b4a7f"/><rect x="323.6" y="78.7" width="10.0" height="1.2" fill="#36467e"/><rect x="323.6" y="79.8" width="10.0" height="1.2" fill="#5b6483"/><rect x="323.6" y="81.0" width="10.0" height="1.2" fill="#4c5884"/><rect x="323.6" y="82.1" width="10.0" height="1.2" fill="#465383"/><rect x="323.6" y="83.2" width="10.0" height="1.2" fill="#515c83"/><rect x="323.6" y="84.3" width="10.0" height="1.2" fill="#9c9878"/><rect x="323.6" y="85.4" width="10.0" height="1.2" fill="#79797e"/><rect x="323.6" y="86.5" width="10.0" height="1.2" fill="#9e9978"/><rect x="323.6" y="87.6" width="10.0" height="1.2" fill="#a9a376"/><rect x="323.6" y="88.7" width="10.0" height="1.2" fill="#ada674"/><rect x="323.6" y="89.8" width="10.0" height="1.2" fill="#989579"/><rect x="323.6" y="90.9" width="10.0" height="1.2" fill="#979479"/><rect x="323.6" y="92.0" width="10.0" height="1.2" fill="#85847d"/><rect x="323.6" y="93.1" width="10.0" height="1.2" fill="#94917a"/><rect x="323.6" y="94.2" width="10.0" height="1.2" fill="#7c7c7e"/><rect x="323.6" y="95.3" width="10.0" height="1.2" fill="#85847d"/><rect x="323.6" y="96.4" width="10.0" height="1.2" fill="#78787e"/><rect x="323.6" y="97.5" width="10.0" height="1.2" fill="#5b6483"/><rect x="323.6" y="98.6" width="10.0" height="1.2" fill="#5d6682"/><rect x="323.6" y="99.7" width="10.0" height="1.2" fill="#525c83"/><rect x="323.6" y="100.8" width="10.0" height="1.2" fill="#6c7080"/><rect x="323.6" y="102.0" width="10.0" height="1.2" fill="#475483"/><rect x="323.6" y="103.1" width="10.0" height="1.2" fill="#555f83"/><rect x="323.6" y="104.2" width="10.0" height="1.2" fill="#aca574"/><rect x="323.6" y="105.3" width="10.0" height="1.2" fill="#aea773"/><rect x="323.6" y="106.4" width="10.0" height="1.2" fill="#bbb16d"/><rect x="323.6" y="107.5" width="10.0" height="1.2" fill="#74767f"/><rect x="323.6" y="108.6" width="10.0" height="1.2" fill="#707380"/><rect x="323.6" y="109.7" width="10.0" height="1.2" fill="#32437d"/><rect x="323.6" y="110.8" width="10.0" height="1.2" fill="#4a5684"/><rect x="323.6" y="111.9" width="10.0" height="1.2" fill="#38477e"/><rect x="323.6" y="113.0" width="10.0" height="1.2" fill="#22316b"/><rect x="323.6" y="114.1" width="10.0" height="1.2" fill="#2d3f7b"/><rect x="323.6" y="115.2" width="10.0" height="1.2" fill="#30417c"/><rect x="323.6" y="116.3" width="10.0" height="1.2" fill="#616982"/><rect x="323.6" y="117.4" width="10.0" height="1.2" fill="#6b7080"/><rect x="323.6" y="118.5" width="10.0" height="1.2" fill="#696e81"/><rect x="323.6" y="119.6" width="10.0" height="1.2" fill="#76767e"/><rect x="323.6" y="120.7" width="10.0" height="1.2" fill="#7b7b7e"/><rect x="323.6" y="121.9" width="10.0" height="1.2" fill="#8a887c"/><rect x="323.6" y="123.0" width="10.0" height="1.2" fill="#82827d"/><rect x="323.6" y="124.1" width="10.0" height="1.2" fill="#a9a375"/><rect x="323.6" y="125.2" width="10.0" height="1.2" fill="#999679"/><rect x="323.6" y="126.3" width="10.0" height="1.2" fill="#36467e"/><rect x="323.6" y="127.4" width="10.0" height="1.2" fill="#2e407b"/><rect x="323.6" y="128.5" width="10.0" height="1.2" fill="#3e4c80"/><rect x="323.6" y="129.6" width="10.0" height="1.2" fill="#9e9a78"/><rect x="323.6" y="130.7" width="10.0" height="1.2" fill="#9a9679"/><rect x="333.6" y="29.0" width="10.0" height="1.2" fill="#79797e"/><rect x="333.6" y="30.1" width="10.0" height="1.2" fill="#5c6582"/><rect x="333.6" y="31.2" width="10.0" height="1.2" fill="#535d83"/><rect x="333.6" y="32.3" width="10.0" height="1.2" fill="#5f6882"/><rect x="333.6" y="33.4" width="10.0" height="1.2" fill="#5b6483"/><rect x="333.6" y="34.5" width="10.0" height="1.2" fill="#5d6682"/><rect x="333.6" y="35.6" width="10.0" height="1.2" fill="#5f6782"/><rect x="333.6" y="36.7" width="10.0" height="1.2" fill="#78787e"/><rect x="333.6" y="37.8" width="10.0" height="1.2" fill="#6e7280"/><rect x="333.6" y="38.9" width="10.0" height="1.2" fill="#3c4b80"/><rect x="333.6" y="40.1" width="10.0" height="1.2" fill="#3a497f"/><rect x="333.6" y="41.2" width="10.0" height="1.2" fill="#475383"/><rect x="333.6" y="42.3" width="10.0" height="1.2" fill="#6a6f80"/><rect x="333.6" y="43.4" width="10.0" height="1.2" fill="#73757f"/><rect x="333.6" y="44.5" width="10.0" height="1.2" fill="#76777e"/><rect x="333.6" y="45.6" width="10.0" height="1.2" fill="#7e7e7e"/><rect x="333.6" y="46.7" width="10.0" height="1.2" fill="#a19c77"/><rect x="333.6" y="47.8" width="10.0" height="1.2" fill="#7d7d7e"/><rect x="333.6" y="48.9" width="10.0" height="1.2" fill="#9e9a78"/><rect x="333.6" y="50.0" width="10.0" height="1.2" fill="#aca574"/><rect x="333.6" y="51.1" width="10.0" height="1.2" fill="#aca574"/><rect x="333.6" y="52.2" width="10.0" height="1.2" fill="#4b5684"/><rect x="333.6" y="53.3" width="10.0" height="1.2" fill="#6b7080"/><rect x="333.6" y="54.4" width="10.0" height="1.2" fill="#7b7b7e"/><rect x="333.6" y="55.5" width="10.0" height="1.2" fill="#586283"/><rect x="333.6" y="56.6" width="10.0" height="1.2" fill="#646b82"/><rect x="333.6" y="57.7" width="10.0" height="1.2" fill="#6a6f81"/><rect x="333.6" y="58.8" width="10.0" height="1.2" fill="#4a5684"/><rect x="333.6" y="60.0" width="10.0" height="1.2" fill="#505b83"/><rect x="333.6" y="61.1" width="10.0" height="1.2" fill="#566083"/><rect x="333.6" y="62.2" width="10.0" height="1.2" fill="#616982"/><rect x="333.6" y="63.3" width="10.0" height="1.2" fill="#7a7a7e"/><rect x="333.6" y="64.4" width="10.0" height="1.2" fill="#5e6782"/><rect x="333.6" y="65.5" width="10.0" height="1.2" fill="#71737f"/><rect x="333.6" y="66.6" width="10.0" height="1.2" fill="#77777e"/><rect x="333.6" y="67.7" width="10.0" height="1.2" fill="#79797e"/><rect x="333.6" y="68.8" width="10.0" height="1.2" fill="#83827d"/><rect x="333.6" y="69.9" width="10.0" height="1.2" fill="#35457d"/><rect x="333.6" y="71.0" width="10.0" height="1.2" fill="#626a82"/><rect x="333.6" y="72.1" width="10.0" height="1.2" fill="#7c7c7e"/><rect x="333.6" y="73.2" width="10.0" height="1.2" fill="#79797e"/><rect x="333.6" y="74.3" width="10.0" height="1.2" fill="#93907a"/><rect x="333.6" y="75.4" width="10.0" height="1.2" fill="#6a6f81"/><rect x="333.6" y="76.5" width="10.0" height="1.2" fill="#3b4a7f"/><rect x="333.6" y="77.6" width="10.0" height="1.2" fill="#31427c"/><rect x="333.6" y="78.7" width="10.0" height="1.2" fill="#3c4b80"/><rect x="333.6" y="79.8" width="10.0" height="1.2" fill="#414e81"/><rect x="333.6" y="81.0" width="10.0" height="1.2" fill="#33437d"/><rect x="333.6" y="82.1" width="10.0" height="1.2" fill="#86857c"/><rect x="333.6" y="83.2" width="10.0" height="1.2" fill="#81807d"/><rect x="333.6" y="84.3" width="10.0" height="1.2" fill="#696e81"/><rect x="333.6" y="85.4" width="10.0" height="1.2" fill="#6e7180"/><rect x="333.6" y="86.5" width="10.0" height="1.2" fill="#6d7180"/><rect x="333.6" y="87.6" width="10.0" height="1.2" fill="#7c7c7e"/><rect x="333.6" y="88.7" width="10.0" height="1.2" fill="#6e7280"/><rect x="333.6" y="89.8" width="10.0" height="1.2" fill="#8c8a7b"/><rect x="333.6" y="90.9" width="10.0" height="1.2" fill="#83837d"/><rect x="333.6" y="92.0" width="10.0" height="1.2" fill="#80807e"/><rect x="333.6" y="93.1" width="10.0" height="1.2" fill="#908e7a"/><rect x="333.6" y="94.2" width="10.0" height="1.2" fill="#6e7280"/><rect x="333.6" y="95.3" width="10.0" height="1.2" fill="#79797e"/><rect x="333.6" y="96.4" width="10.0" height="1.2" fill="#2d3f7b"/><rect x="333.6" y="97.5" width="10.0" height="1.2" fill="#253671"/><rect x="333.6" y="98.6" width="10.0" height="1.2" fill="#293a77"/><rect x="333.6" y="99.7" width="10.0" height="1.2" fill="#77777e"/><rect x="333.6" y="100.8" width="10.0" height="1.2" fill="#77777e"/><rect x="333.6" y="102.0" width="10.0" height="1.2" fill="#7a7a7e"/><rect x="333.6" y="103.1" width="10.0" height="1.2" fill="#908e7a"/><rect x="333.6" y="104.2" width="10.0" height="1.2" fill="#c0b56b"/><rect x="333.6" y="105.3" width="10.0" height="1.2" fill="#a9a376"/><rect x="333.6" y="106.4" width="10.0" height="1.2" fill="#beb36c"/><rect x="333.6" y="107.5" width="10.0" height="1.2" fill="#263773"/><rect x="333.6" y="108.6" width="10.0" height="1.2" fill="#273875"/><rect x="333.6" y="109.7" width="10.0" height="1.2" fill="#1e2c64"/><rect x="333.6" y="110.8" width="10.0" height="1.2" fill="#2b3d7a"/><rect x="333.6" y="111.9" width="10.0" height="1.2" fill="#636b82"/><rect x="333.6" y="113.0" width="10.0" height="1.2" fill="#39487f"/><rect x="333.6" y="114.1" width="10.0" height="1.2" fill="#465383"/><rect x="333.6" y="115.2" width="10.0" height="1.2" fill="#525d83"/><rect x="333.6" y="116.3" width="10.0" height="1.2" fill="#4b5784"/><rect x="333.6" y="117.4" width="10.0" height="1.2" fill="#37477e"/><rect x="333.6" y="118.5" width="10.0" height="1.2" fill="#33437d"/><rect x="333.6" y="119.6" width="10.0" height="1.2" fill="#7f7f7e"/><rect x="333.6" y="120.7" width="10.0" height="1.2" fill="#74767f"/><rect x="333.6" y="121.9" width="10.0" height="1.2" fill="#81817d"/><rect x="333.6" y="123.0" width="10.0" height="1.2" fill="#7b7b7e"/><rect x="333.6" y="124.1" width="10.0" height="1.2" fill="#34447d"/><rect x="333.6" y="125.2" width="10.0" height="1.2" fill="#36467e"/><rect x="333.6" y="126.3" width="10.0" height="1.2" fill="#36467e"/><rect x="333.6" y="127.4" width="10.0" height="1.2" fill="#414f81"/><rect x="333.6" y="128.5" width="10.0" height="1.2" fill="#7f7f7e"/><rect x="333.6" y="129.6" width="10.0" height="1.2" fill="#89887c"/><rect x="333.6" y="130.7" width="10.0" height="1.2" fill="#75767e"/><rect x="343.7" y="29.0" width="10.0" height="1.2" fill="#ada674"/><rect x="343.7" y="30.1" width="10.0" height="1.2" fill="#aba475"/><rect x="343.7" y="31.2" width="10.0" height="1.2" fill="#b0a872"/><rect x="343.7" y="32.3" width="10.0" height="1.2" fill="#ada674"/><rect x="343.7" y="33.4" width="10.0" height="1.2" fill="#a09c77"/><rect x="343.7" y="34.5" width="10.0" height="1.2" fill="#9b9878"/><rect x="343.7" y="35.6" width="10.0" height="1.2" fill="#a7a276"/><rect x="343.7" y="36.7" width="10.0" height="1.2" fill="#aea773"/><rect x="343.7" y="37.8" width="10.0" height="1.2" fill="#73757f"/><rect x="343.7" y="38.9" width="10.0" height="1.2" fill="#7a7a7e"/><rect x="343.7" y="40.1" width="10.0" height="1.2" fill="#7e7e7e"/><rect x="343.7" y="41.2" width="10.0" height="1.2" fill="#73757f"/><rect x="343.7" y="42.3" width="10.0" height="1.2" fill="#85847d"/><rect x="343.7" y="43.4" width="10.0" height="1.2" fill="#94917a"/><rect x="343.7" y="44.5" width="10.0" height="1.2" fill="#79797e"/><rect x="343.7" y="45.6" width="10.0" height="1.2" fill="#908e7a"/><rect x="343.7" y="46.7" width="10.0" height="1.2" fill="#8d8b7b"/><rect x="343.7" y="47.8" width="10.0" height="1.2" fill="#7b7b7e"/><rect x="343.7" y="48.9" width="10.0" height="1.2" fill="#b0a872"/><rect x="343.7" y="50.0" width="10.0" height="1.2" fill="#a6a076"/><rect x="343.7" y="51.1" width="10.0" height="1.2" fill="#a7a276"/><rect x="343.7" y="52.2" width="10.0" height="1.2" fill="#9a9778"/><rect x="343.7" y="53.3" width="10.0" height="1.2" fill="#aaa375"/><rect x="343.7" y="54.4" width="10.0" height="1.2" fill="#b1a972"/><rect x="343.7" y="55.5" width="10.0" height="1.2" fill="#a8a276"/><rect x="343.7" y="56.6" width="10.0" height="1.2" fill="#aca574"/><rect x="343.7" y="57.7" width="10.0" height="1.2" fill="#989579"/><rect x="343.7" y="58.8" width="10.0" height="1.2" fill="#8d8b7b"/><rect x="343.7" y="60.0" width="10.0" height="1.2" fill="#a49f77"/><rect x="343.7" y="61.1" width="10.0" height="1.2" fill="#74767f"/><rect x="343.7" y="62.2" width="10.0" height="1.2" fill="#afa772"/><rect x="343.7" y="63.3" width="10.0" height="1.2" fill="#a6a076"/><rect x="343.7" y="64.4" width="10.0" height="1.2" fill="#87867c"/><rect x="343.7" y="65.5" width="10.0" height="1.2" fill="#7b7b7e"/><rect x="343.7" y="66.6" width="10.0" height="1.2" fill="#9d9978"/><rect x="343.7" y="67.7" width="10.0" height="1.2" fill="#979479"/><rect x="343.7" y="68.8" width="10.0" height="1.2" fill="#9f9a78"/><rect x="343.7" y="69.9" width="10.0" height="1.2" fill="#9c9878"/><rect x="343.7" y="71.0" width="10.0" height="1.2" fill="#9f9a78"/><rect x="343.7" y="72.1" width="10.0" height="1.2" fill="#989579"/><rect x="343.7" y="73.2" width="10.0" height="1.2" fill="#979479"/><rect x="343.7" y="74.3" width="10.0" height="1.2" fill="#9e9a78"/><rect x="343.7" y="75.4" width="10.0" height="1.2" fill="#a09b77"/><rect x="343.7" y="76.5" width="10.0" height="1.2" fill="#989579"/><rect x="343.7" y="77.6" width="10.0" height="1.2" fill="#9e9978"/><rect x="343.7" y="78.7" width="10.0" height="1.2" fill="#a29d77"/><rect x="343.7" y="79.8" width="10.0" height="1.2" fill="#b5ac6f"/><rect x="343.7" y="81.0" width="10.0" height="1.2" fill="#9f9b78"/><rect x="343.7" y="82.1" width="10.0" height="1.2" fill="#a39e77"/><rect x="343.7" y="83.2" width="10.0" height="1.2" fill="#9b9878"/><rect x="343.7" y="84.3" width="10.0" height="1.2" fill="#83837d"/><rect x="343.7" y="85.4" width="10.0" height="1.2" fill="#8d8c7b"/><rect x="343.7" y="86.5" width="10.0" height="1.2" fill="#a39e77"/><rect x="343.7" y="87.6" width="10.0" height="1.2" fill="#a39e77"/><rect x="343.7" y="88.7" width="10.0" height="1.2" fill="#9b9878"/><rect x="343.7" y="89.8" width="10.0" height="1.2" fill="#8f8d7b"/><rect x="343.7" y="90.9" width="10.0" height="1.2" fill="#87867c"/><rect x="343.7" y="92.0" width="10.0" height="1.2" fill="#9d9978"/><rect x="343.7" y="93.1" width="10.0" height="1.2" fill="#aca574"/><rect x="343.7" y="94.2" width="10.0" height="1.2" fill="#9a9679"/><rect x="343.7" y="95.3" width="10.0" height="1.2" fill="#7b7b7e"/><rect x="343.7" y="96.4" width="10.0" height="1.2" fill="#989579"/><rect x="343.7" y="97.5" width="10.0" height="1.2" fill="#93907a"/><rect x="343.7" y="98.6" width="10.0" height="1.2" fill="#8b897b"/><rect x="343.7" y="99.7" width="10.0" height="1.2" fill="#979479"/><rect x="343.7" y="100.8" width="10.0" height="1.2" fill="#908e7a"/><rect x="343.7" y="102.0" width="10.0" height="1.2" fill="#8b8a7b"/><rect x="343.7" y="103.1" width="10.0" height="1.2" fill="#7d7d7e"/><rect x="343.7" y="104.2" width="10.0" height="1.2" fill="#9f9b78"/><rect x="343.7" y="105.3" width="10.0" height="1.2" fill="#8c8a7b"/><rect x="343.7" y="106.4" width="10.0" height="1.2" fill="#8d8b7b"/><rect x="343.7" y="107.5" width="10.0" height="1.2" fill="#7e7e7e"/><rect x="343.7" y="108.6" width="10.0" height="1.2" fill="#a7a176"/><rect x="343.7" y="109.7" width="10.0" height="1.2" fill="#82827d"/><rect x="343.7" y="110.8" width="10.0" height="1.2" fill="#8b8a7b"/><rect x="343.7" y="111.9" width="10.0" height="1.2" fill="#ada673"/><rect x="343.7" y="113.0" width="10.0" height="1.2" fill="#7b7b7e"/><rect x="343.7" y="114.1" width="10.0" height="1.2" fill="#84837d"/><rect x="343.7" y="115.2" width="10.0" height="1.2" fill="#a7a176"/><rect x="343.7" y="116.3" width="10.0" height="1.2" fill="#989579"/><rect x="343.7" y="117.4" width="10.0" height="1.2" fill="#8e8c7b"/><rect x="343.7" y="118.5" width="10.0" height="1.2" fill="#9b9878"/><rect x="343.7" y="119.6" width="10.0" height="1.2" fill="#8b897b"/><rect x="343.7" y="120.7" width="10.0" height="1.2" fill="#7c7c7e"/><rect x="343.7" y="121.9" width="10.0" height="1.2" fill="#9d9978"/><rect x="343.7" y="123.0" width="10.0" height="1.2" fill="#a9a376"/><rect x="343.7" y="124.1" width="10.0" height="1.2" fill="#89887c"/><rect x="343.7" y="125.2" width="10.0" height="1.2" fill="#a5a076"/><rect x="343.7" y="126.3" width="10.0" height="1.2" fill="#a09c77"/><rect x="343.7" y="127.4" width="10.0" height="1.2" fill="#88877c"/><rect x="343.7" y="128.5" width="10.0" height="1.2" fill="#a6a076"/><rect x="343.7" y="129.6" width="10.0" height="1.2" fill="#a39e77"/><rect x="343.7" y="130.7" width="10.0" height="1.2" fill="#83837d"/><rect x="353.7" y="29.0" width="10.0" height="1.2" fill="#7d7d7e"/><rect x="353.7" y="30.1" width="10.0" height="1.2" fill="#9d9978"/><rect x="353.7" y="31.2" width="10.0" height="1.2" fill="#89887c"/><rect x="353.7" y="32.3" width="10.0" height="1.2" fill="#959379"/><rect x="353.7" y="33.4" width="10.0" height="1.2" fill="#79797e"/><rect x="353.7" y="34.5" width="10.0" height="1.2" fill="#94917a"/><rect x="353.7" y="35.6" width="10.0" height="1.2" fill="#8b8a7b"/><rect x="353.7" y="36.7" width="10.0" height="1.2" fill="#83837d"/><rect x="353.7" y="37.8" width="10.0" height="1.2" fill="#8d8b7b"/><rect x="353.7" y="38.9" width="10.0" height="1.2" fill="#8e8c7b"/><rect x="353.7" y="40.1" width="10.0" height="1.2" fill="#84837d"/><rect x="353.7" y="41.2" width="10.0" height="1.2" fill="#85847d"/><rect x="353.7" y="42.3" width="10.0" height="1.2" fill="#84837d"/><rect x="353.7" y="43.4" width="10.0" height="1.2" fill="#6f7280"/><rect x="353.7" y="44.5" width="10.0" height="1.2" fill="#989579"/><rect x="353.7" y="45.6" width="10.0" height="1.2" fill="#969379"/><rect x="353.7" y="46.7" width="10.0" height="1.2" fill="#77787e"/><rect x="353.7" y="47.8" width="10.0" height="1.2" fill="#535d83"/><rect x="353.7" y="48.9" width="10.0" height="1.2" fill="#666c81"/><rect x="353.7" y="50.0" width="10.0" height="1.2" fill="#656c81"/><rect x="353.7" y="51.1" width="10.0" height="1.2" fill="#6d7180"/><rect x="353.7" y="52.2" width="10.0" height="1.2" fill="#3d4c80"/><rect x="353.7" y="53.3" width="10.0" height="1.2" fill="#74767f"/><rect x="353.7" y="54.4" width="10.0" height="1.2" fill="#71737f"/><rect x="353.7" y="55.5" width="10.0" height="1.2" fill="#666d81"/><rect x="353.7" y="56.6" width="10.0" height="1.2" fill="#636a82"/><rect x="353.7" y="57.7" width="10.0" height="1.2" fill="#aaa475"/><rect x="353.7" y="58.8" width="10.0" height="1.2" fill="#8a897c"/><rect x="353.7" y="60.0" width="10.0" height="1.2" fill="#81817d"/><rect x="353.7" y="61.1" width="10.0" height="1.2" fill="#959279"/><rect x="353.7" y="62.2" width="10.0" height="1.2" fill="#a09b77"/><rect x="353.7" y="63.3" width="10.0" height="1.2" fill="#9d9978"/><rect x="353.7" y="64.4" width="10.0" height="1.2" fill="#8d8b7b"/><rect x="353.7" y="65.5" width="10.0" height="1.2" fill="#7d7d7e"/><rect x="353.7" y="66.6" width="10.0" height="1.2" fill="#7e7e7e"/><rect x="353.7" y="67.7" width="10.0" height="1.2" fill="#969379"/><rect x="353.7" y="68.8" width="10.0" height="1.2" fill="#bdb26c"/><rect x="353.7" y="69.9" width="10.0" height="1.2" fill="#94927a"/><rect x="353.7" y="71.0" width="10.0" height="1.2" fill="#9b9778"/><rect x="353.7" y="72.1" width="10.0" height="1.2" fill="#9d9978"/><rect x="353.7" y="73.2" width="10.0" height="1.2" fill="#81817d"/><rect x="353.7" y="74.3" width="10.0" height="1.2" fill="#a29d77"/><rect x="353.7" y="75.4" width="10.0" height="1.2" fill="#94917a"/><rect x="353.7" y="76.5" width="10.0" height="1.2" fill="#7b7b7e"/><rect x="353.7" y="77.6" width="10.0" height="1.2" fill="#7c7c7e"/><rect x="353.7" y="78.7" width="10.0" height="1.2" fill="#8d8b7b"/><rect x="353.7" y="79.8" width="10.0" height="1.2" fill="#a49f77"/><rect x="353.7" y="81.0" width="10.0" height="1.2" fill="#8b897b"/><rect x="353.7" y="82.1" width="10.0" height="1.2" fill="#a29d77"/><rect x="353.7" y="83.2" width="10.0" height="1.2" fill="#7a7a7e"/><rect x="353.7" y="84.3" width="10.0" height="1.2" fill="#87867c"/><rect x="353.7" y="85.4" width="10.0" height="1.2" fill="#7a7a7e"/><rect x="353.7" y="86.5" width="10.0" height="1.2" fill="#8d8b7b"/><rect x="353.7" y="87.6" width="10.0" height="1.2" fill="#989579"/><rect x="353.7" y="88.7" width="10.0" height="1.2" fill="#81817d"/><rect x="353.7" y="89.8" width="10.0" height="1.2" fill="#908d7a"/><rect x="353.7" y="90.9" width="10.0" height="1.2" fill="#7c7c7e"/><rect x="353.7" y="92.0" width="10.0" height="1.2" fill="#8d8b7b"/><rect x="353.7" y="93.1" width="10.0" height="1.2" fill="#84847d"/><rect x="353.7" y="94.2" width="10.0" height="1.2" fill="#7c7c7e"/><rect x="353.7" y="95.3" width="10.0" height="1.2" fill="#81817d"/><rect x="353.7" y="96.4" width="10.0" height="1.2" fill="#7f7e7e"/><rect x="353.7" y="97.5" width="10.0" height="1.2" fill="#908e7a"/><rect x="353.7" y="98.6" width="10.0" height="1.2" fill="#7d7d7e"/><rect x="353.7" y="99.7" width="10.0" height="1.2" fill="#93917a"/><rect x="353.7" y="100.8" width="10.0" height="1.2" fill="#8c8a7b"/><rect x="353.7" y="102.0" width="10.0" height="1.2" fill="#7d7d7e"/><rect x="353.7" y="103.1" width="10.0" height="1.2" fill="#80807e"/><rect x="353.7" y="104.2" width="10.0" height="1.2" fill="#7c7c7e"/><rect x="353.7" y="105.3" width="10.0" height="1.2" fill="#79797e"/><rect x="353.7" y="106.4" width="10.0" height="1.2" fill="#8b897b"/><rect x="353.7" y="107.5" width="10.0" height="1.2" fill="#9e9a78"/><rect x="353.7" y="108.6" width="10.0" height="1.2" fill="#8b8a7b"/><rect x="353.7" y="109.7" width="10.0" height="1.2" fill="#86857c"/><rect x="353.7" y="110.8" width="10.0" height="1.2" fill="#8c8a7b"/><rect x="353.7" y="111.9" width="10.0" height="1.2" fill="#7c7c7e"/><rect x="353.7" y="113.0" width="10.0" height="1.2" fill="#535e83"/><rect x="353.7" y="114.1" width="10.0" height="1.2" fill="#959279"/><rect x="353.7" y="115.2" width="10.0" height="1.2" fill="#74757f"/><rect x="353.7" y="116.3" width="10.0" height="1.2" fill="#9a9679"/><rect x="353.7" y="117.4" width="10.0" height="1.2" fill="#8d8b7b"/><rect x="353.7" y="118.5" width="10.0" height="1.2" fill="#979479"/><rect x="353.7" y="119.6" width="10.0" height="1.2" fill="#8c8a7b"/><rect x="353.7" y="120.7" width="10.0" height="1.2" fill="#7e7e7e"/><rect x="353.7" y="121.9" width="10.0" height="1.2" fill="#9a9679"/><rect x="353.7" y="123.0" width="10.0" height="1.2" fill="#88877c"/><rect x="353.7" y="124.1" width="10.0" height="1.2" fill="#85847d"/><rect x="353.7" y="125.2" width="10.0" height="1.2" fill="#82817d"/><rect x="353.7" y="126.3" width="10.0" height="1.2" fill="#a39e77"/><rect x="353.7" y="127.4" width="10.0" height="1.2" fill="#84847d"/><rect x="353.7" y="128.5" width="10.0" height="1.2" fill="#9e9a78"/><rect x="353.7" y="129.6" width="10.0" height="1.2" fill="#807f7e"/><rect x="353.7" y="130.7" width="10.0" height="1.2" fill="#7c7c7e"/><rect x="363.7" y="29.0" width="10.0" height="1.2" fill="#9b9778"/><rect x="363.7" y="30.1" width="10.0" height="1.2" fill="#a39e77"/><rect x="363.7" y="31.2" width="10.0" height="1.2" fill="#afa773"/><rect x="363.7" y="32.3" width="10.0" height="1.2" fill="#a19c77"/><rect x="363.7" y="33.4" width="10.0" height="1.2" fill="#9c9878"/><rect x="363.7" y="34.5" width="10.0" height="1.2" fill="#aaa475"/><rect x="363.7" y="35.6" width="10.0" height="1.2" fill="#a19c77"/><rect x="363.7" y="36.7" width="10.0" height="1.2" fill="#aba574"/><rect x="363.7" y="37.8" width="10.0" height="1.2" fill="#a39e77"/><rect x="363.7" y="38.9" width="10.0" height="1.2" fill="#a29d77"/><rect x="363.7" y="40.1" width="10.0" height="1.2" fill="#7a7a7e"/><rect x="363.7" y="41.2" width="10.0" height="1.2" fill="#959379"/><rect x="363.7" y="42.3" width="10.0" height="1.2" fill="#9d9978"/><rect x="363.7" y="43.4" width="10.0" height="1.2" fill="#969379"/><rect x="363.7" y="44.5" width="10.0" height="1.2" fill="#b7ad6e"/><rect x="363.7" y="45.6" width="10.0" height="1.2" fill="#9a9778"/><rect x="363.7" y="46.7" width="10.0" height="1.2" fill="#999679"/><rect x="363.7" y="47.8" width="10.0" height="1.2" fill="#9d9978"/><rect x="363.7" y="48.9" width="10.0" height="1.2" fill="#a5a076"/><rect x="363.7" y="50.0" width="10.0" height="1.2" fill="#b5ab70"/><rect x="363.7" y="51.1" width="10.0" height="1.2" fill="#ada673"/><rect x="363.7" y="52.2" width="10.0" height="1.2" fill="#8b8a7b"/><rect x="363.7" y="53.3" width="10.0" height="1.2" fill="#a7a276"/><rect x="363.7" y="54.4" width="10.0" height="1.2" fill="#9c9878"/><rect x="363.7" y="55.5" width="10.0" height="1.2" fill="#a09c77"/><rect x="363.7" y="56.6" width="10.0" height="1.2" fill="#a5a077"/><rect x="363.7" y="57.7" width="10.0" height="1.2" fill="#a8a276"/><rect x="363.7" y="58.8" width="10.0" height="1.2" fill="#a29d77"/><rect x="363.7" y="60.0" width="10.0" height="1.2" fill="#a19c77"/><rect x="363.7" y="61.1" width="10.0" height="1.2" fill="#a39e77"/><rect x="363.7" y="62.2" width="10.0" height="1.2" fill="#959279"/><rect x="363.7" y="63.3" width="10.0" height="1.2" fill="#b7ae6e"/><rect x="363.7" y="64.4" width="10.0" height="1.2" fill="#77777e"/><rect x="363.7" y="65.5" width="10.0" height="1.2" fill="#989579"/><rect x="363.7" y="66.6" width="10.0" height="1.2" fill="#a09c77"/><rect x="363.7" y="67.7" width="10.0" height="1.2" fill="#8a897c"/><rect x="363.7" y="68.8" width="10.0" height="1.2" fill="#b5ac70"/><rect x="363.7" y="69.9" width="10.0" height="1.2" fill="#a7a176"/><rect x="363.7" y="71.0" width="10.0" height="1.2" fill="#bcb16c"/><rect x="363.7" y="72.1" width="10.0" height="1.2" fill="#b0a872"/><rect x="363.7" y="73.2" width="10.0" height="1.2" fill="#a49f77"/><rect x="363.7" y="74.3" width="10.0" height="1.2" fill="#a8a276"/><rect x="363.7" y="75.4" width="10.0" height="1.2" fill="#8c8b7b"/><rect x="363.7" y="76.5" width="10.0" height="1.2" fill="#9b9878"/><rect x="363.7" y="77.6" width="10.0" height="1.2" fill="#9b9778"/><rect x="363.7" y="78.7" width="10.0" height="1.2" fill="#a59f77"/><rect x="363.7" y="79.8" width="10.0" height="1.2" fill="#a6a076"/><rect x="363.7" y="81.0" width="10.0" height="1.2" fill="#c2b66a"/><rect x="363.7" y="82.1" width="10.0" height="1.2" fill="#908e7a"/><rect x="363.7" y="83.2" width="10.0" height="1.2" fill="#aea773"/><rect x="363.7" y="84.3" width="10.0" height="1.2" fill="#908d7a"/><rect x="363.7" y="85.4" width="10.0" height="1.2" fill="#959379"/><rect x="363.7" y="86.5" width="10.0" height="1.2" fill="#aaa475"/><rect x="363.7" y="87.6" width="10.0" height="1.2" fill="#a5a077"/><rect x="363.7" y="88.7" width="10.0" height="1.2" fill="#969379"/><rect x="363.7" y="89.8" width="10.0" height="1.2" fill="#aaa475"/><rect x="363.7" y="90.9" width="10.0" height="1.2" fill="#a09b77"/><rect x="363.7" y="92.0" width="10.0" height="1.2" fill="#7e7e7e"/><rect x="363.7" y="93.1" width="10.0" height="1.2" fill="#a7a176"/><rect x="363.7" y="94.2" width="10.0" height="1.2" fill="#89877c"/><rect x="363.7" y="95.3" width="10.0" height="1.2" fill="#8a887c"/><rect x="363.7" y="96.4" width="10.0" height="1.2" fill="#a49f77"/><rect x="363.7" y="97.5" width="10.0" height="1.2" fill="#999679"/><rect x="363.7" y="98.6" width="10.0" height="1.2" fill="#9a9778"/><rect x="363.7" y="99.7" width="10.0" height="1.2" fill="#b4ab70"/><rect x="363.7" y="100.8" width="10.0" height="1.2" fill="#a29d77"/><rect x="363.7" y="102.0" width="10.0" height="1.2" fill="#9a9778"/><rect x="363.7" y="103.1" width="10.0" height="1.2" fill="#9e9a78"/><rect x="363.7" y="104.2" width="10.0" height="1.2" fill="#9d9978"/><rect x="363.7" y="105.3" width="10.0" height="1.2" fill="#74757f"/><rect x="363.7" y="106.4" width="10.0" height="1.2" fill="#8e8c7b"/><rect x="363.7" y="107.5" width="10.0" height="1.2" fill="#85847d"/><rect x="363.7" y="108.6" width="10.0" height="1.2" fill="#bdb26c"/><rect x="363.7" y="109.7" width="10.0" height="1.2" fill="#81817d"/><rect x="363.7" y="110.8" width="10.0" height="1.2" fill="#989579"/><rect x="363.7" y="111.9" width="10.0" height="1.2" fill="#9d9978"/><rect x="363.7" y="113.0" width="10.0" height="1.2" fill="#999679"/><rect x="363.7" y="114.1" width="10.0" height="1.2" fill="#9f9b78"/><rect x="363.7" y="115.2" width="10.0" height="1.2" fill="#b5ac6f"/><rect x="363.7" y="116.3" width="10.0" height="1.2" fill="#aba474"/><rect x="363.7" y="117.4" width="10.0" height="1.2" fill="#a8a276"/><rect x="363.7" y="118.5" width="10.0" height="1.2" fill="#a29d77"/><rect x="363.7" y="119.6" width="10.0" height="1.2" fill="#a7a176"/><rect x="363.7" y="120.7" width="10.0" height="1.2" fill="#94917a"/><rect x="363.7" y="121.9" width="10.0" height="1.2" fill="#a6a076"/><rect x="363.7" y="123.0" width="10.0" height="1.2" fill="#89887c"/><rect x="363.7" y="124.1" width="10.0" height="1.2" fill="#9b9778"/><rect x="363.7" y="125.2" width="10.0" height="1.2" fill="#918f7a"/><rect x="363.7" y="126.3" width="10.0" height="1.2" fill="#9f9a78"/><rect x="363.7" y="127.4" width="10.0" height="1.2" fill="#b0a872"/><rect x="363.7" y="128.5" width="10.0" height="1.2" fill="#aea673"/><rect x="363.7" y="129.6" width="10.0" height="1.2" fill="#b3aa71"/><rect x="363.7" y="130.7" width="10.0" height="1.2" fill="#a6a176"/><rect x="373.7" y="29.0" width="10.0" height="1.2" fill="#a49f77"/><rect x="373.7" y="30.1" width="10.0" height="1.2" fill="#a09b77"/><rect x="373.7" y="31.2" width="10.0" height="1.2" fill="#969379"/><rect x="373.7" y="32.3" width="10.0" height="1.2" fill="#969379"/><rect x="373.7" y="33.4" width="10.0" height="1.2" fill="#918e7a"/><rect x="373.7" y="34.5" width="10.0" height="1.2" fill="#918f7a"/><rect x="373.7" y="35.6" width="10.0" height="1.2" fill="#a09c77"/><rect x="373.7" y="36.7" width="10.0" height="1.2" fill="#79797e"/><rect x="373.7" y="37.8" width="10.0" height="1.2" fill="#545e83"/><rect x="373.7" y="38.9" width="10.0" height="1.2" fill="#676d81"/><rect x="373.7" y="40.1" width="10.0" height="1.2" fill="#b3aa71"/><rect x="373.7" y="41.2" width="10.0" height="1.2" fill="#b0a872"/><rect x="373.7" y="42.3" width="10.0" height="1.2" fill="#a7a176"/><rect x="373.7" y="43.4" width="10.0" height="1.2" fill="#676d81"/><rect x="373.7" y="44.5" width="10.0" height="1.2" fill="#70737f"/><rect x="373.7" y="45.6" width="10.0" height="1.2" fill="#656c81"/><rect x="373.7" y="46.7" width="10.0" height="1.2" fill="#5c6582"/><rect x="373.7" y="47.8" width="10.0" height="1.2" fill="#535d83"/><rect x="373.7" y="48.9" width="10.0" height="1.2" fill="#77777e"/><rect x="373.7" y="50.0" width="10.0" height="1.2" fill="#77777e"/><rect x="373.7" y="51.1" width="10.0" height="1.2" fill="#7d7d7e"/><rect x="373.7" y="52.2" width="10.0" height="1.2" fill="#696e81"/><rect x="373.7" y="53.3" width="10.0" height="1.2" fill="#606882"/><rect x="373.7" y="54.4" width="10.0" height="1.2" fill="#74767f"/><rect x="373.7" y="55.5" width="10.0" height="1.2" fill="#79797e"/><rect x="373.7" y="56.6" width="10.0" height="1.2" fill="#85847d"/><rect x="373.7" y="57.7" width="10.0" height="1.2" fill="#71747f"/><rect x="373.7" y="58.8" width="10.0" height="1.2" fill="#5e6682"/><rect x="373.7" y="60.0" width="10.0" height="1.2" fill="#6d7180"/><rect x="373.7" y="61.1" width="10.0" height="1.2" fill="#73757f"/><rect x="373.7" y="62.2" width="10.0" height="1.2" fill="#7a7a7e"/><rect x="373.7" y="63.3" width="10.0" height="1.2" fill="#a19c77"/><rect x="373.7" y="64.4" width="10.0" height="1.2" fill="#576183"/><rect x="373.7" y="65.5" width="10.0" height="1.2" fill="#a09c77"/><rect x="373.7" y="66.6" width="10.0" height="1.2" fill="#969379"/><rect x="373.7" y="67.7" width="10.0" height="1.2" fill="#a09b77"/><rect x="373.7" y="68.8" width="10.0" height="1.2" fill="#a59f77"/><rect x="373.7" y="69.9" width="10.0" height="1.2" fill="#74757f"/><rect x="373.7" y="71.0" width="10.0" height="1.2" fill="#81817d"/><rect x="373.7" y="72.1" width="10.0" height="1.2" fill="#84837d"/><rect x="373.7" y="73.2" width="10.0" height="1.2" fill="#73757f"/><rect x="373.7" y="74.3" width="10.0" height="1.2" fill="#81817d"/><rect x="373.7" y="75.4" width="10.0" height="1.2" fill="#77777e"/><rect x="373.7" y="76.5" width="10.0" height="1.2" fill="#a39e77"/><rect x="373.7" y="77.6" width="10.0" height="1.2" fill="#9f9a78"/><rect x="373.7" y="78.7" width="10.0" height="1.2" fill="#a6a076"/><rect x="373.7" y="79.8" width="10.0" height="1.2" fill="#7d7d7e"/><rect x="373.7" y="81.0" width="10.0" height="1.2" fill="#656c81"/><rect x="373.7" y="82.1" width="10.0" height="1.2" fill="#6a6f81"/><rect x="373.7" y="83.2" width="10.0" height="1.2" fill="#6a6f81"/><rect x="373.7" y="84.3" width="10.0" height="1.2" fill="#4a5684"/><rect x="373.7" y="85.4" width="10.0" height="1.2" fill="#545e83"/><rect x="373.7" y="86.5" width="10.0" height="1.2" fill="#6c7080"/><rect x="373.7" y="87.6" width="10.0" height="1.2" fill="#6f7280"/><rect x="373.7" y="88.7" width="10.0" height="1.2" fill="#74757f"/><rect x="373.7" y="89.8" width="10.0" height="1.2" fill="#86857c"/><rect x="373.7" y="90.9" width="10.0" height="1.2" fill="#75767f"/><rect x="373.7" y="92.0" width="10.0" height="1.2" fill="#6b6f80"/><rect x="373.7" y="93.1" width="10.0" height="1.2" fill="#636b82"/><rect x="373.7" y="94.2" width="10.0" height="1.2" fill="#545e83"/><rect x="373.7" y="95.3" width="10.0" height="1.2" fill="#676d81"/><rect x="373.7" y="96.4" width="10.0" height="1.2" fill="#5f6882"/><rect x="373.7" y="97.5" width="10.0" height="1.2" fill="#676d81"/><rect x="373.7" y="98.6" width="10.0" height="1.2" fill="#5a6383"/><rect x="373.7" y="99.7" width="10.0" height="1.2" fill="#6a6f81"/><rect x="373.7" y="100.8" width="10.0" height="1.2" fill="#696e81"/><rect x="373.7" y="102.0" width="10.0" height="1.2" fill="#7b7b7e"/><rect x="373.7" y="103.1" width="10.0" height="1.2" fill="#616a82"/><rect x="373.7" y="104.2" width="10.0" height="1.2" fill="#8b8a7b"/><rect x="373.7" y="105.3" width="10.0" height="1.2" fill="#82817d"/><rect x="373.7" y="106.4" width="10.0" height="1.2" fill="#969379"/><rect x="373.7" y="107.5" width="10.0" height="1.2" fill="#999579"/><rect x="373.7" y="108.6" width="10.0" height="1.2" fill="#969379"/><rect x="373.7" y="109.7" width="10.0" height="1.2" fill="#74757f"/><rect x="373.7" y="110.8" width="10.0" height="1.2" fill="#87867c"/><rect x="373.7" y="111.9" width="10.0" height="1.2" fill="#9a9678"/><rect x="373.7" y="113.0" width="10.0" height="1.2" fill="#7b7b7e"/><rect x="373.7" y="114.1" width="10.0" height="1.2" fill="#969379"/><rect x="373.7" y="115.2" width="10.0" height="1.2" fill="#88877c"/><rect x="373.7" y="116.3" width="10.0" height="1.2" fill="#a6a076"/><rect x="373.7" y="117.4" width="10.0" height="1.2" fill="#94917a"/><rect x="373.7" y="118.5" width="10.0" height="1.2" fill="#77787e"/><rect x="373.7" y="119.6" width="10.0" height="1.2" fill="#6d7180"/><rect x="373.7" y="120.7" width="10.0" height="1.2" fill="#6c7180"/><rect x="373.7" y="121.9" width="10.0" height="1.2" fill="#7d7d7e"/><rect x="373.7" y="123.0" width="10.0" height="1.2" fill="#626a82"/><rect x="373.7" y="124.1" width="10.0" height="1.2" fill="#a6a076"/><rect x="373.7" y="125.2" width="10.0" height="1.2" fill="#999579"/><rect x="373.7" y="126.3" width="10.0" height="1.2" fill="#ada673"/><rect x="373.7" y="127.4" width="10.0" height="1.2" fill="#afa772"/><rect x="373.7" y="128.5" width="10.0" height="1.2" fill="#b5ac6f"/><rect x="373.7" y="129.6" width="10.0" height="1.2" fill="#a09b77"/><rect x="373.7" y="130.7" width="10.0" height="1.2" fill="#aaa375"/><rect x="383.8" y="29.0" width="10.0" height="1.2" fill="#38477e"/><rect x="383.8" y="30.1" width="10.0" height="1.2" fill="#2a3c7a"/><rect x="383.8" y="31.2" width="10.0" height="1.2" fill="#31427c"/><rect x="383.8" y="32.3" width="10.0" height="1.2" fill="#2c3d7b"/><rect x="383.8" y="33.4" width="10.0" height="1.2" fill="#273875"/><rect x="383.8" y="34.5" width="10.0" height="1.2" fill="#2a3c7a"/><rect x="383.8" y="35.6" width="10.0" height="1.2" fill="#596283"/><rect x="383.8" y="36.7" width="10.0" height="1.2" fill="#6b7080"/><rect x="383.8" y="37.8" width="10.0" height="1.2" fill="#445182"/><rect x="383.8" y="38.9" width="10.0" height="1.2" fill="#5e6782"/><rect x="383.8" y="40.1" width="10.0" height="1.2" fill="#22316b"/><rect x="383.8" y="41.2" width="10.0" height="1.2" fill="#31427c"/><rect x="383.8" y="42.3" width="10.0" height="1.2" fill="#1e2c64"/><rect x="383.8" y="43.4" width="10.0" height="1.2" fill="#1e2c64"/><rect x="383.8" y="44.5" width="10.0" height="1.2" fill="#4f5a84"/><rect x="383.8" y="45.6" width="10.0" height="1.2" fill="#5a6483"/><rect x="383.8" y="46.7" width="10.0" height="1.2" fill="#475483"/><rect x="383.8" y="47.8" width="10.0" height="1.2" fill="#414f81"/><rect x="383.8" y="48.9" width="10.0" height="1.2" fill="#4f5a84"/><rect x="383.8" y="50.0" width="10.0" height="1.2" fill="#2c3e7b"/><rect x="383.8" y="51.1" width="10.0" height="1.2" fill="#2d3f7b"/><rect x="383.8" y="52.2" width="10.0" height="1.2" fill="#475483"/><rect x="383.8" y="53.3" width="10.0" height="1.2" fill="#545e83"/><rect x="383.8" y="54.4" width="10.0" height="1.2" fill="#6e7280"/><rect x="383.8" y="55.5" width="10.0" height="1.2" fill="#2a3c7a"/><rect x="383.8" y="56.6" width="10.0" height="1.2" fill="#33447d"/><rect x="383.8" y="57.7" width="10.0" height="1.2" fill="#3e4d80"/><rect x="383.8" y="58.8" width="10.0" height="1.2" fill="#23326d"/><rect x="383.8" y="60.0" width="10.0" height="1.2" fill="#32437d"/><rect x="383.8" y="61.1" width="10.0" height="1.2" fill="#24346f"/><rect x="383.8" y="62.2" width="10.0" height="1.2" fill="#253570"/><rect x="383.8" y="63.3" width="10.0" height="1.2" fill="#293b79"/><rect x="383.8" y="64.4" width="10.0" height="1.2" fill="#253671"/><rect x="383.8" y="65.5" width="10.0" height="1.2" fill="#445182"/><rect x="383.8" y="66.6" width="10.0" height="1.2" fill="#414f81"/><rect x="383.8" y="67.7" width="10.0" height="1.2" fill="#3e4c80"/><rect x="383.8" y="68.8" width="10.0" height="1.2" fill="#696e81"/><rect x="383.8" y="69.9" width="10.0" height="1.2" fill="#5b6483"/><rect x="383.8" y="71.0" width="10.0" height="1.2" fill="#555f83"/><rect x="383.8" y="72.1" width="10.0" height="1.2" fill="#37467e"/><rect x="383.8" y="73.2" width="10.0" height="1.2" fill="#23326c"/><rect x="383.8" y="74.3" width="10.0" height="1.2" fill="#5c6583"/><rect x="383.8" y="75.4" width="10.0" height="1.2" fill="#4e5984"/><rect x="383.8" y="76.5" width="10.0" height="1.2" fill="#445182"/><rect x="383.8" y="77.6" width="10.0" height="1.2" fill="#22316b"/><rect x="383.8" y="78.7" width="10.0" height="1.2" fill="#263773"/><rect x="383.8" y="79.8" width="10.0" height="1.2" fill="#3b4a7f"/><rect x="383.8" y="81.0" width="10.0" height="1.2" fill="#283a77"/><rect x="383.8" y="82.1" width="10.0" height="1.2" fill="#71747f"/><rect x="383.8" y="83.2" width="10.0" height="1.2" fill="#80807e"/><rect x="383.8" y="84.3" width="10.0" height="1.2" fill="#21306a"/><rect x="383.8" y="85.4" width="10.0" height="1.2" fill="#24346f"/><rect x="383.8" y="86.5" width="10.0" height="1.2" fill="#273975"/><rect x="383.8" y="87.6" width="10.0" height="1.2" fill="#2e3f7b"/><rect x="383.8" y="88.7" width="10.0" height="1.2" fill="#273874"/><rect x="383.8" y="89.8" width="10.0" height="1.2" fill="#505b83"/><rect x="383.8" y="90.9" width="10.0" height="1.2" fill="#4d5984"/><rect x="383.8" y="92.0" width="10.0" height="1.2" fill="#4a5684"/><rect x="383.8" y="93.1" width="10.0" height="1.2" fill="#5e6682"/><rect x="383.8" y="94.2" width="10.0" height="1.2" fill="#1e2d65"/><rect x="383.8" y="95.3" width="10.0" height="1.2" fill="#263773"/><rect x="383.8" y="96.4" width="10.0" height="1.2" fill="#243570"/><rect x="383.8" y="97.5" width="10.0" height="1.2" fill="#1e2c64"/><rect x="383.8" y="98.6" width="10.0" height="1.2" fill="#283976"/><rect x="383.8" y="99.7" width="10.0" height="1.2" fill="#4e5a84"/><rect x="383.8" y="100.8" width="10.0" height="1.2" fill="#4a5684"/><rect x="383.8" y="102.0" width="10.0" height="1.2" fill="#495584"/><rect x="383.8" y="103.1" width="10.0" height="1.2" fill="#424f81"/><rect x="383.8" y="104.2" width="10.0" height="1.2" fill="#213069"/><rect x="383.8" y="105.3" width="10.0" height="1.2" fill="#2f407b"/><rect x="383.8" y="106.4" width="10.0" height="1.2" fill="#414f81"/><rect x="383.8" y="107.5" width="10.0" height="1.2" fill="#404e81"/><rect x="383.8" y="108.6" width="10.0" height="1.2" fill="#3c4b80"/><rect x="383.8" y="109.7" width="10.0" height="1.2" fill="#202f68"/><rect x="383.8" y="110.8" width="10.0" height="1.2" fill="#33437d"/><rect x="383.8" y="111.9" width="10.0" height="1.2" fill="#30417c"/><rect x="383.8" y="113.0" width="10.0" height="1.2" fill="#1e2c64"/><rect x="383.8" y="114.1" width="10.0" height="1.2" fill="#283976"/><rect x="383.8" y="115.2" width="10.0" height="1.2" fill="#36457e"/><rect x="383.8" y="116.3" width="10.0" height="1.2" fill="#23336e"/><rect x="383.8" y="117.4" width="10.0" height="1.2" fill="#1e2c64"/><rect x="383.8" y="118.5" width="10.0" height="1.2" fill="#4d5884"/><rect x="383.8" y="119.6" width="10.0" height="1.2" fill="#5c6583"/><rect x="383.8" y="120.7" width="10.0" height="1.2" fill="#535d83"/><rect x="383.8" y="121.9" width="10.0" height="1.2" fill="#586283"/><rect x="383.8" y="123.0" width="10.0" height="1.2" fill="#596283"/><rect x="383.8" y="124.1" width="10.0" height="1.2" fill="#535d83"/><rect x="383.8" y="125.2" width="10.0" height="1.2" fill="#515b83"/><rect x="383.8" y="126.3" width="10.0" height="1.2" fill="#545f83"/><rect x="383.8" y="127.4" width="10.0" height="1.2" fill="#545e83"/><rect x="383.8" y="128.5" width="10.0" height="1.2" fill="#606882"/><rect x="383.8" y="129.6" width="10.0" height="1.2" fill="#85847d"/><rect x="383.8" y="130.7" width="10.0" height="1.2" fill="#83827d"/><rect x="323.60" y="29.00" width="70.20" height="102.80" fill="none" stroke="#1a1a1a" stroke-width="0.8"/><rect x="323.60" y="138.00" width="70.20" height="13.70" fill="#2a2a2a"/><rect x="323.6" y="138.0" width="10.0" height="1.2" fill="#505b84"/><rect x="323.6" y="139.1" width="10.0" height="1.2" fill="#656c81"/><rect x="323.6" y="140.3" width="10.0" height="1.2" fill="#435082"/><rect x="323.6" y="141.4" width="10.0" height="1.2" fill="#596283"/><rect x="323.6" y="142.6" width="10.0" height="1.2" fill="#414e81"/><rect x="323.6" y="143.7" width="10.0" height="1.2" fill="#5a6383"/><rect x="323.6" y="144.8" width="10.0" height="1.2" fill="#424f81"/><rect x="323.6" y="146.0" width="10.0" height="1.2" fill="#2f407c"/><rect x="323.6" y="147.1" width="10.0" height="1.2" fill="#23336d"/><rect x="323.6" y="148.3" width="10.0" height="1.2" fill="#515c83"/><rect x="323.6" y="149.4" width="10.0" height="1.2" fill="#5d6682"/><rect x="323.6" y="150.6" width="10.0" height="1.2" fill="#30417c"/><rect x="333.6" y="138.0" width="10.0" height="1.2" fill="#515c83"/><rect x="333.6" y="139.1" width="10.0" height="1.2" fill="#89887c"/><rect x="333.6" y="140.3" width="10.0" height="1.2" fill="#80807e"/><rect x="333.6" y="141.4" width="10.0" height="1.2" fill="#81807d"/><rect x="333.6" y="142.6" width="10.0" height="1.2" fill="#38487f"/><rect x="333.6" y="143.7" width="10.0" height="1.2" fill="#30417c"/><rect x="333.6" y="144.8" width="10.0" height="1.2" fill="#2d3e7b"/><rect x="333.6" y="146.0" width="10.0" height="1.2" fill="#2d3e7b"/><rect x="333.6" y="147.1" width="10.0" height="1.2" fill="#2b3d7a"/><rect x="333.6" y="148.3" width="10.0" height="1.2" fill="#3a497f"/><rect x="333.6" y="149.4" width="10.0" height="1.2" fill="#3e4d80"/><rect x="333.6" y="150.6" width="10.0" height="1.2" fill="#283976"/><rect x="343.7" y="138.0" width="10.0" height="1.2" fill="#7c7c7e"/><rect x="343.7" y="139.1" width="10.0" height="1.2" fill="#9e9a78"/><rect x="343.7" y="140.3" width="10.0" height="1.2" fill="#a9a375"/><rect x="343.7" y="141.4" width="10.0" height="1.2" fill="#969379"/><rect x="343.7" y="142.6" width="10.0" height="1.2" fill="#a6a076"/><rect x="343.7" y="143.7" width="10.0" height="1.2" fill="#a6a076"/><rect x="343.7" y="144.8" width="10.0" height="1.2" fill="#999579"/><rect x="343.7" y="146.0" width="10.0" height="1.2" fill="#86857c"/><rect x="343.7" y="147.1" width="10.0" height="1.2" fill="#73757f"/><rect x="343.7" y="148.3" width="10.0" height="1.2" fill="#ada674"/><rect x="343.7" y="149.4" width="10.0" height="1.2" fill="#9a9679"/><rect x="343.7" y="150.6" width="10.0" height="1.2" fill="#7f7f7e"/><rect x="353.7" y="138.0" width="10.0" height="1.2" fill="#79797e"/><rect x="353.7" y="139.1" width="10.0" height="1.2" fill="#7f7f7e"/><rect x="353.7" y="140.3" width="10.0" height="1.2" fill="#7a7a7e"/><rect x="353.7" y="141.4" width="10.0" height="1.2" fill="#8e8c7b"/><rect x="353.7" y="142.6" width="10.0" height="1.2" fill="#a6a076"/><rect x="353.7" y="143.7" width="10.0" height="1.2" fill="#8d8b7b"/><rect x="353.7" y="144.8" width="10.0" height="1.2" fill="#999679"/><rect x="353.7" y="146.0" width="10.0" height="1.2" fill="#6b7080"/><rect x="353.7" y="147.1" width="10.0" height="1.2" fill="#5c6583"/><rect x="353.7" y="148.3" width="10.0" height="1.2" fill="#aea773"/><rect x="353.7" y="149.4" width="10.0" height="1.2" fill="#8f8d7b"/><rect x="353.7" y="150.6" width="10.0" height="1.2" fill="#6a6f80"/><rect x="363.7" y="138.0" width="10.0" height="1.2" fill="#676d81"/><rect x="363.7" y="139.1" width="10.0" height="1.2" fill="#81817d"/><rect x="363.7" y="140.3" width="10.0" height="1.2" fill="#6c7080"/><rect x="363.7" y="141.4" width="10.0" height="1.2" fill="#a8a276"/><rect x="363.7" y="142.6" width="10.0" height="1.2" fill="#b0a872"/><rect x="363.7" y="143.7" width="10.0" height="1.2" fill="#a6a176"/><rect x="363.7" y="144.8" width="10.0" height="1.2" fill="#b1a971"/><rect x="363.7" y="146.0" width="10.0" height="1.2" fill="#a49f77"/><rect x="363.7" y="147.1" width="10.0" height="1.2" fill="#9b9778"/><rect x="363.7" y="148.3" width="10.0" height="1.2" fill="#b0a872"/><rect x="363.7" y="149.4" width="10.0" height="1.2" fill="#afa772"/><rect x="363.7" y="150.6" width="10.0" height="1.2" fill="#9a9678"/><rect x="373.7" y="138.0" width="10.0" height="1.2" fill="#666d81"/><rect x="373.7" y="139.1" width="10.0" height="1.2" fill="#7e7e7e"/><rect x="373.7" y="140.3" width="10.0" height="1.2" fill="#78787e"/><rect x="373.7" y="141.4" width="10.0" height="1.2" fill="#c7ba68"/><rect x="373.7" y="142.6" width="10.0" height="1.2" fill="#d4c560"/><rect x="373.7" y="143.7" width="10.0" height="1.2" fill="#bab06d"/><rect x="373.7" y="144.8" width="10.0" height="1.2" fill="#88877c"/><rect x="373.7" y="146.0" width="10.0" height="1.2" fill="#7b7b7e"/><rect x="373.7" y="147.1" width="10.0" height="1.2" fill="#9c9878"/><rect x="373.7" y="148.3" width="10.0" height="1.2" fill="#b1a971"/><rect x="373.7" y="149.4" width="10.0" height="1.2" fill="#aca574"/><rect x="373.7" y="150.6" width="10.0" height="1.2" fill="#a59f77"/><rect x="383.8" y="138.0" width="10.0" height="1.2" fill="#7b7b7e"/><rect x="383.8" y="139.1" width="10.0" height="1.2" fill="#93907a"/><rect x="383.8" y="140.3" width="10.0" height="1.2" fill="#807f7e"/><rect x="383.8" y="141.4" width="10.0" height="1.2" fill="#696f81"/><rect x="383.8" y="142.6" width="10.0" height="1.2" fill="#6c7080"/><rect x="383.8" y="143.7" width="10.0" height="1.2" fill="#606982"/><rect x="383.8" y="144.8" width="10.0" height="1.2" fill="#85847d"/><rect x="383.8" y="146.0" width="10.0" height="1.2" fill="#7e7e7e"/><rect x="383.8" y="147.1" width="10.0" height="1.2" fill="#586283"/><rect x="383.8" y="148.3" width="10.0" height="1.2" fill="#666c81"/><rect x="383.8" y="149.4" width="10.0" height="1.2" fill="#505b83"/><rect x="383.8" y="150.6" width="10.0" height="1.2" fill="#38477e"/><rect x="323.60" y="138.00" width="70.20" height="13.70" fill="none" stroke="#1a1a1a" stroke-width="0.8"/><rect x="323.60" y="157.00" width="70.20" height="38.60" fill="#2a2a2a"/><rect x="323.6" y="157.0" width="10.0" height="1.2" fill="#646b82"/><rect x="323.6" y="158.1" width="10.0" height="1.2" fill="#a8a276"/><rect x="323.6" y="159.2" width="10.0" height="1.2" fill="#71737f"/><rect x="323.6" y="160.3" width="10.0" height="1.2" fill="#656c81"/><rect x="323.6" y="161.4" width="10.0" height="1.2" fill="#83827d"/><rect x="323.6" y="162.5" width="10.0" height="1.2" fill="#7e7e7e"/><rect x="323.6" y="163.6" width="10.0" height="1.2" fill="#696f81"/><rect x="323.6" y="164.7" width="10.0" height="1.2" fill="#89877c"/><rect x="323.6" y="165.8" width="10.0" height="1.2" fill="#9e9978"/><rect x="323.6" y="166.9" width="10.0" height="1.2" fill="#74757f"/><rect x="323.6" y="168.0" width="10.0" height="1.2" fill="#71747f"/><rect x="323.6" y="169.1" width="10.0" height="1.2" fill="#636b82"/><rect x="323.6" y="170.2" width="10.0" height="1.2" fill="#475383"/><rect x="323.6" y="171.3" width="10.0" height="1.2" fill="#86857c"/><rect x="323.6" y="172.4" width="10.0" height="1.2" fill="#908e7a"/><rect x="323.6" y="173.5" width="10.0" height="1.2" fill="#94917a"/><rect x="323.6" y="174.6" width="10.0" height="1.2" fill="#8f8d7b"/><rect x="323.6" y="175.7" width="10.0" height="1.2" fill="#3e4d80"/><rect x="323.6" y="176.9" width="10.0" height="1.2" fill="#707380"/><rect x="323.6" y="178.0" width="10.0" height="1.2" fill="#7f7f7e"/><rect x="323.6" y="179.1" width="10.0" height="1.2" fill="#616982"/><rect x="323.6" y="180.2" width="10.0" height="1.2" fill="#6c7080"/><rect x="323.6" y="181.3" width="10.0" height="1.2" fill="#9d9978"/><rect x="323.6" y="182.4" width="10.0" height="1.2" fill="#7c7c7e"/><rect x="323.6" y="183.5" width="10.0" height="1.2" fill="#aba475"/><rect x="323.6" y="184.6" width="10.0" height="1.2" fill="#7a7a7e"/><rect x="323.6" y="185.7" width="10.0" height="1.2" fill="#3d4b80"/><rect x="323.6" y="186.8" width="10.0" height="1.2" fill="#9e9978"/><rect x="323.6" y="187.9" width="10.0" height="1.2" fill="#a29d77"/><rect x="323.6" y="189.0" width="10.0" height="1.2" fill="#83827d"/><rect x="323.6" y="190.1" width="10.0" height="1.2" fill="#4e5984"/><rect x="323.6" y="191.2" width="10.0" height="1.2" fill="#959279"/><rect x="323.6" y="192.3" width="10.0" height="1.2" fill="#525d83"/><rect x="323.6" y="193.4" width="10.0" height="1.2" fill="#72747f"/><rect x="323.6" y="194.5" width="10.0" height="1.2" fill="#4f5b84"/><rect x="333.6" y="157.0" width="10.0" height="1.2" fill="#515c83"/><rect x="333.6" y="158.1" width="10.0" height="1.2" fill="#545e83"/><rect x="333.6" y="159.2" width="10.0" height="1.2" fill="#73757f"/><rect x="333.6" y="160.3" width="10.0" height="1.2" fill="#676d81"/><rect x="333.6" y="161.4" width="10.0" height="1.2" fill="#4f5a84"/><rect x="333.6" y="162.5" width="10.0" height="1.2" fill="#4c5784"/><rect x="333.6" y="163.6" width="10.0" height="1.2" fill="#596283"/><rect x="333.6" y="164.7" width="10.0" height="1.2" fill="#535d83"/><rect x="333.6" y="165.8" width="10.0" height="1.2" fill="#3b4a7f"/><rect x="333.6" y="166.9" width="10.0" height="1.2" fill="#626a82"/><rect x="333.6" y="168.0" width="10.0" height="1.2" fill="#4e5a84"/><rect x="333.6" y="169.1" width="10.0" height="1.2" fill="#5e6682"/><rect x="333.6" y="170.2" width="10.0" height="1.2" fill="#293a77"/><rect x="333.6" y="171.3" width="10.0" height="1.2" fill="#2a3c79"/><rect x="333.6" y="172.4" width="10.0" height="1.2" fill="#70737f"/><rect x="333.6" y="173.5" width="10.0" height="1.2" fill="#626a82"/><rect x="333.6" y="174.6" width="10.0" height="1.2" fill="#7f7f7e"/><rect x="333.6" y="175.7" width="10.0" height="1.2" fill="#21316a"/><rect x="333.6" y="176.9" width="10.0" height="1.2" fill="#22326c"/><rect x="333.6" y="178.0" width="10.0" height="1.2" fill="#3e4d80"/><rect x="333.6" y="179.1" width="10.0" height="1.2" fill="#2f407c"/><rect x="333.6" y="180.2" width="10.0" height="1.2" fill="#7a7a7e"/><rect x="333.6" y="181.3" width="10.0" height="1.2" fill="#918f7a"/><rect x="333.6" y="182.4" width="10.0" height="1.2" fill="#7d7d7e"/><rect x="333.6" y="183.5" width="10.0" height="1.2" fill="#30417c"/><rect x="333.6" y="184.6" width="10.0" height="1.2" fill="#253570"/><rect x="333.6" y="185.7" width="10.0" height="1.2" fill="#263672"/><rect x="333.6" y="186.8" width="10.0" height="1.2" fill="#39487f"/><rect x="333.6" y="187.9" width="10.0" height="1.2" fill="#4e5a84"/><rect x="333.6" y="189.0" width="10.0" height="1.2" fill="#5d6682"/><rect x="333.6" y="190.1" width="10.0" height="1.2" fill="#666c81"/><rect x="333.6" y="191.2" width="10.0" height="1.2" fill="#4d5884"/><rect x="333.6" y="192.3" width="10.0" height="1.2" fill="#5b6483"/><rect x="333.6" y="193.4" width="10.0" height="1.2" fill="#586283"/><rect x="333.6" y="194.5" width="10.0" height="1.2" fill="#586283"/><rect x="343.7" y="157.0" width="10.0" height="1.2" fill="#94917a"/><rect x="343.7" y="158.1" width="10.0" height="1.2" fill="#9b9878"/><rect x="343.7" y="159.2" width="10.0" height="1.2" fill="#a9a375"/><rect x="343.7" y="160.3" width="10.0" height="1.2" fill="#979479"/><rect x="343.7" y="161.4" width="10.0" height="1.2" fill="#a39e77"/><rect x="343.7" y="162.5" width="10.0" height="1.2" fill="#9e9a78"/><rect x="343.7" y="163.6" width="10.0" height="1.2" fill="#b0a872"/><rect x="343.7" y="164.7" width="10.0" height="1.2" fill="#9b9778"/><rect x="343.7" y="165.8" width="10.0" height="1.2" fill="#7d7d7e"/><rect x="343.7" y="166.9" width="10.0" height="1.2" fill="#beb36c"/><rect x="343.7" y="168.0" width="10.0" height="1.2" fill="#9a9678"/><rect x="343.7" y="169.1" width="10.0" height="1.2" fill="#a8a276"/><rect x="343.7" y="170.2" width="10.0" height="1.2" fill="#9b9778"/><rect x="343.7" y="171.3" width="10.0" height="1.2" fill="#94927a"/><rect x="343.7" y="172.4" width="10.0" height="1.2" fill="#9f9b78"/><rect x="343.7" y="173.5" width="10.0" height="1.2" fill="#4a5684"/><rect x="343.7" y="174.6" width="10.0" height="1.2" fill="#555f83"/><rect x="343.7" y="175.7" width="10.0" height="1.2" fill="#85847d"/><rect x="343.7" y="176.9" width="10.0" height="1.2" fill="#87867c"/><rect x="343.7" y="178.0" width="10.0" height="1.2" fill="#a09b77"/><rect x="343.7" y="179.1" width="10.0" height="1.2" fill="#9c9878"/><rect x="343.7" y="180.2" width="10.0" height="1.2" fill="#a7a176"/><rect x="343.7" y="181.3" width="10.0" height="1.2" fill="#bbb16d"/><rect x="343.7" y="182.4" width="10.0" height="1.2" fill="#b4ab70"/><rect x="343.7" y="183.5" width="10.0" height="1.2" fill="#9d9978"/><rect x="343.7" y="184.6" width="10.0" height="1.2" fill="#999679"/><rect x="343.7" y="185.7" width="10.0" height="1.2" fill="#8a887c"/><rect x="343.7" y="186.8" width="10.0" height="1.2" fill="#a9a375"/><rect x="343.7" y="187.9" width="10.0" height="1.2" fill="#a39e77"/><rect x="343.7" y="189.0" width="10.0" height="1.2" fill="#9d9978"/><rect x="343.7" y="190.1" width="10.0" height="1.2" fill="#8d8c7b"/><rect x="343.7" y="191.2" width="10.0" height="1.2" fill="#77787e"/><rect x="343.7" y="192.3" width="10.0" height="1.2" fill="#999679"/><rect x="343.7" y="193.4" width="10.0" height="1.2" fill="#8e8c7b"/><rect x="343.7" y="194.5" width="10.0" height="1.2" fill="#92907a"/><rect x="353.7" y="157.0" width="10.0" height="1.2" fill="#84837d"/><rect x="353.7" y="158.1" width="10.0" height="1.2" fill="#9d9978"/><rect x="353.7" y="159.2" width="10.0" height="1.2" fill="#81817d"/><rect x="353.7" y="160.3" width="10.0" height="1.2" fill="#89887c"/><rect x="353.7" y="161.4" width="10.0" height="1.2" fill="#87867c"/><rect x="353.7" y="162.5" width="10.0" height="1.2" fill="#a19c77"/><rect x="353.7" y="163.6" width="10.0" height="1.2" fill="#7b7b7e"/><rect x="353.7" y="164.7" width="10.0" height="1.2" fill="#81817d"/><rect x="353.7" y="165.8" width="10.0" height="1.2" fill="#86857c"/><rect x="353.7" y="166.9" width="10.0" height="1.2" fill="#b2aa71"/><rect x="353.7" y="168.0" width="10.0" height="1.2" fill="#89877c"/><rect x="353.7" y="169.1" width="10.0" height="1.2" fill="#999679"/><rect x="353.7" y="170.2" width="10.0" height="1.2" fill="#71747f"/><rect x="353.7" y="171.3" width="10.0" height="1.2" fill="#7d7d7e"/><rect x="353.7" y="172.4" width="10.0" height="1.2" fill="#a7a176"/><rect x="353.7" y="173.5" width="10.0" height="1.2" fill="#84847d"/><rect x="353.7" y="174.6" width="10.0" height="1.2" fill="#b2aa71"/><rect x="353.7" y="175.7" width="10.0" height="1.2" fill="#78787e"/><rect x="353.7" y="176.9" width="10.0" height="1.2" fill="#7a7a7e"/><rect x="353.7" y="178.0" width="10.0" height="1.2" fill="#86857c"/><rect x="353.7" y="179.1" width="10.0" height="1.2" fill="#999579"/><rect x="353.7" y="180.2" width="10.0" height="1.2" fill="#9a9778"/><rect x="353.7" y="181.3" width="10.0" height="1.2" fill="#b5ab70"/><rect x="353.7" y="182.4" width="10.0" height="1.2" fill="#979479"/><rect x="353.7" y="183.5" width="10.0" height="1.2" fill="#89887c"/><rect x="353.7" y="184.6" width="10.0" height="1.2" fill="#686e81"/><rect x="353.7" y="185.7" width="10.0" height="1.2" fill="#7b7b7e"/><rect x="353.7" y="186.8" width="10.0" height="1.2" fill="#a5a076"/><rect x="353.7" y="187.9" width="10.0" height="1.2" fill="#a09c77"/><rect x="353.7" y="189.0" width="10.0" height="1.2" fill="#a6a076"/><rect x="353.7" y="190.1" width="10.0" height="1.2" fill="#8b897b"/><rect x="353.7" y="191.2" width="10.0" height="1.2" fill="#79797e"/><rect x="353.7" y="192.3" width="10.0" height="1.2" fill="#8d8b7b"/><rect x="353.7" y="193.4" width="10.0" height="1.2" fill="#83827d"/><rect x="353.7" y="194.5" width="10.0" height="1.2" fill="#7a7a7e"/><rect x="363.7" y="157.0" width="10.0" height="1.2" fill="#b0a872"/><rect x="363.7" y="158.1" width="10.0" height="1.2" fill="#aaa375"/><rect x="363.7" y="159.2" width="10.0" height="1.2" fill="#979479"/><rect x="363.7" y="160.3" width="10.0" height="1.2" fill="#9c9878"/><rect x="363.7" y="161.4" width="10.0" height="1.2" fill="#999579"/><rect x="363.7" y="162.5" width="10.0" height="1.2" fill="#a7a176"/><rect x="363.7" y="163.6" width="10.0" height="1.2" fill="#b0a872"/><rect x="363.7" y="164.7" width="10.0" height="1.2" fill="#76777e"/><rect x="363.7" y="165.8" width="10.0" height="1.2" fill="#9b9778"/><rect x="363.7" y="166.9" width="10.0" height="1.2" fill="#c1b66a"/><rect x="363.7" y="168.0" width="10.0" height="1.2" fill="#8e8c7b"/><rect x="363.7" y="169.1" width="10.0" height="1.2" fill="#89887c"/><rect x="363.7" y="170.2" width="10.0" height="1.2" fill="#a09b77"/><rect x="363.7" y="171.3" width="10.0" height="1.2" fill="#a09c77"/><rect x="363.7" y="172.4" width="10.0" height="1.2" fill="#a5a076"/><rect x="363.7" y="173.5" width="10.0" height="1.2" fill="#93907a"/><rect x="363.7" y="174.6" width="10.0" height="1.2" fill="#a29d77"/><rect x="363.7" y="175.7" width="10.0" height="1.2" fill="#9a9678"/><rect x="363.7" y="176.9" width="10.0" height="1.2" fill="#9d9978"/><rect x="363.7" y="178.0" width="10.0" height="1.2" fill="#cdbf65"/><rect x="363.7" y="179.1" width="10.0" height="1.2" fill="#a49f77"/><rect x="363.7" y="180.2" width="10.0" height="1.2" fill="#a29d77"/><rect x="363.7" y="181.3" width="10.0" height="1.2" fill="#928f7a"/><rect x="363.7" y="182.4" width="10.0" height="1.2" fill="#b0a872"/><rect x="363.7" y="183.5" width="10.0" height="1.2" fill="#a19c77"/><rect x="363.7" y="184.6" width="10.0" height="1.2" fill="#92907a"/><rect x="363.7" y="185.7" width="10.0" height="1.2" fill="#85847d"/><rect x="363.7" y="186.8" width="10.0" height="1.2" fill="#b1a872"/><rect x="363.7" y="187.9" width="10.0" height="1.2" fill="#94927a"/><rect x="363.7" y="189.0" width="10.0" height="1.2" fill="#a7a276"/><rect x="363.7" y="190.1" width="10.0" height="1.2" fill="#94927a"/><rect x="363.7" y="191.2" width="10.0" height="1.2" fill="#918f7a"/><rect x="363.7" y="192.3" width="10.0" height="1.2" fill="#a6a076"/><rect x="363.7" y="193.4" width="10.0" height="1.2" fill="#979479"/><rect x="363.7" y="194.5" width="10.0" height="1.2" fill="#a49f77"/><rect x="373.7" y="157.0" width="10.0" height="1.2" fill="#7c7c7e"/><rect x="373.7" y="158.1" width="10.0" height="1.2" fill="#73757f"/><rect x="373.7" y="159.2" width="10.0" height="1.2" fill="#78787e"/><rect x="373.7" y="160.3" width="10.0" height="1.2" fill="#3c4b80"/><rect x="373.7" y="161.4" width="10.0" height="1.2" fill="#455282"/><rect x="373.7" y="162.5" width="10.0" height="1.2" fill="#37477e"/><rect x="373.7" y="163.6" width="10.0" height="1.2" fill="#535d83"/><rect x="373.7" y="164.7" width="10.0" height="1.2" fill="#445182"/><rect x="373.7" y="165.8" width="10.0" height="1.2" fill="#273875"/><rect x="373.7" y="166.9" width="10.0" height="1.2" fill="#475383"/><rect x="373.7" y="168.0" width="10.0" height="1.2" fill="#606882"/><rect x="373.7" y="169.1" width="10.0" height="1.2" fill="#75767f"/><rect x="373.7" y="170.2" width="10.0" height="1.2" fill="#71747f"/><rect x="373.7" y="171.3" width="10.0" height="1.2" fill="#75767e"/><rect x="373.7" y="172.4" width="10.0" height="1.2" fill="#7b7b7e"/><rect x="373.7" y="173.5" width="10.0" height="1.2" fill="#6d7180"/><rect x="373.7" y="174.6" width="10.0" height="1.2" fill="#80807e"/><rect x="373.7" y="175.7" width="10.0" height="1.2" fill="#535e83"/><rect x="373.7" y="176.9" width="10.0" height="1.2" fill="#4c5884"/><rect x="373.7" y="178.0" width="10.0" height="1.2" fill="#73757f"/><rect x="373.7" y="179.1" width="10.0" height="1.2" fill="#4c5884"/><rect x="373.7" y="180.2" width="10.0" height="1.2" fill="#9e9978"/><rect x="373.7" y="181.3" width="10.0" height="1.2" fill="#989479"/><rect x="373.7" y="182.4" width="10.0" height="1.2" fill="#8f8d7b"/><rect x="373.7" y="183.5" width="10.0" height="1.2" fill="#78787e"/><rect x="373.7" y="184.6" width="10.0" height="1.2" fill="#6b7080"/><rect x="373.7" y="185.7" width="10.0" height="1.2" fill="#696f81"/><rect x="373.7" y="186.8" width="10.0" height="1.2" fill="#7e7e7e"/><rect x="373.7" y="187.9" width="10.0" height="1.2" fill="#79797e"/><rect x="373.7" y="189.0" width="10.0" height="1.2" fill="#7e7e7e"/><rect x="373.7" y="190.1" width="10.0" height="1.2" fill="#30417c"/><rect x="373.7" y="191.2" width="10.0" height="1.2" fill="#273975"/><rect x="373.7" y="192.3" width="10.0" height="1.2" fill="#3d4c80"/><rect x="373.7" y="193.4" width="10.0" height="1.2" fill="#475483"/><rect x="373.7" y="194.5" width="10.0" height="1.2" fill="#465283"/><rect x="383.8" y="157.0" width="10.0" height="1.2" fill="#23336e"/><rect x="383.8" y="158.1" width="10.0" height="1.2" fill="#36467e"/><rect x="383.8" y="159.2" width="10.0" height="1.2" fill="#33437d"/><rect x="383.8" y="160.3" width="10.0" height="1.2" fill="#213069"/><rect x="383.8" y="161.4" width="10.0" height="1.2" fill="#1f2e67"/><rect x="383.8" y="162.5" width="10.0" height="1.2" fill="#263773"/><rect x="383.8" y="163.6" width="10.0" height="1.2" fill="#3a497f"/><rect x="383.8" y="164.7" width="10.0" height="1.2" fill="#24346f"/><rect x="383.8" y="165.8" width="10.0" height="1.2" fill="#23336e"/><rect x="383.8" y="166.9" width="10.0" height="1.2" fill="#3c4b80"/><rect x="383.8" y="168.0" width="10.0" height="1.2" fill="#1e2c64"/><rect x="383.8" y="169.1" width="10.0" height="1.2" fill="#24346e"/><rect x="383.8" y="170.2" width="10.0" height="1.2" fill="#213069"/><rect x="383.8" y="171.3" width="10.0" height="1.2" fill="#273874"/><rect x="383.8" y="172.4" width="10.0" height="1.2" fill="#293b78"/><rect x="383.8" y="173.5" width="10.0" height="1.2" fill="#30417c"/><rect x="383.8" y="174.6" width="10.0" height="1.2" fill="#2c3e7b"/><rect x="383.8" y="175.7" width="10.0" height="1.2" fill="#475483"/><rect x="383.8" y="176.9" width="10.0" height="1.2" fill="#435082"/><rect x="383.8" y="178.0" width="10.0" height="1.2" fill="#3c4b80"/><rect x="383.8" y="179.1" width="10.0" height="1.2" fill="#35457e"/><rect x="383.8" y="180.2" width="10.0" height="1.2" fill="#31427c"/><rect x="383.8" y="181.3" width="10.0" height="1.2" fill="#3d4b80"/><rect x="383.8" y="182.4" width="10.0" height="1.2" fill="#35457e"/><rect x="383.8" y="183.5" width="10.0" height="1.2" fill="#273774"/><rect x="383.8" y="184.6" width="10.0" height="1.2" fill="#22316b"/><rect x="383.8" y="185.7" width="10.0" height="1.2" fill="#404e81"/><rect x="383.8" y="186.8" width="10.0" height="1.2" fill="#5f6782"/><rect x="383.8" y="187.9" width="10.0" height="1.2" fill="#5c6583"/><rect x="383.8" y="189.0" width="10.0" height="1.2" fill="#5a6383"/><rect x="383.8" y="190.1" width="10.0" height="1.2" fill="#1e2c64"/><rect x="383.8" y="191.2" width="10.0" height="1.2" fill="#22316b"/><rect x="383.8" y="192.3" width="10.0" height="1.2" fill="#21316a"/><rect x="383.8" y="193.4" width="10.0" height="1.2" fill="#24346f"/><rect x="383.8" y="194.5" width="10.0" height="1.2" fill="#34447d"/><rect x="323.60" y="157.00" width="70.20" height="38.60" fill="none" stroke="#1a1a1a" stroke-width="0.8"/><rect x="323.60" y="202.80" width="70.20" height="9.90" fill="#2a2a2a"/><rect x="323.6" y="202.8" width="10.0" height="1.2" fill="#2b3d7a"/><rect x="323.6" y="203.9" width="10.0" height="1.2" fill="#2c3e7b"/><rect x="323.6" y="205.0" width="10.0" height="1.2" fill="#36467e"/><rect x="323.6" y="206.1" width="10.0" height="1.2" fill="#2d3e7b"/><rect x="323.6" y="207.2" width="10.0" height="1.2" fill="#646b82"/><rect x="323.6" y="208.3" width="10.0" height="1.2" fill="#4b5784"/><rect x="323.6" y="209.4" width="10.0" height="1.2" fill="#71737f"/><rect x="323.6" y="210.5" width="10.0" height="1.2" fill="#31427c"/><rect x="323.6" y="211.6" width="10.0" height="1.2" fill="#263773"/><rect x="333.6" y="202.8" width="10.0" height="1.2" fill="#38477e"/><rect x="333.6" y="203.9" width="10.0" height="1.2" fill="#3d4c80"/><rect x="333.6" y="205.0" width="10.0" height="1.2" fill="#414e81"/><rect x="333.6" y="206.1" width="10.0" height="1.2" fill="#3c4b80"/><rect x="333.6" y="207.2" width="10.0" height="1.2" fill="#70737f"/><rect x="333.6" y="208.3" width="10.0" height="1.2" fill="#414f81"/><rect x="333.6" y="209.4" width="10.0" height="1.2" fill="#445182"/><rect x="333.6" y="210.5" width="10.0" height="1.2" fill="#33437d"/><rect x="333.6" y="211.6" width="10.0" height="1.2" fill="#23326c"/><rect x="343.7" y="202.8" width="10.0" height="1.2" fill="#969379"/><rect x="343.7" y="203.9" width="10.0" height="1.2" fill="#9b9778"/><rect x="343.7" y="205.0" width="10.0" height="1.2" fill="#a29d77"/><rect x="343.7" y="206.1" width="10.0" height="1.2" fill="#a7a176"/><rect x="343.7" y="207.2" width="10.0" height="1.2" fill="#a29d77"/><rect x="343.7" y="208.3" width="10.0" height="1.2" fill="#989579"/><rect x="343.7" y="209.4" width="10.0" height="1.2" fill="#b8ae6e"/><rect x="343.7" y="210.5" width="10.0" height="1.2" fill="#928f7a"/><rect x="343.7" y="211.6" width="10.0" height="1.2" fill="#72747f"/><rect x="353.7" y="202.8" width="10.0" height="1.2" fill="#9c9878"/><rect x="353.7" y="203.9" width="10.0" height="1.2" fill="#9b9778"/><rect x="353.7" y="205.0" width="10.0" height="1.2" fill="#9d9978"/><rect x="353.7" y="206.1" width="10.0" height="1.2" fill="#a29d77"/><rect x="353.7" y="207.2" width="10.0" height="1.2" fill="#a49e77"/><rect x="353.7" y="208.3" width="10.0" height="1.2" fill="#7d7d7e"/><rect x="353.7" y="209.4" width="10.0" height="1.2" fill="#979479"/><rect x="353.7" y="210.5" width="10.0" height="1.2" fill="#83827d"/><rect x="353.7" y="211.6" width="10.0" height="1.2" fill="#7e7e7e"/><rect x="363.7" y="202.8" width="10.0" height="1.2" fill="#a29d77"/><rect x="363.7" y="203.9" width="10.0" height="1.2" fill="#a9a376"/><rect x="363.7" y="205.0" width="10.0" height="1.2" fill="#aba475"/><rect x="363.7" y="206.1" width="10.0" height="1.2" fill="#a39e77"/><rect x="363.7" y="207.2" width="10.0" height="1.2" fill="#a39e77"/><rect x="363.7" y="208.3" width="10.0" height="1.2" fill="#84837d"/><rect x="363.7" y="209.4" width="10.0" height="1.2" fill="#ada674"/><rect x="363.7" y="210.5" width="10.0" height="1.2" fill="#959279"/><rect x="363.7" y="211.6" width="10.0" height="1.2" fill="#92907a"/><rect x="373.7" y="202.8" width="10.0" height="1.2" fill="#afa773"/><rect x="373.7" y="203.9" width="10.0" height="1.2" fill="#afa773"/><rect x="373.7" y="205.0" width="10.0" height="1.2" fill="#beb36c"/><rect x="373.7" y="206.1" width="10.0" height="1.2" fill="#afa772"/><rect x="373.7" y="207.2" width="10.0" height="1.2" fill="#d4c560"/><rect x="373.7" y="208.3" width="10.0" height="1.2" fill="#a09b77"/><rect x="373.7" y="209.4" width="10.0" height="1.2" fill="#c6ba68"/><rect x="373.7" y="210.5" width="10.0" height="1.2" fill="#b1a872"/><rect x="373.7" y="211.6" width="10.0" height="1.2" fill="#9e9a78"/><rect x="383.8" y="202.8" width="10.0" height="1.2" fill="#9f9b78"/><rect x="383.8" y="203.9" width="10.0" height="1.2" fill="#a29d77"/><rect x="383.8" y="205.0" width="10.0" height="1.2" fill="#b7ad6f"/><rect x="383.8" y="206.1" width="10.0" height="1.2" fill="#86857c"/><rect x="383.8" y="207.2" width="10.0" height="1.2" fill="#999579"/><rect x="383.8" y="208.3" width="10.0" height="1.2" fill="#586283"/><rect x="383.8" y="209.4" width="10.0" height="1.2" fill="#8c8b7b"/><rect x="383.8" y="210.5" width="10.0" height="1.2" fill="#75767e"/><rect x="383.8" y="211.6" width="10.0" height="1.2" fill="#6a6f81"/><rect x="323.60" y="202.80" width="70.20" height="9.90" fill="none" stroke="#1a1a1a" stroke-width="0.8"/><rect x="323.60" y="221.00" width="70.20" height="21.00" fill="#2a2a2a"/><rect x="323.6" y="221.0" width="10.0" height="1.2" fill="#7e7e7e"/><rect x="323.6" y="222.1" width="10.0" height="1.2" fill="#81817d"/><rect x="323.6" y="223.2" width="10.0" height="1.2" fill="#72747f"/><rect x="323.6" y="224.3" width="10.0" height="1.2" fill="#9c9878"/><rect x="323.6" y="225.4" width="10.0" height="1.2" fill="#999679"/><rect x="323.6" y="226.5" width="10.0" height="1.2" fill="#9d9978"/><rect x="323.6" y="227.6" width="10.0" height="1.2" fill="#3f4d81"/><rect x="323.6" y="228.7" width="10.0" height="1.2" fill="#22326c"/><rect x="323.6" y="229.8" width="10.0" height="1.2" fill="#414f81"/><rect x="323.6" y="230.9" width="10.0" height="1.2" fill="#1e2c64"/><rect x="323.6" y="232.1" width="10.0" height="1.2" fill="#2d3f7b"/><rect x="323.6" y="233.2" width="10.0" height="1.2" fill="#263672"/><rect x="323.6" y="234.3" width="10.0" height="1.2" fill="#283976"/><rect x="323.6" y="235.4" width="10.0" height="1.2" fill="#2a3b79"/><rect x="323.6" y="236.5" width="10.0" height="1.2" fill="#5f6782"/><rect x="323.6" y="237.6" width="10.0" height="1.2" fill="#455282"/><rect x="323.6" y="238.7" width="10.0" height="1.2" fill="#686e81"/><rect x="323.6" y="239.8" width="10.0" height="1.2" fill="#1e2c64"/><rect x="323.6" y="240.9" width="10.0" height="1.2" fill="#2a3b79"/><rect x="333.6" y="221.0" width="10.0" height="1.2" fill="#6d7180"/><rect x="333.6" y="222.1" width="10.0" height="1.2" fill="#6d7180"/><rect x="333.6" y="223.2" width="10.0" height="1.2" fill="#86857c"/><rect x="333.6" y="224.3" width="10.0" height="1.2" fill="#80807e"/><rect x="333.6" y="225.4" width="10.0" height="1.2" fill="#34447d"/><rect x="333.6" y="226.5" width="10.0" height="1.2" fill="#33437d"/><rect x="333.6" y="227.6" width="10.0" height="1.2" fill="#3d4b80"/><rect x="333.6" y="228.7" width="10.0" height="1.2" fill="#253570"/><rect x="333.6" y="229.8" width="10.0" height="1.2" fill="#35457d"/><rect x="333.6" y="230.9" width="10.0" height="1.2" fill="#1e2c64"/><rect x="333.6" y="232.1" width="10.0" height="1.2" fill="#2b3c7a"/><rect x="333.6" y="233.2" width="10.0" height="1.2" fill="#273875"/><rect x="333.6" y="234.3" width="10.0" height="1.2" fill="#263773"/><rect x="333.6" y="235.4" width="10.0" height="1.2" fill="#2a3b79"/><rect x="333.6" y="236.5" width="10.0" height="1.2" fill="#7e7e7e"/><rect x="333.6" y="237.6" width="10.0" height="1.2" fill="#6d7180"/><rect x="333.6" y="238.7" width="10.0" height="1.2" fill="#8a897c"/><rect x="333.6" y="239.8" width="10.0" height="1.2" fill="#71747f"/><rect x="333.6" y="240.9" width="10.0" height="1.2" fill="#7c7c7e"/><rect x="343.7" y="221.0" width="10.0" height="1.2" fill="#908e7a"/><rect x="343.7" y="222.1" width="10.0" height="1.2" fill="#9c9878"/><rect x="343.7" y="223.2" width="10.0" height="1.2" fill="#a29d77"/><rect x="343.7" y="224.3" width="10.0" height="1.2" fill="#a49e77"/><rect x="343.7" y="225.4" width="10.0" height="1.2" fill="#b4ab70"/><rect x="343.7" y="226.5" width="10.0" height="1.2" fill="#a09c77"/><rect x="343.7" y="227.6" width="10.0" height="1.2" fill="#b1a971"/><rect x="343.7" y="228.7" width="10.0" height="1.2" fill="#76777e"/><rect x="343.7" y="229.8" width="10.0" height="1.2" fill="#93907a"/><rect x="343.7" y="230.9" width="10.0" height="1.2" fill="#71737f"/><rect x="343.7" y="232.1" width="10.0" height="1.2" fill="#94917a"/><rect x="343.7" y="233.2" width="10.0" height="1.2" fill="#86857c"/><rect x="343.7" y="234.3" width="10.0" height="1.2" fill="#8f8d7b"/><rect x="343.7" y="235.4" width="10.0" height="1.2" fill="#94927a"/><rect x="343.7" y="236.5" width="10.0" height="1.2" fill="#9c9878"/><rect x="343.7" y="237.6" width="10.0" height="1.2" fill="#9c9878"/><rect x="343.7" y="238.7" width="10.0" height="1.2" fill="#a8a276"/><rect x="343.7" y="239.8" width="10.0" height="1.2" fill="#959379"/><rect x="343.7" y="240.9" width="10.0" height="1.2" fill="#7e7e7e"/><rect x="353.7" y="221.0" width="10.0" height="1.2" fill="#7d7d7e"/><rect x="353.7" y="222.1" width="10.0" height="1.2" fill="#a7a176"/><rect x="353.7" y="223.2" width="10.0" height="1.2" fill="#969379"/><rect x="353.7" y="224.3" width="10.0" height="1.2" fill="#969379"/><rect x="353.7" y="225.4" width="10.0" height="1.2" fill="#94917a"/><rect x="353.7" y="226.5" width="10.0" height="1.2" fill="#969379"/><rect x="353.7" y="227.6" width="10.0" height="1.2" fill="#94917a"/><rect x="353.7" y="228.7" width="10.0" height="1.2" fill="#74757f"/><rect x="353.7" y="229.8" width="10.0" height="1.2" fill="#9a9679"/><rect x="353.7" y="230.9" width="10.0" height="1.2" fill="#666d81"/><rect x="353.7" y="232.1" width="10.0" height="1.2" fill="#969379"/><rect x="353.7" y="233.2" width="10.0" height="1.2" fill="#7b7b7e"/><rect x="353.7" y="234.3" width="10.0" height="1.2" fill="#8a887c"/><rect x="353.7" y="235.4" width="10.0" height="1.2" fill="#908e7a"/><rect x="353.7" y="236.5" width="10.0" height="1.2" fill="#969379"/><rect x="353.7" y="237.6" width="10.0" height="1.2" fill="#7e7e7e"/><rect x="353.7" y="238.7" width="10.0" height="1.2" fill="#a8a276"/><rect x="353.7" y="239.8" width="10.0" height="1.2" fill="#656c81"/><rect x="353.7" y="240.9" width="10.0" height="1.2" fill="#7a7a7e"/><rect x="363.7" y="221.0" width="10.0" height="1.2" fill="#77777e"/><rect x="363.7" y="222.1" width="10.0" height="1.2" fill="#94917a"/><rect x="363.7" y="223.2" width="10.0" height="1.2" fill="#8d8b7b"/><rect x="363.7" y="224.3" width="10.0" height="1.2" fill="#908e7a"/><rect x="363.7" y="225.4" width="10.0" height="1.2" fill="#8e8c7b"/><rect x="363.7" y="226.5" width="10.0" height="1.2" fill="#79797e"/><rect x="363.7" y="227.6" width="10.0" height="1.2" fill="#84837d"/><rect x="363.7" y="228.7" width="10.0" height="1.2" fill="#79797e"/><rect x="363.7" y="229.8" width="10.0" height="1.2" fill="#8e8c7b"/><rect x="363.7" y="230.9" width="10.0" height="1.2" fill="#6b7080"/><rect x="363.7" y="232.1" width="10.0" height="1.2" fill="#87867c"/><rect x="363.7" y="233.2" width="10.0" height="1.2" fill="#86857c"/><rect x="363.7" y="234.3" width="10.0" height="1.2" fill="#807f7e"/><rect x="363.7" y="235.4" width="10.0" height="1.2" fill="#83827d"/><rect x="363.7" y="236.5" width="10.0" height="1.2" fill="#7c7c7e"/><rect x="363.7" y="237.6" width="10.0" height="1.2" fill="#83837d"/><rect x="363.7" y="238.7" width="10.0" height="1.2" fill="#9a9778"/><rect x="363.7" y="239.8" width="10.0" height="1.2" fill="#8c8a7b"/><rect x="363.7" y="240.9" width="10.0" height="1.2" fill="#7c7c7e"/><rect x="373.7" y="221.0" width="10.0" height="1.2" fill="#ada673"/><rect x="373.7" y="222.1" width="10.0" height="1.2" fill="#b8ae6e"/><rect x="373.7" y="223.2" width="10.0" height="1.2" fill="#a6a176"/><rect x="373.7" y="224.3" width="10.0" height="1.2" fill="#b3aa71"/><rect x="373.7" y="225.4" width="10.0" height="1.2" fill="#b9af6d"/><rect x="373.7" y="226.5" width="10.0" height="1.2" fill="#ada673"/><rect x="373.7" y="227.6" width="10.0" height="1.2" fill="#b2aa71"/><rect x="373.7" y="228.7" width="10.0" height="1.2" fill="#a6a176"/><rect x="373.7" y="229.8" width="10.0" height="1.2" fill="#b0a872"/><rect x="373.7" y="230.9" width="10.0" height="1.2" fill="#8a887c"/><rect x="373.7" y="232.1" width="10.0" height="1.2" fill="#a6a076"/><rect x="373.7" y="233.2" width="10.0" height="1.2" fill="#aba474"/><rect x="373.7" y="234.3" width="10.0" height="1.2" fill="#a49f77"/><rect x="373.7" y="235.4" width="10.0" height="1.2" fill="#b4ab70"/><rect x="373.7" y="236.5" width="10.0" height="1.2" fill="#aca574"/><rect x="373.7" y="237.6" width="10.0" height="1.2" fill="#a29d77"/><rect x="373.7" y="238.7" width="10.0" height="1.2" fill="#b5ac6f"/><rect x="373.7" y="239.8" width="10.0" height="1.2" fill="#9e9a78"/><rect x="373.7" y="240.9" width="10.0" height="1.2" fill="#9a9778"/><rect x="383.8" y="221.0" width="10.0" height="1.2" fill="#79797e"/><rect x="383.8" y="222.1" width="10.0" height="1.2" fill="#7a7a7e"/><rect x="383.8" y="223.2" width="10.0" height="1.2" fill="#7b7b7e"/><rect x="383.8" y="224.3" width="10.0" height="1.2" fill="#7e7e7e"/><rect x="383.8" y="225.4" width="10.0" height="1.2" fill="#84847d"/><rect x="383.8" y="226.5" width="10.0" height="1.2" fill="#253571"/><rect x="383.8" y="227.6" width="10.0" height="1.2" fill="#31427c"/><rect x="383.8" y="228.7" width="10.0" height="1.2" fill="#85847d"/><rect x="383.8" y="229.8" width="10.0" height="1.2" fill="#a09c77"/><rect x="383.8" y="230.9" width="10.0" height="1.2" fill="#6e7280"/><rect x="383.8" y="232.1" width="10.0" height="1.2" fill="#908e7a"/><rect x="383.8" y="233.2" width="10.0" height="1.2" fill="#656c82"/><rect x="383.8" y="234.3" width="10.0" height="1.2" fill="#7b7b7e"/><rect x="383.8" y="235.4" width="10.0" height="1.2" fill="#86857c"/><rect x="383.8" y="236.5" width="10.0" height="1.2" fill="#30417c"/><rect x="383.8" y="237.6" width="10.0" height="1.2" fill="#8f8d7b"/><rect x="383.8" y="238.7" width="10.0" height="1.2" fill="#a49f77"/><rect x="383.8" y="239.8" width="10.0" height="1.2" fill="#83827d"/><rect x="383.8" y="240.9" width="10.0" height="1.2" fill="#94927a"/><rect x="323.60" y="221.00" width="70.20" height="21.00" fill="none" stroke="#1a1a1a" stroke-width="0.8"/><rect x="323.60" y="248.80" width="70.20" height="13.00" fill="#2a2a2a"/><rect x="323.6" y="248.8" width="10.0" height="1.2" fill="#656c81"/><rect x="323.6" y="249.9" width="10.0" height="1.2" fill="#5e6782"/><rect x="323.6" y="251.0" width="10.0" height="1.2" fill="#616982"/><rect x="323.6" y="252.1" width="10.0" height="1.2" fill="#999679"/><rect x="323.6" y="253.1" width="10.0" height="1.2" fill="#9f9b78"/><rect x="323.6" y="254.2" width="10.0" height="1.2" fill="#94917a"/><rect x="323.6" y="255.3" width="10.0" height="1.2" fill="#6a6f80"/><rect x="323.6" y="256.4" width="10.0" height="1.2" fill="#5e6682"/><rect x="323.6" y="257.5" width="10.0" height="1.2" fill="#7c7c7e"/><rect x="323.6" y="258.6" width="10.0" height="1.2" fill="#70737f"/><rect x="323.6" y="259.6" width="10.0" height="1.2" fill="#94927a"/><rect x="323.6" y="260.7" width="10.0" height="1.2" fill="#626a82"/><rect x="333.6" y="248.8" width="10.0" height="1.2" fill="#455282"/><rect x="333.6" y="249.9" width="10.0" height="1.2" fill="#414f81"/><rect x="333.6" y="251.0" width="10.0" height="1.2" fill="#33437d"/><rect x="333.6" y="252.1" width="10.0" height="1.2" fill="#4e5984"/><rect x="333.6" y="253.1" width="10.0" height="1.2" fill="#7c7c7e"/><rect x="333.6" y="254.2" width="10.0" height="1.2" fill="#77777e"/><rect x="333.6" y="255.3" width="10.0" height="1.2" fill="#74757f"/><rect x="333.6" y="256.4" width="10.0" height="1.2" fill="#4e5a84"/><rect x="333.6" y="257.5" width="10.0" height="1.2" fill="#515c83"/><rect x="333.6" y="258.6" width="10.0" height="1.2" fill="#39487f"/><rect x="333.6" y="259.6" width="10.0" height="1.2" fill="#5d6682"/><rect x="333.6" y="260.7" width="10.0" height="1.2" fill="#35457d"/><rect x="343.7" y="248.8" width="10.0" height="1.2" fill="#908e7a"/><rect x="343.7" y="249.9" width="10.0" height="1.2" fill="#8d8b7b"/><rect x="343.7" y="251.0" width="10.0" height="1.2" fill="#969379"/><rect x="343.7" y="252.1" width="10.0" height="1.2" fill="#9d9978"/><rect x="343.7" y="253.1" width="10.0" height="1.2" fill="#9e9a78"/><rect x="343.7" y="254.2" width="10.0" height="1.2" fill="#81817d"/><rect x="343.7" y="255.3" width="10.0" height="1.2" fill="#9b9778"/><rect x="343.7" y="256.4" width="10.0" height="1.2" fill="#9f9b78"/><rect x="343.7" y="257.5" width="10.0" height="1.2" fill="#88877c"/><rect x="343.7" y="258.6" width="10.0" height="1.2" fill="#7d7d7e"/><rect x="343.7" y="259.6" width="10.0" height="1.2" fill="#aba474"/><rect x="343.7" y="260.7" width="10.0" height="1.2" fill="#8b897b"/><rect x="353.7" y="248.8" width="10.0" height="1.2" fill="#a29d77"/><rect x="353.7" y="249.9" width="10.0" height="1.2" fill="#928f7a"/><rect x="353.7" y="251.0" width="10.0" height="1.2" fill="#918f7a"/><rect x="353.7" y="252.1" width="10.0" height="1.2" fill="#979479"/><rect x="353.7" y="253.1" width="10.0" height="1.2" fill="#a29d77"/><rect x="353.7" y="254.2" width="10.0" height="1.2" fill="#8a897c"/><rect x="353.7" y="255.3" width="10.0" height="1.2" fill="#9c9878"/><rect x="353.7" y="256.4" width="10.0" height="1.2" fill="#a19c77"/><rect x="353.7" y="257.5" width="10.0" height="1.2" fill="#979479"/><rect x="353.7" y="258.6" width="10.0" height="1.2" fill="#81817d"/><rect x="353.7" y="259.6" width="10.0" height="1.2" fill="#a49f77"/><rect x="353.7" y="260.7" width="10.0" height="1.2" fill="#7f7f7e"/><rect x="363.7" y="248.8" width="10.0" height="1.2" fill="#a49f77"/><rect x="363.7" y="249.9" width="10.0" height="1.2" fill="#aaa375"/><rect x="363.7" y="251.0" width="10.0" height="1.2" fill="#a59f77"/><rect x="363.7" y="252.1" width="10.0" height="1.2" fill="#bab06d"/><rect x="363.7" y="253.1" width="10.0" height="1.2" fill="#9e9a78"/><rect x="363.7" y="254.2" width="10.0" height="1.2" fill="#989579"/><rect x="363.7" y="255.3" width="10.0" height="1.2" fill="#a19c77"/><rect x="363.7" y="256.4" width="10.0" height="1.2" fill="#afa872"/><rect x="363.7" y="257.5" width="10.0" height="1.2" fill="#baaf6d"/><rect x="363.7" y="258.6" width="10.0" height="1.2" fill="#9d9978"/><rect x="363.7" y="259.6" width="10.0" height="1.2" fill="#b5ac6f"/><rect x="363.7" y="260.7" width="10.0" height="1.2" fill="#a09b77"/><rect x="373.7" y="248.8" width="10.0" height="1.2" fill="#7f7f7e"/><rect x="373.7" y="249.9" width="10.0" height="1.2" fill="#959279"/><rect x="373.7" y="251.0" width="10.0" height="1.2" fill="#73757f"/><rect x="373.7" y="252.1" width="10.0" height="1.2" fill="#9d9978"/><rect x="373.7" y="253.1" width="10.0" height="1.2" fill="#9b9878"/><rect x="373.7" y="254.2" width="10.0" height="1.2" fill="#89887c"/><rect x="373.7" y="255.3" width="10.0" height="1.2" fill="#9d9978"/><rect x="373.7" y="256.4" width="10.0" height="1.2" fill="#92907a"/><rect x="373.7" y="257.5" width="10.0" height="1.2" fill="#9c9878"/><rect x="373.7" y="258.6" width="10.0" height="1.2" fill="#84837d"/><rect x="373.7" y="259.6" width="10.0" height="1.2" fill="#a6a176"/><rect x="373.7" y="260.7" width="10.0" height="1.2" fill="#969379"/><rect x="383.8" y="248.8" width="10.0" height="1.2" fill="#79797e"/><rect x="383.8" y="249.9" width="10.0" height="1.2" fill="#81817d"/><rect x="383.8" y="251.0" width="10.0" height="1.2" fill="#6c7080"/><rect x="383.8" y="252.1" width="10.0" height="1.2" fill="#485584"/><rect x="383.8" y="253.1" width="10.0" height="1.2" fill="#4a5684"/><rect x="383.8" y="254.2" width="10.0" height="1.2" fill="#33437d"/><rect x="383.8" y="255.3" width="10.0" height="1.2" fill="#445182"/><rect x="383.8" y="256.4" width="10.0" height="1.2" fill="#8f8d7b"/><rect x="383.8" y="257.5" width="10.0" height="1.2" fill="#88877c"/><rect x="383.8" y="258.6" width="10.0" height="1.2" fill="#72747f"/><rect x="383.8" y="259.6" width="10.0" height="1.2" fill="#908e7a"/><rect x="383.8" y="260.7" width="10.0" height="1.2" fill="#75767e"/><rect x="323.60" y="248.80" width="70.20" height="13.00" fill="none" stroke="#1a1a1a" stroke-width="0.8"/><rect x="83.40" y="29.30" width="17.00" height="47.50" fill="url(#sg0)"/><rect x="83.40" y="78.00" width="17.00" height="68.50" fill="url(#sg1)"/><rect x="83.40" y="147.50" width="17.00" height="28.00" fill="url(#sg2)"/><rect x="83.40" y="176.50" width="17.00" height="50.80" fill="url(#sg3)"/><rect x="83.40" y="228.50" width="17.00" height="38.50" fill="url(#sg4)"/><rect x="103.6" y="32.60" width="13.90" height="6.42" fill="#8d8dcf" stroke="#8a8a9a" stroke-width="0.5"/><rect x="103.6" y="39.62" width="12.40" height="6.42" fill="#a3a9e2" stroke="#8a8a9a" stroke-width="0.5"/><rect x="103.6" y="46.64" width="11.40" height="6.42" fill="#a9c9ea" stroke="#8a8a9a" stroke-width="0.5"/><rect x="103.6" y="53.66" width="17.40" height="6.42" fill="#b3dcea" stroke="#8a8a9a" stroke-width="0.5"/><rect x="103.6" y="60.68" width="7.00" height="6.42" fill="#c3dcea" stroke="#8a8a9a" stroke-width="0.5"/><rect x="103.6" y="32.30" width="23.6" height="35.10" fill="none" stroke="#7a7a7a" stroke-width="0.8"/><rect x="115.1" y="66.20" width="0.6" height="1.2" fill="#555"/><rect x="103.6" y="92.60" width="17.40" height="6.30" fill="#9d9ddb" stroke="#8a8a9a" stroke-width="0.5"/><rect x="103.6" y="99.50" width="19.40" height="6.30" fill="#b4d8f0" stroke="#8a8a9a" stroke-width="0.5"/><rect x="103.6" y="106.40" width="8.70" height="6.30" fill="#bcdcf0" stroke="#8a8a9a" stroke-width="0.5"/><rect x="103.6" y="113.30" width="7.10" height="6.30" fill="#a8d8e8" stroke="#8a8a9a" stroke-width="0.5"/><rect x="103.6" y="120.20" width="11.10" height="6.30" fill="#c8dcd8" stroke="#8a8a9a" stroke-width="0.5"/><rect x="103.6" y="92.30" width="23.6" height="34.50" fill="none" stroke="#7a7a7a" stroke-width="0.8"/><rect x="115.1" y="125.60" width="0.6" height="1.2" fill="#555"/><rect x="103.6" y="143.70" width="5.40" height="6.24" fill="#3a3a80" stroke="#8a8a9a" stroke-width="0.5"/><rect x="103.6" y="150.54" width="8.70" height="6.24" fill="#7070c8" stroke="#8a8a9a" stroke-width="0.5"/><rect x="103.6" y="157.38" width="4.10" height="6.24" fill="#7c7cd0" stroke="#8a8a9a" stroke-width="0.5"/><rect x="103.6" y="164.22" width="8.10" height="6.24" fill="#6a6ac0" stroke="#8a8a9a" stroke-width="0.5"/><rect x="103.6" y="171.06" width="4.70" height="6.24" fill="#7878c8" stroke="#8a8a9a" stroke-width="0.5"/><rect x="103.6" y="143.40" width="23.6" height="34.20" fill="none" stroke="#7a7a7a" stroke-width="0.8"/><rect x="115.1" y="176.40" width="0.6" height="1.2" fill="#555"/><rect x="103.6" y="186.10" width="11.10" height="6.44" fill="#2f3c80" stroke="#8a8a9a" stroke-width="0.5"/><rect x="103.6" y="193.14" width="8.70" height="6.44" fill="#2f3a78" stroke="#8a8a9a" stroke-width="0.5"/><rect x="103.6" y="200.18" width="9.00" height="6.44" fill="#34407c" stroke="#8a8a9a" stroke-width="0.5"/><rect x="103.6" y="207.22" width="11.40" height="6.44" fill="#4050b0" stroke="#8a8a9a" stroke-width="0.5"/><rect x="103.6" y="214.26" width="10.10" height="6.44" fill="#4048a0" stroke="#8a8a9a" stroke-width="0.5"/><rect x="103.6" y="185.80" width="23.6" height="35.20" fill="none" stroke="#7a7a7a" stroke-width="0.8"/><rect x="115.1" y="219.80" width="0.6" height="1.2" fill="#555"/><rect x="103.6" y="231.30" width="10.10" height="6.46" fill="#303c80" stroke="#8a8a9a" stroke-width="0.5"/><rect x="103.6" y="238.36" width="23.00" height="6.46" fill="#c0dde8" stroke="#8a8a9a" stroke-width="0.5"/><rect x="103.6" y="245.42" width="14.10" height="6.46" fill="#cde0ec" stroke="#8a8a9a" stroke-width="0.5"/><rect x="103.6" y="252.48" width="12.10" height="6.46" fill="#c8dde8" stroke="#8a8a9a" stroke-width="0.5"/><rect x="103.6" y="259.54" width="11.10" height="6.46" fill="#d0d8e0" stroke="#8a8a9a" stroke-width="0.5"/><rect x="103.6" y="231.00" width="23.6" height="35.30" fill="none" stroke="#7a7a7a" stroke-width="0.8"/><rect x="115.1" y="265.10" width="0.6" height="1.2" fill="#555"/></g>
<rect x="5" y="24" width="11" height="4.4" fill="#cae6f6"/><rect x="16" y="24" width="45" height="4.4" fill="url(#hga)"/><rect x="250.3" y="24" width="11.5" height="4.4" fill="#d0e8f6"/><rect x="261.8" y="24" width="39.5" height="4.4" fill="url(#hgc)"/><rect x="323.5" y="24.2" width="39.5" height="4.3" fill="#d6ecf8"/><rect x="363" y="24.2" width="22" height="4.3" fill="url(#hgo)"/><rect x="184" y="71.6" width="40.7" height="3.9" fill="url(#pv)"/><rect x="85.7" y="272.5" width="36" height="2.8" fill="url(#na)"/>
<g shape-rendering="auto" filter="url(#bt)"><text x="10.5" y="27.8" font-size="4" font-weight="bold" text-anchor="middle" fill="#1a2a3a">s</text><text x="38.7" y="27.7" font-size="3.0" font-weight="bold" text-anchor="middle" fill="#1a2a3a">Cleavage</text><text x="72" y="27.7" font-size="3.2" font-weight="bold" text-anchor="middle" fill="#1a2a3a">Release</text><text x="256" y="27.8" font-size="4" font-weight="bold" text-anchor="middle" fill="#1a2a3a">s</text><text x="281.3" y="27.7" font-size="3.05" font-weight="bold" text-anchor="middle" fill="#1a2a3a">Cleavage</text><text x="311" y="27.7" font-size="3.2" font-weight="bold" text-anchor="middle" fill="#1a2a3a">R</text><text x="344" y="27.8" font-size="3.45" font-weight="bold" text-anchor="middle" fill="#1a2a3a">Coenocyte growth</text><text x="373.7" y="27.8" font-size="3.1" font-weight="bold" text-anchor="middle" fill="#1a2a3a">Cellularization</text><text x="5" y="21.6" font-size="6.2" font-weight="bold" font-style="normal" text-anchor="start" fill="#000" stroke="#000" stroke-width="0.35">a</text><text x="24.4" y="22" font-size="4.92" font-weight="normal" font-style="normal" text-anchor="start" fill="#000">mRNA expression</text><text x="10.821428571428571" y="272.8" font-size="3.9" font-weight="normal" font-style="normal" text-anchor="middle" fill="#000" stroke="#000" stroke-width="0.1">54</text><text x="21.864285714285714" y="272.8" font-size="3.9" font-weight="normal" font-style="normal" text-anchor="middle" fill="#000" stroke="#000" stroke-width="0.1">72</text><text x="32.90714285714286" y="272.8" font-size="3.9" font-weight="normal" font-style="normal" text-anchor="middle" fill="#000" stroke="#000" stroke-width="0.1">84</text><text x="43.949999999999996" y="272.8" font-size="3.9" font-weight="normal" font-style="normal" text-anchor="middle" fill="#000" stroke="#000" stroke-width="0.1">90</text><text x="54.99285714285713" y="272.8" font-size="3.9" font-weight="normal" font-style="normal" text-anchor="middle" fill="#000" stroke="#000" stroke-width="0.1">96</text><text x="66.03571428571428" y="272.8" font-size="3.9" font-weight="normal" font-style="normal" text-anchor="middle" fill="#000" stroke="#000" stroke-width="0.1">104</text><text x="77.07857142857142" y="272.8" font-size="3.9" font-weight="normal" font-style="normal" text-anchor="middle" fill="#000" stroke="#000" stroke-width="0.1">120</text><text x="44" y="280" font-size="4.9" font-weight="normal" font-style="normal" text-anchor="middle" fill="#000" stroke="#000" stroke-width="0.15">Time (h)</text><text x="93" y="21.3" font-size="5.8" font-weight="bold" font-style="normal" text-anchor="start" fill="#000" stroke="#000" stroke-width="0.35">b</text><text x="139" y="22.3" font-size="4.94" font-weight="normal" font-style="normal" text-anchor="start" fill="#000">Gene ontology enrichment</text><text x="105" y="29.0" font-size="5.0" font-weight="normal" font-style="normal" text-anchor="start" fill="#000">Clusters</text><text x="95.8" y="55.25" font-size="4.6" font-weight="normal" font-style="normal" text-anchor="middle" fill="#000">1</text><text x="95.8" y="115.0" font-size="4.6" font-weight="normal" font-style="normal" text-anchor="middle" fill="#000">2</text><text x="95.8" y="164.0" font-size="4.6" font-weight="normal" font-style="normal" text-anchor="middle" fill="#000">3</text><text x="95.8" y="204.75" font-size="4.6" font-weight="normal" font-style="normal" text-anchor="middle" fill="#000">4</text><text x="95.8" y="250.75" font-size="4.6" font-weight="normal" font-style="normal" text-anchor="middle" fill="#000">5</text><text x="103.4" y="72.2" font-size="3.8" font-weight="normal" font-style="normal" text-anchor="middle" fill="#000" stroke="#000" stroke-width="0.1">0</text><text x="115.2" y="72.2" font-size="3.8" font-weight="normal" font-style="normal" text-anchor="middle" fill="#000" stroke="#000" stroke-width="0.1">0.5</text><text x="127.2" y="72.2" font-size="3.8" font-weight="normal" font-style="normal" text-anchor="middle" fill="#000" stroke="#000" stroke-width="0.1">1.0</text><text x="115" y="76.8" font-size="4.9" font-weight="normal" font-style="normal" text-anchor="middle" fill="#000">Fraction</text><text x="129.5" y="38.6" font-size="4.55" font-weight="normal" font-style="normal" text-anchor="start" fill="#000">Secondary alcohol biosynthetic process</text><text x="129.5" y="45.4" font-size="4.55" font-weight="normal" font-style="normal" text-anchor="start" fill="#000">Sterol biosynthetic process</text><text x="129.5" y="52.2" font-size="4.55" font-weight="normal" font-style="normal" text-anchor="start" fill="#000">Retrograde vesicle-mediated transport, Golgi to ER</text><text x="129.5" y="59.0" font-size="4.55" font-weight="normal" font-style="normal" text-anchor="start" fill="#000">Thiamine metabolic process</text><text x="129.5" y="65.8" font-size="4.55" font-weight="normal" font-style="normal" text-anchor="start" fill="#000">Endosomal transport</text><text x="129.5" y="98.4" font-size="4.55" font-weight="normal" font-style="normal" text-anchor="start" fill="#000">Polysaccharide catabolic process</text><text x="129.5" y="105.1" font-size="4.55" font-weight="normal" font-style="normal" text-anchor="start" fill="#000">Neurotransmitter catabolic process</text><text x="129.5" y="111.8" font-size="4.55" font-weight="normal" font-style="normal" text-anchor="start" fill="#000">Golgi vesicle transport</text><text x="129.5" y="118.5" font-size="4.55" font-weight="normal" font-style="normal" text-anchor="start" fill="#000">Establishment of protein localization</text><text x="129.5" y="125.2" font-size="4.55" font-weight="normal" font-style="normal" text-anchor="start" fill="#000">Vacuolar transport</text><text x="129.5" y="149.5" font-size="4.55" font-weight="normal" font-style="normal" text-anchor="start" fill="#000">Cell division</text><text x="129.5" y="156.2" font-size="4.55" font-weight="normal" font-style="normal" text-anchor="start" fill="#000">Metaphase/anaphase transition</text><text x="129.5" y="162.9" font-size="4.55" font-weight="normal" font-style="normal" text-anchor="start" fill="#000">Cell cycle</text><text x="129.5" y="169.6" font-size="4.55" font-weight="normal" font-style="normal" text-anchor="start" fill="#000">DNA duplex unwinding</text><text x="129.5" y="176.3" font-size="4.55" font-weight="normal" font-style="normal" text-anchor="start" fill="#000">Double-strand break repair</text><text x="129.5" y="191.9" font-size="4.55" font-weight="normal" font-style="normal" text-anchor="start" fill="#000">Cilium organization</text><text x="129.5" y="198.6" font-size="4.55" font-weight="normal" font-style="normal" text-anchor="start" fill="#000">Cilium movement</text><text x="129.5" y="205.3" font-size="4.55" font-weight="normal" font-style="normal" text-anchor="start" fill="#000">Cilium or flagellum-dependent cell motility</text><text x="129.5" y="212.0" font-size="4.55" font-weight="normal" font-style="normal" text-anchor="start" fill="#000">Smoothened signaling pathway</text><text x="129.5" y="218.7" font-size="4.55" font-weight="normal" font-style="normal" text-anchor="start" fill="#000">Left/right pattern formation</text><text x="129.5" y="237.1" font-size="4.55" font-weight="normal" font-style="normal" text-anchor="start" fill="#000">Ribosome biogenesis</text><text x="129.5" y="243.8" font-size="4.55" font-weight="normal" font-style="normal" text-anchor="start" fill="#000">Negative regulation of muscle tissue development</text><text x="129.5" y="250.5" font-size="4.55" font-weight="normal" font-style="normal" text-anchor="start" fill="#000">Protein localization to nucleolus</text><text x="129.5" y="257.2" font-size="4.55" font-weight="normal" font-style="normal" text-anchor="start" fill="#000">Chemotaxis to cAMP</text><text x="129.5" y="263.9" font-size="4.55" font-weight="normal" font-style="normal" text-anchor="start" fill="#000">Sperm axoneme assembly</text><text x="182.5" y="75" font-size="4.2" font-weight="normal" font-style="normal" text-anchor="end" fill="#000">P value</text><text x="184" y="80.5" font-size="3.6" font-weight="normal" font-style="normal" text-anchor="middle" fill="#000">1 × 10<tspan font-size="2.5" dy="-1.5">−1</tspan></text><text x="223" y="80.5" font-size="3.6" font-weight="normal" font-style="normal" text-anchor="middle" fill="#000">1 × 10<tspan font-size="2.5" dy="-1.5">−5</tspan></text><text x="104.6" y="271.2" font-size="4.25" font-weight="normal" font-style="normal" text-anchor="middle" fill="#000">Normalized abundance</text><text x="88.7" y="279.8" font-size="3.6" font-weight="normal" font-style="normal" text-anchor="middle" fill="#000">−2</text><text x="96.2" y="279.8" font-size="3.6" font-weight="normal" font-style="normal" text-anchor="middle" fill="#000">−1</text><text x="104.2" y="279.8" font-size="3.6" font-weight="normal" font-style="normal" text-anchor="middle" fill="#000">0</text><text x="111.7" y="279.8" font-size="3.6" font-weight="normal" font-style="normal" text-anchor="middle" fill="#000">1</text><text x="118.7" y="279.8" font-size="3.6" font-weight="normal" font-style="normal" text-anchor="middle" fill="#000">2</text><text x="238.6" y="21.3" font-size="6.2" font-weight="bold" font-style="normal" text-anchor="start" fill="#000" stroke="#000" stroke-width="0.35">c</text><text x="287" y="22.2" font-size="5.6" font-weight="normal" font-style="italic" text-anchor="middle" fill="#000">C. perkinsii</text><text x="357" y="21.8" font-size="4.8" font-weight="normal" font-style="italic" text-anchor="middle" fill="#000">S. arctica</text><text x="255.55" y="267.9" font-size="3.9" font-weight="normal" font-style="normal" text-anchor="middle" fill="#000" stroke="#000" stroke-width="0.1">54</text><text x="265.65" y="267.9" font-size="3.9" font-weight="normal" font-style="normal" text-anchor="middle" fill="#000" stroke="#000" stroke-width="0.1">72</text><text x="275.75" y="267.9" font-size="3.9" font-weight="normal" font-style="normal" text-anchor="middle" fill="#000" stroke="#000" stroke-width="0.1">84</text><text x="285.85" y="267.9" font-size="3.9" font-weight="normal" font-style="normal" text-anchor="middle" fill="#000" stroke="#000" stroke-width="0.1">90</text><text x="295.95" y="267.9" font-size="3.9" font-weight="normal" font-style="normal" text-anchor="middle" fill="#000" stroke="#000" stroke-width="0.1">96</text><text x="306.05" y="267.9" font-size="3.9" font-weight="normal" font-style="normal" text-anchor="middle" fill="#000" stroke="#000" stroke-width="0.1">104</text><text x="316.15" y="267.9" font-size="3.9" font-weight="normal" font-style="normal" text-anchor="middle" fill="#000" stroke="#000" stroke-width="0.1">120</text><text x="328.61428571428576" y="267.9" font-size="3.9" font-weight="normal" font-style="normal" text-anchor="middle" fill="#000" stroke="#000" stroke-width="0.1">18</text><text x="338.64285714285717" y="267.9" font-size="3.9" font-weight="normal" font-style="normal" text-anchor="middle" fill="#000" stroke="#000" stroke-width="0.1">30</text><text x="348.6714285714286" y="267.9" font-size="3.9" font-weight="normal" font-style="normal" text-anchor="middle" fill="#000" stroke="#000" stroke-width="0.1">42</text><text x="358.70000000000005" y="267.9" font-size="3.9" font-weight="normal" font-style="normal" text-anchor="middle" fill="#000" stroke="#000" stroke-width="0.1">48</text><text x="368.72857142857146" y="267.9" font-size="3.9" font-weight="normal" font-style="normal" text-anchor="middle" fill="#000" stroke="#000" stroke-width="0.1">54</text><text x="378.75714285714287" y="267.9" font-size="3.9" font-weight="normal" font-style="normal" text-anchor="middle" fill="#000" stroke="#000" stroke-width="0.1">60</text><text x="388.78571428571433" y="267.9" font-size="3.9" font-weight="normal" font-style="normal" text-anchor="middle" fill="#000" stroke="#000" stroke-width="0.1">66</text><text x="322.5" y="275.3" font-size="4.75" font-weight="normal" font-style="normal" text-anchor="middle" fill="#000" stroke="#000" stroke-width="0.15">Time (h)</text><text x="0" y="0" font-size="4.9" text-anchor="middle" fill="#222" transform="translate(247.5,92) rotate(-90)">Cell cycle</text><text x="0" y="0" font-size="4.9" text-anchor="middle" fill="#222" transform="translate(247.5,144.5) rotate(-90)">Cytokinesis</text><text x="0" y="0" font-size="4.9" text-anchor="middle" fill="#222" transform="translate(241.5,176.5) rotate(-90)">DNA</text><text x="0" y="0" font-size="4.9" text-anchor="middle" fill="#222" transform="translate(247.5,176.5) rotate(-90)">replication</text><text x="0" y="0" font-size="4.9" text-anchor="middle" fill="#222" transform="translate(241.5,208) rotate(-90)">Cell</text><text x="0" y="0" font-size="4.9" text-anchor="middle" fill="#222" transform="translate(247.5,208) rotate(-90)">polarity</text><text x="0" y="0" font-size="4.9" text-anchor="middle" fill="#222" transform="translate(241.5,231.5) rotate(-90)">Vacuolar</text><text x="0" y="0" font-size="4.9" text-anchor="middle" fill="#222" transform="translate(247.5,231.5) rotate(-90)">transport</text><text x="0" y="0" font-size="4.9" text-anchor="middle" fill="#222" transform="translate(241.5,255.5) rotate(-90)">Cell</text><text x="0" y="0" font-size="4.9" text-anchor="middle" fill="#222" transform="translate(247.5,255.5) rotate(-90)">adhesion</text></g>
</svg>
</body></html>
